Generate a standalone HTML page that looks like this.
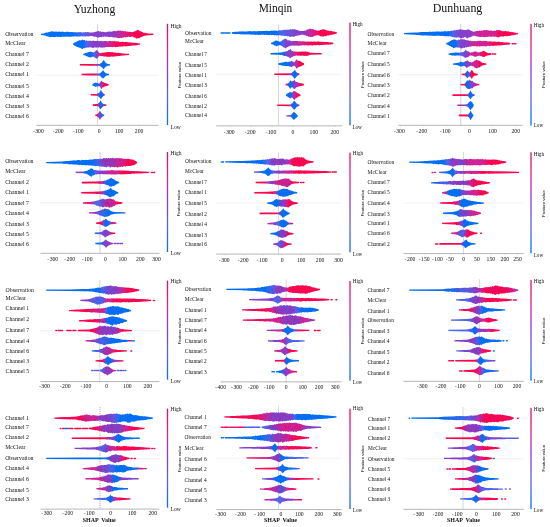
<!DOCTYPE html>
<html><head><meta charset="utf-8"><title>SHAP summary plots</title>
<style>
html,body{margin:0;padding:0;background:#fff;}
svg{display:block;font-family:"Liberation Serif","DejaVu Serif",serif;}
.sf{font-family:"Liberation Sans","DejaVu Sans",sans-serif;}
</style></head><body>
<svg width="550" height="527" viewBox="0 0 550 527">
<defs>
<linearGradient id="g1" gradientUnits="userSpaceOnUse" x1="40.96" x2="153.29" y1="0" y2="0"><stop offset="0" stop-color="#046ef2"/><stop offset="0.29" stop-color="#046ef2"/><stop offset="0.37" stop-color="#5064ec"/><stop offset="0.47" stop-color="#873ecd"/><stop offset="0.63" stop-color="#873ecd"/><stop offset="0.73" stop-color="#d02296"/><stop offset="0.82" stop-color="#fa0550"/><stop offset="1" stop-color="#fa0550"/></linearGradient>
<linearGradient id="g2" gradientUnits="userSpaceOnUse" x1="73.09" x2="140.09" y1="0" y2="0"><stop offset="0" stop-color="#046ef2"/><stop offset="0.15" stop-color="#046ef2"/><stop offset="0.2" stop-color="#5064ec"/><stop offset="0.29" stop-color="#873ecd"/><stop offset="0.42" stop-color="#873ecd"/><stop offset="0.53" stop-color="#d02296"/><stop offset="0.68" stop-color="#fa0550"/><stop offset="1" stop-color="#fa0550"/></linearGradient>
<linearGradient id="g3" gradientUnits="userSpaceOnUse" x1="83.3" x2="129.13" y1="0" y2="0"><stop offset="0" stop-color="#046ef2"/><stop offset="0.19" stop-color="#046ef2"/><stop offset="0.24" stop-color="#5064ec"/><stop offset="0.3" stop-color="#873ecd"/><stop offset="0.36" stop-color="#d02296"/><stop offset="0.43" stop-color="#fa0550"/><stop offset="1" stop-color="#fa0550"/></linearGradient>
<linearGradient id="g4" gradientUnits="userSpaceOnUse" x1="79.81" x2="109.95" y1="0" y2="0"><stop offset="0" stop-color="#fa0550"/><stop offset="0.41" stop-color="#fa0550"/><stop offset="0.62" stop-color="#873ecd"/><stop offset="0.73" stop-color="#046ef2"/><stop offset="1" stop-color="#046ef2"/></linearGradient>
<linearGradient id="g5" gradientUnits="userSpaceOnUse" x1="81.56" x2="108.95" y1="0" y2="0"><stop offset="0" stop-color="#fa0550"/><stop offset="0.39" stop-color="#fa0550"/><stop offset="0.61" stop-color="#873ecd"/><stop offset="0.72" stop-color="#046ef2"/><stop offset="1" stop-color="#046ef2"/></linearGradient>
<linearGradient id="g6" gradientUnits="userSpaceOnUse" x1="92.27" x2="108.7" y1="0" y2="0"><stop offset="0" stop-color="#046ef2"/><stop offset="0.36" stop-color="#046ef2"/><stop offset="0.48" stop-color="#873ecd"/><stop offset="0.61" stop-color="#d02296"/><stop offset="0.76" stop-color="#fa0550"/><stop offset="1" stop-color="#fa0550"/></linearGradient>
<linearGradient id="g7" gradientUnits="userSpaceOnUse" x1="90.77" x2="104.72" y1="0" y2="0"><stop offset="0" stop-color="#fa0550"/><stop offset="0.32" stop-color="#fa0550"/><stop offset="0.52" stop-color="#873ecd"/><stop offset="0.66" stop-color="#046ef2"/><stop offset="0.88" stop-color="#046ef2"/><stop offset="0.96" stop-color="#d02296"/><stop offset="1" stop-color="#fa0550"/></linearGradient>
<linearGradient id="g8" gradientUnits="userSpaceOnUse" x1="92.76" x2="106.46" y1="0" y2="0"><stop offset="0" stop-color="#fa0550"/><stop offset="0.33" stop-color="#fa0550"/><stop offset="0.45" stop-color="#873ecd"/><stop offset="0.55" stop-color="#046ef2"/><stop offset="0.67" stop-color="#046ef2"/><stop offset="0.78" stop-color="#873ecd"/><stop offset="1" stop-color="#d02296"/></linearGradient>
<linearGradient id="g9" gradientUnits="userSpaceOnUse" x1="95.26" x2="104.22" y1="0" y2="0"><stop offset="0" stop-color="#fa0550"/><stop offset="0.28" stop-color="#d02296"/><stop offset="0.5" stop-color="#873ecd"/><stop offset="0.67" stop-color="#046ef2"/><stop offset="0.83" stop-color="#5064ec"/><stop offset="1" stop-color="#873ecd"/></linearGradient>
<linearGradient id="g10" gradientUnits="userSpaceOnUse" x1="221.21" x2="337.02" y1="0" y2="0"><stop offset="0" stop-color="#046ef2"/><stop offset="0.47" stop-color="#046ef2"/><stop offset="0.53" stop-color="#5064ec"/><stop offset="0.65" stop-color="#873ecd"/><stop offset="0.71" stop-color="#873ecd"/><stop offset="0.78" stop-color="#d02296"/><stop offset="0.85" stop-color="#fa0550"/><stop offset="1" stop-color="#fa0550"/></linearGradient>
<linearGradient id="g11" gradientUnits="userSpaceOnUse" x1="271.02" x2="333.29" y1="0" y2="0"><stop offset="0" stop-color="#046ef2"/><stop offset="0.14" stop-color="#046ef2"/><stop offset="0.19" stop-color="#5064ec"/><stop offset="0.24" stop-color="#873ecd"/><stop offset="0.32" stop-color="#873ecd"/><stop offset="0.48" stop-color="#d02296"/><stop offset="0.68" stop-color="#fa0550"/><stop offset="1" stop-color="#fa0550"/></linearGradient>
<linearGradient id="g12" gradientUnits="userSpaceOnUse" x1="270.52" x2="321.58" y1="0" y2="0"><stop offset="0" stop-color="#046ef2"/><stop offset="0.26" stop-color="#046ef2"/><stop offset="0.32" stop-color="#873ecd"/><stop offset="0.4" stop-color="#873ecd"/><stop offset="0.47" stop-color="#d02296"/><stop offset="0.58" stop-color="#fa0550"/><stop offset="1" stop-color="#fa0550"/></linearGradient>
<linearGradient id="g13" gradientUnits="userSpaceOnUse" x1="278.49" x2="304.15" y1="0" y2="0"><stop offset="0" stop-color="#046ef2"/><stop offset="0.44" stop-color="#046ef2"/><stop offset="0.51" stop-color="#873ecd"/><stop offset="0.63" stop-color="#873ecd"/><stop offset="0.71" stop-color="#d02296"/><stop offset="0.81" stop-color="#fa0550"/><stop offset="1" stop-color="#fa0550"/></linearGradient>
<linearGradient id="g14" gradientUnits="userSpaceOnUse" x1="274.26" x2="299.41" y1="0" y2="0"><stop offset="0" stop-color="#fa0550"/><stop offset="0.51" stop-color="#fa0550"/><stop offset="0.67" stop-color="#873ecd"/><stop offset="0.76" stop-color="#046ef2"/><stop offset="0.87" stop-color="#046ef2"/><stop offset="0.94" stop-color="#873ecd"/><stop offset="1" stop-color="#873ecd"/></linearGradient>
<linearGradient id="g15" gradientUnits="userSpaceOnUse" x1="285.47" x2="303.9" y1="0" y2="0"><stop offset="0" stop-color="#d02296"/><stop offset="0.09" stop-color="#d02296"/><stop offset="0.18" stop-color="#046ef2"/><stop offset="0.34" stop-color="#046ef2"/><stop offset="0.43" stop-color="#873ecd"/><stop offset="0.57" stop-color="#873ecd"/><stop offset="0.68" stop-color="#d02296"/><stop offset="0.8" stop-color="#fa0550"/><stop offset="1" stop-color="#fa0550"/></linearGradient>
<linearGradient id="g16" gradientUnits="userSpaceOnUse" x1="285.97" x2="300.54" y1="0" y2="0"><stop offset="0" stop-color="#046ef2"/><stop offset="0.34" stop-color="#046ef2"/><stop offset="0.46" stop-color="#873ecd"/><stop offset="0.62" stop-color="#d02296"/><stop offset="0.84" stop-color="#fa0550"/><stop offset="1" stop-color="#fa0550"/></linearGradient>
<linearGradient id="g17" gradientUnits="userSpaceOnUse" x1="277.25" x2="299.41" y1="0" y2="0"><stop offset="0" stop-color="#fa0550"/><stop offset="0.45" stop-color="#fa0550"/><stop offset="0.63" stop-color="#873ecd"/><stop offset="0.71" stop-color="#046ef2"/><stop offset="0.84" stop-color="#046ef2"/><stop offset="0.91" stop-color="#873ecd"/><stop offset="1" stop-color="#873ecd"/></linearGradient>
<linearGradient id="g18" gradientUnits="userSpaceOnUse" x1="286.46" x2="297.67" y1="0" y2="0"><stop offset="0" stop-color="#873ecd"/><stop offset="0.24" stop-color="#873ecd"/><stop offset="0.4" stop-color="#5064ec"/><stop offset="0.53" stop-color="#046ef2"/><stop offset="1" stop-color="#046ef2"/></linearGradient>
<linearGradient id="g19" gradientUnits="userSpaceOnUse" x1="403.96" x2="518.03" y1="0" y2="0"><stop offset="0" stop-color="#046ef2"/><stop offset="0.39" stop-color="#046ef2"/><stop offset="0.43" stop-color="#5064ec"/><stop offset="0.49" stop-color="#873ecd"/><stop offset="0.57" stop-color="#873ecd"/><stop offset="0.66" stop-color="#d02296"/><stop offset="0.79" stop-color="#d02296"/><stop offset="0.84" stop-color="#fa0550"/><stop offset="1" stop-color="#fa0550"/></linearGradient>
<linearGradient id="g20" gradientUnits="userSpaceOnUse" x1="446.3" x2="510.31" y1="0" y2="0"><stop offset="0" stop-color="#046ef2"/><stop offset="0.14" stop-color="#046ef2"/><stop offset="0.18" stop-color="#5064ec"/><stop offset="0.23" stop-color="#873ecd"/><stop offset="0.33" stop-color="#873ecd"/><stop offset="0.42" stop-color="#d02296"/><stop offset="0.63" stop-color="#d02296"/><stop offset="0.74" stop-color="#fa0550"/><stop offset="1" stop-color="#fa0550"/></linearGradient>
<linearGradient id="g21" gradientUnits="userSpaceOnUse" x1="448.54" x2="491.38" y1="0" y2="0"><stop offset="0" stop-color="#046ef2"/><stop offset="0.23" stop-color="#046ef2"/><stop offset="0.3" stop-color="#5064ec"/><stop offset="0.4" stop-color="#873ecd"/><stop offset="0.45" stop-color="#873ecd"/><stop offset="0.52" stop-color="#d02296"/><stop offset="0.71" stop-color="#d02296"/><stop offset="0.81" stop-color="#fa0550"/><stop offset="1" stop-color="#fa0550"/></linearGradient>
<linearGradient id="g22" gradientUnits="userSpaceOnUse" x1="453.02" x2="486.4" y1="0" y2="0"><stop offset="0" stop-color="#046ef2"/><stop offset="0.31" stop-color="#046ef2"/><stop offset="0.4" stop-color="#873ecd"/><stop offset="0.48" stop-color="#873ecd"/><stop offset="0.57" stop-color="#d02296"/><stop offset="0.72" stop-color="#d02296"/><stop offset="0.8" stop-color="#fa0550"/><stop offset="1" stop-color="#fa0550"/></linearGradient>
<linearGradient id="g23" gradientUnits="userSpaceOnUse" x1="461.74" x2="477.68" y1="0" y2="0"><stop offset="0" stop-color="#fa0550"/><stop offset="0.2" stop-color="#fa0550"/><stop offset="0.28" stop-color="#046ef2"/><stop offset="0.42" stop-color="#046ef2"/><stop offset="0.5" stop-color="#873ecd"/><stop offset="0.59" stop-color="#fa0550"/><stop offset="1" stop-color="#fa0550"/></linearGradient>
<linearGradient id="g24" gradientUnits="userSpaceOnUse" x1="460.5" x2="479.18" y1="0" y2="0"><stop offset="0" stop-color="#fa0550"/><stop offset="0.23" stop-color="#fa0550"/><stop offset="0.29" stop-color="#046ef2"/><stop offset="0.43" stop-color="#046ef2"/><stop offset="0.53" stop-color="#873ecd"/><stop offset="0.71" stop-color="#873ecd"/><stop offset="0.8" stop-color="#d02296"/><stop offset="1" stop-color="#fa0550"/></linearGradient>
<linearGradient id="g25" gradientUnits="userSpaceOnUse" x1="452.53" x2="474.69" y1="0" y2="0"><stop offset="0" stop-color="#fa0550"/><stop offset="0.6" stop-color="#fa0550"/><stop offset="0.71" stop-color="#873ecd"/><stop offset="0.76" stop-color="#046ef2"/><stop offset="0.92" stop-color="#046ef2"/><stop offset="1" stop-color="#873ecd"/></linearGradient>
<linearGradient id="g26" gradientUnits="userSpaceOnUse" x1="457.26" x2="473.7" y1="0" y2="0"><stop offset="0" stop-color="#d02296"/><stop offset="0.45" stop-color="#873ecd"/><stop offset="0.61" stop-color="#5064ec"/><stop offset="0.71" stop-color="#046ef2"/><stop offset="1" stop-color="#046ef2"/></linearGradient>
<linearGradient id="g27" gradientUnits="userSpaceOnUse" x1="458.75" x2="473.45" y1="0" y2="0"><stop offset="0" stop-color="#fa0550"/><stop offset="0.53" stop-color="#fa0550"/><stop offset="0.66" stop-color="#873ecd"/><stop offset="0.75" stop-color="#046ef2"/><stop offset="1" stop-color="#046ef2"/></linearGradient>
<linearGradient id="g28" gradientUnits="userSpaceOnUse" x1="46.19" x2="137.1" y1="0" y2="0"><stop offset="0" stop-color="#046ef2"/><stop offset="0.51" stop-color="#046ef2"/><stop offset="0.58" stop-color="#5064ec"/><stop offset="0.64" stop-color="#873ecd"/><stop offset="0.72" stop-color="#873ecd"/><stop offset="0.78" stop-color="#d02296"/><stop offset="0.84" stop-color="#d02296"/><stop offset="0.9" stop-color="#fa0550"/><stop offset="1" stop-color="#fa0550"/></linearGradient>
<linearGradient id="g29" gradientUnits="userSpaceOnUse" x1="75.58" x2="149.05" y1="0" y2="0"><stop offset="0" stop-color="#873ecd"/><stop offset="0.09" stop-color="#873ecd"/><stop offset="0.13" stop-color="#046ef2"/><stop offset="0.24" stop-color="#046ef2"/><stop offset="0.27" stop-color="#5064ec"/><stop offset="0.31" stop-color="#873ecd"/><stop offset="0.39" stop-color="#873ecd"/><stop offset="0.45" stop-color="#d02296"/><stop offset="0.57" stop-color="#d02296"/><stop offset="0.63" stop-color="#fa0550"/><stop offset="1" stop-color="#fa0550"/></linearGradient>
<linearGradient id="g30" gradientUnits="userSpaceOnUse" x1="81.81" x2="119.17" y1="0" y2="0"><stop offset="0" stop-color="#fa0550"/><stop offset="0.4" stop-color="#fa0550"/><stop offset="0.51" stop-color="#d02296"/><stop offset="0.59" stop-color="#873ecd"/><stop offset="0.67" stop-color="#046ef2"/><stop offset="1" stop-color="#046ef2"/></linearGradient>
<linearGradient id="g31" gradientUnits="userSpaceOnUse" x1="81.31" x2="118.17" y1="0" y2="0"><stop offset="0" stop-color="#fa0550"/><stop offset="0.41" stop-color="#fa0550"/><stop offset="0.52" stop-color="#d02296"/><stop offset="0.6" stop-color="#873ecd"/><stop offset="0.68" stop-color="#046ef2"/><stop offset="1" stop-color="#046ef2"/></linearGradient>
<linearGradient id="g32" gradientUnits="userSpaceOnUse" x1="83.05" x2="122.4" y1="0" y2="0"><stop offset="0" stop-color="#fa0550"/><stop offset="0.23" stop-color="#d02296"/><stop offset="0.31" stop-color="#5064ec"/><stop offset="0.42" stop-color="#5064ec"/><stop offset="0.5" stop-color="#873ecd"/><stop offset="0.77" stop-color="#d02296"/><stop offset="0.85" stop-color="#fa0550"/><stop offset="1" stop-color="#fa0550"/></linearGradient>
<linearGradient id="g33" gradientUnits="userSpaceOnUse" x1="89.03" x2="125.39" y1="0" y2="0"><stop offset="0" stop-color="#d02296"/><stop offset="0.17" stop-color="#873ecd"/><stop offset="0.31" stop-color="#5064ec"/><stop offset="0.55" stop-color="#046ef2"/><stop offset="0.95" stop-color="#046ef2"/><stop offset="1" stop-color="#d02296"/></linearGradient>
<linearGradient id="g34" gradientUnits="userSpaceOnUse" x1="96" x2="116.43" y1="0" y2="0"><stop offset="0" stop-color="#fa0550"/><stop offset="0.24" stop-color="#fa0550"/><stop offset="0.35" stop-color="#873ecd"/><stop offset="0.46" stop-color="#046ef2"/><stop offset="0.6" stop-color="#046ef2"/><stop offset="0.72" stop-color="#873ecd"/><stop offset="0.85" stop-color="#d02296"/><stop offset="1" stop-color="#fa0550"/></linearGradient>
<linearGradient id="g35" gradientUnits="userSpaceOnUse" x1="94.76" x2="115.18" y1="0" y2="0"><stop offset="0" stop-color="#046ef2"/><stop offset="0.27" stop-color="#5064ec"/><stop offset="0.46" stop-color="#873ecd"/><stop offset="0.67" stop-color="#873ecd"/><stop offset="0.83" stop-color="#d02296"/><stop offset="0.95" stop-color="#fa0550"/><stop offset="1" stop-color="#fa0550"/></linearGradient>
<linearGradient id="g36" gradientUnits="userSpaceOnUse" x1="95.26" x2="112.94" y1="0" y2="0"><stop offset="0" stop-color="#046ef2"/><stop offset="0.37" stop-color="#046ef2"/><stop offset="0.54" stop-color="#873ecd"/><stop offset="0.82" stop-color="#873ecd"/><stop offset="1" stop-color="#d02296"/></linearGradient>
<linearGradient id="g37" gradientUnits="userSpaceOnUse" x1="221.46" x2="313.61" y1="0" y2="0"><stop offset="0" stop-color="#046ef2"/><stop offset="0.44" stop-color="#046ef2"/><stop offset="0.5" stop-color="#5064ec"/><stop offset="0.56" stop-color="#873ecd"/><stop offset="0.7" stop-color="#873ecd"/><stop offset="0.74" stop-color="#d02296"/><stop offset="0.78" stop-color="#fa0550"/><stop offset="1" stop-color="#fa0550"/></linearGradient>
<linearGradient id="g38" gradientUnits="userSpaceOnUse" x1="254.08" x2="331.05" y1="0" y2="0"><stop offset="0" stop-color="#873ecd"/><stop offset="0.08" stop-color="#5064ec"/><stop offset="0.11" stop-color="#046ef2"/><stop offset="0.21" stop-color="#046ef2"/><stop offset="0.24" stop-color="#5064ec"/><stop offset="0.28" stop-color="#873ecd"/><stop offset="0.36" stop-color="#873ecd"/><stop offset="0.41" stop-color="#d02296"/><stop offset="0.49" stop-color="#d02296"/><stop offset="0.53" stop-color="#fa0550"/><stop offset="1" stop-color="#fa0550"/></linearGradient>
<linearGradient id="g39" gradientUnits="userSpaceOnUse" x1="255.58" x2="299.17" y1="0" y2="0"><stop offset="0" stop-color="#fa0550"/><stop offset="0.21" stop-color="#fa0550"/><stop offset="0.27" stop-color="#873ecd"/><stop offset="0.38" stop-color="#873ecd"/><stop offset="0.49" stop-color="#d02296"/><stop offset="0.78" stop-color="#d02296"/><stop offset="0.84" stop-color="#fa0550"/><stop offset="1" stop-color="#fa0550"/></linearGradient>
<linearGradient id="g40" gradientUnits="userSpaceOnUse" x1="254.33" x2="297.17" y1="0" y2="0"><stop offset="0" stop-color="#fa0550"/><stop offset="0.41" stop-color="#fa0550"/><stop offset="0.47" stop-color="#d02296"/><stop offset="0.52" stop-color="#873ecd"/><stop offset="0.59" stop-color="#046ef2"/><stop offset="1" stop-color="#046ef2"/></linearGradient>
<linearGradient id="g41" gradientUnits="userSpaceOnUse" x1="267.29" x2="297.92" y1="0" y2="0"><stop offset="0" stop-color="#046ef2"/><stop offset="0.37" stop-color="#046ef2"/><stop offset="0.45" stop-color="#873ecd"/><stop offset="0.54" stop-color="#873ecd"/><stop offset="0.62" stop-color="#d02296"/><stop offset="0.72" stop-color="#fa0550"/><stop offset="1" stop-color="#fa0550"/></linearGradient>
<linearGradient id="g42" gradientUnits="userSpaceOnUse" x1="259.56" x2="289.7" y1="0" y2="0"><stop offset="0" stop-color="#fa0550"/><stop offset="0.57" stop-color="#fa0550"/><stop offset="0.65" stop-color="#873ecd"/><stop offset="0.72" stop-color="#046ef2"/><stop offset="1" stop-color="#046ef2"/></linearGradient>
<linearGradient id="g43" gradientUnits="userSpaceOnUse" x1="267.53" x2="293.09" y1="0" y2="0"><stop offset="0" stop-color="#d02296"/><stop offset="0.26" stop-color="#873ecd"/><stop offset="0.43" stop-color="#5064ec"/><stop offset="0.52" stop-color="#046ef2"/><stop offset="0.79" stop-color="#046ef2"/><stop offset="0.87" stop-color="#d02296"/><stop offset="1" stop-color="#fa0550"/></linearGradient>
<linearGradient id="g44" gradientUnits="userSpaceOnUse" x1="270.27" x2="293.44" y1="0" y2="0"><stop offset="0" stop-color="#046ef2"/><stop offset="0.28" stop-color="#046ef2"/><stop offset="0.45" stop-color="#873ecd"/><stop offset="0.65" stop-color="#873ecd"/><stop offset="0.75" stop-color="#fa0550"/><stop offset="1" stop-color="#fa0550"/></linearGradient>
<linearGradient id="g45" gradientUnits="userSpaceOnUse" x1="273.16" x2="291.69" y1="0" y2="0"><stop offset="0" stop-color="#d02296"/><stop offset="0.19" stop-color="#873ecd"/><stop offset="0.35" stop-color="#5064ec"/><stop offset="0.49" stop-color="#873ecd"/><stop offset="0.62" stop-color="#d02296"/><stop offset="0.73" stop-color="#fa0550"/><stop offset="1" stop-color="#fa0550"/></linearGradient>
<linearGradient id="g46" gradientUnits="userSpaceOnUse" x1="409.19" x2="506.2" y1="0" y2="0"><stop offset="0" stop-color="#046ef2"/><stop offset="0.35" stop-color="#046ef2"/><stop offset="0.4" stop-color="#5064ec"/><stop offset="0.45" stop-color="#873ecd"/><stop offset="0.56" stop-color="#873ecd"/><stop offset="0.62" stop-color="#d02296"/><stop offset="0.77" stop-color="#d02296"/><stop offset="0.82" stop-color="#fa0550"/><stop offset="1" stop-color="#fa0550"/></linearGradient>
<linearGradient id="g47" gradientUnits="userSpaceOnUse" x1="439.08" x2="519.03" y1="0" y2="0"><stop offset="0" stop-color="#5064ec"/><stop offset="0.11" stop-color="#046ef2"/><stop offset="0.17" stop-color="#046ef2"/><stop offset="0.2" stop-color="#5064ec"/><stop offset="0.23" stop-color="#873ecd"/><stop offset="0.3" stop-color="#873ecd"/><stop offset="0.35" stop-color="#d02296"/><stop offset="0.47" stop-color="#d02296"/><stop offset="0.53" stop-color="#fa0550"/><stop offset="1" stop-color="#fa0550"/></linearGradient>
<linearGradient id="g48" gradientUnits="userSpaceOnUse" x1="431.11" x2="489.89" y1="0" y2="0"><stop offset="0" stop-color="#046ef2"/><stop offset="0.2" stop-color="#5064ec"/><stop offset="0.41" stop-color="#873ecd"/><stop offset="0.59" stop-color="#873ecd"/><stop offset="0.66" stop-color="#d02296"/><stop offset="0.75" stop-color="#fa0550"/><stop offset="1" stop-color="#fa0550"/></linearGradient>
<linearGradient id="g49" gradientUnits="userSpaceOnUse" x1="442.07" x2="488.64" y1="0" y2="0"><stop offset="0" stop-color="#d02296"/><stop offset="0.08" stop-color="#d02296"/><stop offset="0.13" stop-color="#046ef2"/><stop offset="0.38" stop-color="#046ef2"/><stop offset="0.44" stop-color="#873ecd"/><stop offset="0.53" stop-color="#873ecd"/><stop offset="0.61" stop-color="#d02296"/><stop offset="0.74" stop-color="#d02296"/><stop offset="0.82" stop-color="#fa0550"/><stop offset="1" stop-color="#fa0550"/></linearGradient>
<linearGradient id="g50" gradientUnits="userSpaceOnUse" x1="440.32" x2="483.91" y1="0" y2="0"><stop offset="0" stop-color="#fa0550"/><stop offset="0.31" stop-color="#fa0550"/><stop offset="0.39" stop-color="#d02296"/><stop offset="0.43" stop-color="#873ecd"/><stop offset="0.48" stop-color="#046ef2"/><stop offset="1" stop-color="#046ef2"/></linearGradient>
<linearGradient id="g51" gradientUnits="userSpaceOnUse" x1="443.06" x2="480.92" y1="0" y2="0"><stop offset="0" stop-color="#046ef2"/><stop offset="0.4" stop-color="#046ef2"/><stop offset="0.49" stop-color="#873ecd"/><stop offset="0.65" stop-color="#873ecd"/><stop offset="0.75" stop-color="#d02296"/><stop offset="0.91" stop-color="#d02296"/><stop offset="1" stop-color="#fa0550"/></linearGradient>
<linearGradient id="g52" gradientUnits="userSpaceOnUse" x1="442.07" x2="478.43" y1="0" y2="0"><stop offset="0" stop-color="#fa0550"/><stop offset="0.41" stop-color="#fa0550"/><stop offset="0.49" stop-color="#873ecd"/><stop offset="0.55" stop-color="#873ecd"/><stop offset="0.6" stop-color="#046ef2"/><stop offset="1" stop-color="#046ef2"/></linearGradient>
<linearGradient id="g53" gradientUnits="userSpaceOnUse" x1="451.18" x2="477.43" y1="0" y2="0"><stop offset="0" stop-color="#d02296"/><stop offset="0.23" stop-color="#d02296"/><stop offset="0.33" stop-color="#5064ec"/><stop offset="0.46" stop-color="#5064ec"/><stop offset="0.54" stop-color="#873ecd"/><stop offset="0.61" stop-color="#fa0550"/><stop offset="1" stop-color="#fa0550"/></linearGradient>
<linearGradient id="g54" gradientUnits="userSpaceOnUse" x1="439.33" x2="475.62" y1="0" y2="0"><stop offset="0" stop-color="#fa0550"/><stop offset="0.54" stop-color="#fa0550"/><stop offset="0.62" stop-color="#873ecd"/><stop offset="0.69" stop-color="#046ef2"/><stop offset="1" stop-color="#046ef2"/></linearGradient>
<linearGradient id="g55" gradientUnits="userSpaceOnUse" x1="46.19" x2="139.09" y1="0" y2="0"><stop offset="0" stop-color="#046ef2"/><stop offset="0.55" stop-color="#046ef2"/><stop offset="0.62" stop-color="#5064ec"/><stop offset="0.7" stop-color="#873ecd"/><stop offset="0.76" stop-color="#873ecd"/><stop offset="0.82" stop-color="#d02296"/><stop offset="0.89" stop-color="#fa0550"/><stop offset="1" stop-color="#fa0550"/></linearGradient>
<linearGradient id="g56" gradientUnits="userSpaceOnUse" x1="80.31" x2="151.05" y1="0" y2="0"><stop offset="0" stop-color="#873ecd"/><stop offset="0.13" stop-color="#873ecd"/><stop offset="0.19" stop-color="#5064ec"/><stop offset="0.31" stop-color="#5064ec"/><stop offset="0.37" stop-color="#d02296"/><stop offset="0.43" stop-color="#d02296"/><stop offset="0.49" stop-color="#fa0550"/><stop offset="1" stop-color="#fa0550"/></linearGradient>
<linearGradient id="g57" gradientUnits="userSpaceOnUse" x1="69.1" x2="130.87" y1="0" y2="0"><stop offset="0" stop-color="#fa0550"/><stop offset="0.31" stop-color="#fa0550"/><stop offset="0.46" stop-color="#d02296"/><stop offset="0.56" stop-color="#d02296"/><stop offset="0.6" stop-color="#5064ec"/><stop offset="0.63" stop-color="#046ef2"/><stop offset="1" stop-color="#046ef2"/></linearGradient>
<linearGradient id="g58" gradientUnits="userSpaceOnUse" x1="79.07" x2="127.14" y1="0" y2="0"><stop offset="0" stop-color="#fa0550"/><stop offset="0.34" stop-color="#fa0550"/><stop offset="0.46" stop-color="#d02296"/><stop offset="0.53" stop-color="#873ecd"/><stop offset="0.59" stop-color="#046ef2"/><stop offset="1" stop-color="#046ef2"/></linearGradient>
<linearGradient id="g59" gradientUnits="userSpaceOnUse" x1="77.82" x2="131.87" y1="0" y2="0"><stop offset="0" stop-color="#fa0550"/><stop offset="0.27" stop-color="#fa0550"/><stop offset="0.36" stop-color="#d02296"/><stop offset="0.45" stop-color="#873ecd"/><stop offset="0.68" stop-color="#873ecd"/><stop offset="0.77" stop-color="#d02296"/><stop offset="0.83" stop-color="#fa0550"/><stop offset="1" stop-color="#fa0550"/></linearGradient>
<linearGradient id="g60" gradientUnits="userSpaceOnUse" x1="85.54" x2="135.11" y1="0" y2="0"><stop offset="0" stop-color="#d02296"/><stop offset="0.19" stop-color="#873ecd"/><stop offset="0.31" stop-color="#5064ec"/><stop offset="0.54" stop-color="#046ef2"/><stop offset="0.85" stop-color="#046ef2"/><stop offset="0.88" stop-color="#fa0550"/><stop offset="0.91" stop-color="#fa0550"/><stop offset="0.94" stop-color="#046ef2"/><stop offset="1" stop-color="#046ef2"/></linearGradient>
<linearGradient id="g61" gradientUnits="userSpaceOnUse" x1="91.77" x2="126.89" y1="0" y2="0"><stop offset="0" stop-color="#046ef2"/><stop offset="0.19" stop-color="#5064ec"/><stop offset="0.33" stop-color="#873ecd"/><stop offset="0.55" stop-color="#d02296"/><stop offset="0.69" stop-color="#fa0550"/><stop offset="1" stop-color="#fa0550"/></linearGradient>
<linearGradient id="g62" gradientUnits="userSpaceOnUse" x1="95.5" x2="123.4" y1="0" y2="0"><stop offset="0" stop-color="#fa0550"/><stop offset="0.26" stop-color="#fa0550"/><stop offset="0.33" stop-color="#873ecd"/><stop offset="0.4" stop-color="#046ef2"/><stop offset="0.55" stop-color="#046ef2"/><stop offset="0.67" stop-color="#873ecd"/><stop offset="0.79" stop-color="#d02296"/><stop offset="1" stop-color="#fa0550"/></linearGradient>
<linearGradient id="g63" gradientUnits="userSpaceOnUse" x1="99.74" x2="115.93" y1="0" y2="0"><stop offset="0" stop-color="#5064ec"/><stop offset="0.18" stop-color="#5064ec"/><stop offset="0.34" stop-color="#873ecd"/><stop offset="0.65" stop-color="#873ecd"/><stop offset="0.8" stop-color="#d02296"/><stop offset="1" stop-color="#d02296"/></linearGradient>
<linearGradient id="g64" gradientUnits="userSpaceOnUse" x1="226.44" x2="320.09" y1="0" y2="0"><stop offset="0" stop-color="#046ef2"/><stop offset="0.41" stop-color="#046ef2"/><stop offset="0.48" stop-color="#5064ec"/><stop offset="0.56" stop-color="#873ecd"/><stop offset="0.62" stop-color="#873ecd"/><stop offset="0.64" stop-color="#d02296"/><stop offset="0.67" stop-color="#fa0550"/><stop offset="1" stop-color="#fa0550"/></linearGradient>
<linearGradient id="g65" gradientUnits="userSpaceOnUse" x1="249.1" x2="329.05" y1="0" y2="0"><stop offset="0" stop-color="#873ecd"/><stop offset="0.29" stop-color="#873ecd"/><stop offset="0.32" stop-color="#5064ec"/><stop offset="0.38" stop-color="#5064ec"/><stop offset="0.42" stop-color="#d02296"/><stop offset="0.57" stop-color="#d02296"/><stop offset="0.62" stop-color="#fa0550"/><stop offset="1" stop-color="#fa0550"/></linearGradient>
<linearGradient id="g66" gradientUnits="userSpaceOnUse" x1="242.13" x2="318.84" y1="0" y2="0"><stop offset="0" stop-color="#fa0550"/><stop offset="0.32" stop-color="#fa0550"/><stop offset="0.39" stop-color="#d02296"/><stop offset="0.46" stop-color="#873ecd"/><stop offset="0.65" stop-color="#873ecd"/><stop offset="0.71" stop-color="#5064ec"/><stop offset="0.78" stop-color="#046ef2"/><stop offset="1" stop-color="#046ef2"/></linearGradient>
<linearGradient id="g67" gradientUnits="userSpaceOnUse" x1="242.88" x2="315.11" y1="0" y2="0"><stop offset="0" stop-color="#fa0550"/><stop offset="0.23" stop-color="#fa0550"/><stop offset="0.41" stop-color="#d02296"/><stop offset="0.51" stop-color="#d02296"/><stop offset="0.58" stop-color="#873ecd"/><stop offset="0.75" stop-color="#873ecd"/><stop offset="0.84" stop-color="#d02296"/><stop offset="1" stop-color="#873ecd"/></linearGradient>
<linearGradient id="g68" gradientUnits="userSpaceOnUse" x1="266.79" x2="309.38" y1="0" y2="0"><stop offset="0" stop-color="#873ecd"/><stop offset="0.36" stop-color="#d02296"/><stop offset="0.42" stop-color="#046ef2"/><stop offset="0.58" stop-color="#046ef2"/><stop offset="0.68" stop-color="#873ecd"/><stop offset="0.8" stop-color="#fa0550"/><stop offset="1" stop-color="#fa0550"/></linearGradient>
<linearGradient id="g69" gradientUnits="userSpaceOnUse" x1="267.91" x2="304.65" y1="0" y2="0"><stop offset="0" stop-color="#873ecd"/><stop offset="0.29" stop-color="#873ecd"/><stop offset="0.42" stop-color="#d02296"/><stop offset="0.48" stop-color="#873ecd"/><stop offset="0.54" stop-color="#5064ec"/><stop offset="1" stop-color="#5064ec"/></linearGradient>
<linearGradient id="g70" gradientUnits="userSpaceOnUse" x1="274.13" x2="297.67" y1="0" y2="0"><stop offset="0" stop-color="#d02296"/><stop offset="0.24" stop-color="#d02296"/><stop offset="0.37" stop-color="#873ecd"/><stop offset="0.53" stop-color="#873ecd"/><stop offset="0.64" stop-color="#fa0550"/><stop offset="1" stop-color="#fa0550"/></linearGradient>
<linearGradient id="g71" gradientUnits="userSpaceOnUse" x1="274.93" x2="298.92" y1="0" y2="0"><stop offset="0" stop-color="#fa0550"/><stop offset="0.34" stop-color="#fa0550"/><stop offset="0.42" stop-color="#873ecd"/><stop offset="0.47" stop-color="#046ef2"/><stop offset="1" stop-color="#046ef2"/></linearGradient>
<linearGradient id="g72" gradientUnits="userSpaceOnUse" x1="276.1" x2="296.92" y1="0" y2="0"><stop offset="0" stop-color="#046ef2"/><stop offset="0.27" stop-color="#046ef2"/><stop offset="0.39" stop-color="#873ecd"/><stop offset="0.56" stop-color="#873ecd"/><stop offset="0.68" stop-color="#d02296"/><stop offset="1" stop-color="#fa0550"/></linearGradient>
<linearGradient id="g73" gradientUnits="userSpaceOnUse" x1="409.19" x2="518.28" y1="0" y2="0"><stop offset="0" stop-color="#046ef2"/><stop offset="0.33" stop-color="#046ef2"/><stop offset="0.51" stop-color="#5064ec"/><stop offset="0.62" stop-color="#873ecd"/><stop offset="0.66" stop-color="#d02296"/><stop offset="0.7" stop-color="#fa0550"/><stop offset="0.9" stop-color="#fa0550"/><stop offset="0.96" stop-color="#d02296"/><stop offset="1" stop-color="#873ecd"/></linearGradient>
<linearGradient id="g74" gradientUnits="userSpaceOnUse" x1="456.01" x2="512.05" y1="0" y2="0"><stop offset="0" stop-color="#5064ec"/><stop offset="0.21" stop-color="#5064ec"/><stop offset="0.32" stop-color="#873ecd"/><stop offset="0.41" stop-color="#873ecd"/><stop offset="0.47" stop-color="#d02296"/><stop offset="0.56" stop-color="#fa0550"/><stop offset="1" stop-color="#fa0550"/></linearGradient>
<linearGradient id="g75" gradientUnits="userSpaceOnUse" x1="459" x2="505.08" y1="0" y2="0"><stop offset="0" stop-color="#fa0550"/><stop offset="0.22" stop-color="#fa0550"/><stop offset="0.3" stop-color="#d02296"/><stop offset="0.41" stop-color="#873ecd"/><stop offset="0.47" stop-color="#5064ec"/><stop offset="0.52" stop-color="#046ef2"/><stop offset="1" stop-color="#046ef2"/></linearGradient>
<linearGradient id="g76" gradientUnits="userSpaceOnUse" x1="451.03" x2="497.61" y1="0" y2="0"><stop offset="0" stop-color="#5064ec"/><stop offset="0.39" stop-color="#5064ec"/><stop offset="0.49" stop-color="#873ecd"/><stop offset="0.58" stop-color="#873ecd"/><stop offset="0.65" stop-color="#d02296"/><stop offset="0.74" stop-color="#d02296"/><stop offset="0.8" stop-color="#fa0550"/><stop offset="1" stop-color="#fa0550"/></linearGradient>
<linearGradient id="g77" gradientUnits="userSpaceOnUse" x1="448.29" x2="499.85" y1="0" y2="0"><stop offset="0" stop-color="#5064ec"/><stop offset="0.43" stop-color="#5064ec"/><stop offset="0.48" stop-color="#046ef2"/><stop offset="0.54" stop-color="#046ef2"/><stop offset="0.58" stop-color="#873ecd"/><stop offset="0.67" stop-color="#873ecd"/><stop offset="0.76" stop-color="#d02296"/><stop offset="0.88" stop-color="#fa0550"/><stop offset="1" stop-color="#fa0550"/></linearGradient>
<linearGradient id="g78" gradientUnits="userSpaceOnUse" x1="454.27" x2="501.84" y1="0" y2="0"><stop offset="0" stop-color="#873ecd"/><stop offset="0.28" stop-color="#873ecd"/><stop offset="0.39" stop-color="#873ecd"/><stop offset="0.49" stop-color="#5064ec"/><stop offset="0.54" stop-color="#046ef2"/><stop offset="1" stop-color="#046ef2"/></linearGradient>
<linearGradient id="g79" gradientUnits="userSpaceOnUse" x1="456.26" x2="491.38" y1="0" y2="0"><stop offset="0" stop-color="#5064ec"/><stop offset="0.33" stop-color="#873ecd"/><stop offset="0.65" stop-color="#873ecd"/><stop offset="0.72" stop-color="#d02296"/><stop offset="0.79" stop-color="#fa0550"/><stop offset="1" stop-color="#fa0550"/></linearGradient>
<linearGradient id="g80" gradientUnits="userSpaceOnUse" x1="448.79" x2="495.37" y1="0" y2="0"><stop offset="0" stop-color="#fa0550"/><stop offset="0.56" stop-color="#fa0550"/><stop offset="0.62" stop-color="#873ecd"/><stop offset="0.66" stop-color="#046ef2"/><stop offset="0.74" stop-color="#046ef2"/><stop offset="0.82" stop-color="#5064ec"/><stop offset="1" stop-color="#873ecd"/></linearGradient>
<linearGradient id="g81" gradientUnits="userSpaceOnUse" x1="459.75" x2="498.73" y1="0" y2="0"><stop offset="0" stop-color="#fa0550"/><stop offset="0.43" stop-color="#fa0550"/><stop offset="0.5" stop-color="#d02296"/><stop offset="0.55" stop-color="#873ecd"/><stop offset="0.6" stop-color="#5064ec"/><stop offset="0.66" stop-color="#046ef2"/><stop offset="1" stop-color="#5064ec"/></linearGradient>
<linearGradient id="g82" gradientUnits="userSpaceOnUse" x1="54.41" x2="152.91" y1="0" y2="0"><stop offset="0" stop-color="#fa0550"/><stop offset="0.25" stop-color="#fa0550"/><stop offset="0.32" stop-color="#d02296"/><stop offset="0.41" stop-color="#d02296"/><stop offset="0.47" stop-color="#873ecd"/><stop offset="0.56" stop-color="#873ecd"/><stop offset="0.62" stop-color="#5064ec"/><stop offset="0.67" stop-color="#046ef2"/><stop offset="1" stop-color="#046ef2"/></linearGradient>
<linearGradient id="g83" gradientUnits="userSpaceOnUse" x1="60.39" x2="144.57" y1="0" y2="0"><stop offset="0" stop-color="#fa0550"/><stop offset="0.41" stop-color="#fa0550"/><stop offset="0.48" stop-color="#d02296"/><stop offset="0.53" stop-color="#873ecd"/><stop offset="0.7" stop-color="#873ecd"/><stop offset="0.78" stop-color="#d02296"/><stop offset="0.85" stop-color="#fa0550"/><stop offset="1" stop-color="#fa0550"/></linearGradient>
<linearGradient id="g84" gradientUnits="userSpaceOnUse" x1="71.84" x2="139.84" y1="0" y2="0"><stop offset="0" stop-color="#fa0550"/><stop offset="0.48" stop-color="#fa0550"/><stop offset="0.56" stop-color="#873ecd"/><stop offset="0.62" stop-color="#873ecd"/><stop offset="0.65" stop-color="#046ef2"/><stop offset="1" stop-color="#046ef2"/></linearGradient>
<linearGradient id="g85" gradientUnits="userSpaceOnUse" x1="74.58" x2="150.55" y1="0" y2="0"><stop offset="0" stop-color="#873ecd"/><stop offset="0.3" stop-color="#873ecd"/><stop offset="0.36" stop-color="#5064ec"/><stop offset="0.44" stop-color="#873ecd"/><stop offset="0.48" stop-color="#d02296"/><stop offset="0.53" stop-color="#d02296"/><stop offset="0.58" stop-color="#fa0550"/><stop offset="1" stop-color="#fa0550"/></linearGradient>
<linearGradient id="g86" gradientUnits="userSpaceOnUse" x1="46.19" x2="129.63" y1="0" y2="0"><stop offset="0" stop-color="#046ef2"/><stop offset="0.74" stop-color="#046ef2"/><stop offset="0.78" stop-color="#873ecd"/><stop offset="0.87" stop-color="#873ecd"/><stop offset="0.9" stop-color="#d02296"/><stop offset="0.94" stop-color="#fa0550"/><stop offset="1" stop-color="#fa0550"/></linearGradient>
<linearGradient id="g87" gradientUnits="userSpaceOnUse" x1="82.68" x2="146.81" y1="0" y2="0"><stop offset="0" stop-color="#d02296"/><stop offset="0.18" stop-color="#d02296"/><stop offset="0.27" stop-color="#873ecd"/><stop offset="0.46" stop-color="#5064ec"/><stop offset="0.52" stop-color="#046ef2"/><stop offset="0.83" stop-color="#046ef2"/><stop offset="0.89" stop-color="#d02296"/><stop offset="0.97" stop-color="#d02296"/><stop offset="1" stop-color="#046ef2"/></linearGradient>
<linearGradient id="g88" gradientUnits="userSpaceOnUse" x1="85.47" x2="138.59" y1="0" y2="0"><stop offset="0" stop-color="#d02296"/><stop offset="0.29" stop-color="#d02296"/><stop offset="0.39" stop-color="#873ecd"/><stop offset="0.48" stop-color="#873ecd"/><stop offset="0.53" stop-color="#046ef2"/><stop offset="0.61" stop-color="#046ef2"/><stop offset="0.69" stop-color="#873ecd"/><stop offset="1" stop-color="#873ecd"/></linearGradient>
<linearGradient id="g89" gradientUnits="userSpaceOnUse" x1="96.43" x2="128.01" y1="0" y2="0"><stop offset="0" stop-color="#d02296"/><stop offset="0.22" stop-color="#d02296"/><stop offset="0.34" stop-color="#873ecd"/><stop offset="0.44" stop-color="#873ecd"/><stop offset="0.51" stop-color="#046ef2"/><stop offset="1" stop-color="#046ef2"/></linearGradient>
<linearGradient id="g90" gradientUnits="userSpaceOnUse" x1="93.64" x2="130.37" y1="0" y2="0"><stop offset="0" stop-color="#5064ec"/><stop offset="0.34" stop-color="#5064ec"/><stop offset="0.41" stop-color="#046ef2"/><stop offset="0.48" stop-color="#046ef2"/><stop offset="0.54" stop-color="#873ecd"/><stop offset="0.61" stop-color="#d02296"/><stop offset="0.71" stop-color="#fa0550"/><stop offset="1" stop-color="#fa0550"/></linearGradient>
<linearGradient id="g91" gradientUnits="userSpaceOnUse" x1="224.45" x2="336.53" y1="0" y2="0"><stop offset="0" stop-color="#fa0550"/><stop offset="0.27" stop-color="#fa0550"/><stop offset="0.35" stop-color="#d02296"/><stop offset="0.43" stop-color="#873ecd"/><stop offset="0.58" stop-color="#873ecd"/><stop offset="0.62" stop-color="#5064ec"/><stop offset="0.65" stop-color="#046ef2"/><stop offset="1" stop-color="#046ef2"/></linearGradient>
<linearGradient id="g92" gradientUnits="userSpaceOnUse" x1="221.46" x2="321.23" y1="0" y2="0"><stop offset="0" stop-color="#fa0550"/><stop offset="0.21" stop-color="#fa0550"/><stop offset="0.26" stop-color="#5064ec"/><stop offset="0.45" stop-color="#5064ec"/><stop offset="0.51" stop-color="#873ecd"/><stop offset="0.61" stop-color="#d02296"/><stop offset="0.8" stop-color="#d02296"/><stop offset="0.86" stop-color="#873ecd"/><stop offset="1" stop-color="#873ecd"/></linearGradient>
<linearGradient id="g93" gradientUnits="userSpaceOnUse" x1="221.46" x2="309.13" y1="0" y2="0"><stop offset="0" stop-color="#046ef2"/><stop offset="0.45" stop-color="#046ef2"/><stop offset="0.54" stop-color="#5064ec"/><stop offset="0.62" stop-color="#873ecd"/><stop offset="0.75" stop-color="#d02296"/><stop offset="0.85" stop-color="#fa0550"/><stop offset="1" stop-color="#fa0550"/></linearGradient>
<linearGradient id="g94" gradientUnits="userSpaceOnUse" x1="239.27" x2="311.87" y1="0" y2="0"><stop offset="0" stop-color="#873ecd"/><stop offset="0.42" stop-color="#873ecd"/><stop offset="0.46" stop-color="#046ef2"/><stop offset="0.51" stop-color="#046ef2"/><stop offset="0.54" stop-color="#d02296"/><stop offset="0.63" stop-color="#d02296"/><stop offset="0.69" stop-color="#fa0550"/><stop offset="1" stop-color="#fa0550"/></linearGradient>
<linearGradient id="g95" gradientUnits="userSpaceOnUse" x1="246.61" x2="308.63" y1="0" y2="0"><stop offset="0" stop-color="#fa0550"/><stop offset="0.35" stop-color="#d02296"/><stop offset="0.46" stop-color="#873ecd"/><stop offset="0.53" stop-color="#873ecd"/><stop offset="0.56" stop-color="#046ef2"/><stop offset="0.63" stop-color="#046ef2"/><stop offset="0.71" stop-color="#5064ec"/><stop offset="1" stop-color="#5064ec"/></linearGradient>
<linearGradient id="g96" gradientUnits="userSpaceOnUse" x1="254.96" x2="299.66" y1="0" y2="0"><stop offset="0" stop-color="#fa0550"/><stop offset="0.43" stop-color="#fa0550"/><stop offset="0.51" stop-color="#873ecd"/><stop offset="0.57" stop-color="#046ef2"/><stop offset="0.89" stop-color="#046ef2"/><stop offset="1" stop-color="#873ecd"/></linearGradient>
<linearGradient id="g97" gradientUnits="userSpaceOnUse" x1="262.05" x2="313.54" y1="0" y2="0"><stop offset="0" stop-color="#5064ec"/><stop offset="0.17" stop-color="#873ecd"/><stop offset="0.26" stop-color="#046ef2"/><stop offset="0.46" stop-color="#046ef2"/><stop offset="0.53" stop-color="#873ecd"/><stop offset="0.61" stop-color="#d02296"/><stop offset="0.68" stop-color="#fa0550"/><stop offset="1" stop-color="#fa0550"/></linearGradient>
<linearGradient id="g98" gradientUnits="userSpaceOnUse" x1="262.05" x2="296.38" y1="0" y2="0"><stop offset="0" stop-color="#d02296"/><stop offset="0.3" stop-color="#d02296"/><stop offset="0.44" stop-color="#873ecd"/><stop offset="0.53" stop-color="#873ecd"/><stop offset="0.59" stop-color="#046ef2"/><stop offset="0.63" stop-color="#873ecd"/><stop offset="0.77" stop-color="#d02296"/><stop offset="0.91" stop-color="#fa0550"/><stop offset="1" stop-color="#fa0550"/></linearGradient>
<linearGradient id="g99" gradientUnits="userSpaceOnUse" x1="264.47" x2="302.1" y1="0" y2="0"><stop offset="0" stop-color="#d02296"/><stop offset="0.26" stop-color="#873ecd"/><stop offset="0.34" stop-color="#5064ec"/><stop offset="0.46" stop-color="#5064ec"/><stop offset="0.54" stop-color="#873ecd"/><stop offset="0.7" stop-color="#873ecd"/><stop offset="0.84" stop-color="#d02296"/><stop offset="1" stop-color="#fa0550"/></linearGradient>
<linearGradient id="g100" gradientUnits="userSpaceOnUse" x1="409.44" x2="513.72" y1="0" y2="0"><stop offset="0" stop-color="#046ef2"/><stop offset="0.34" stop-color="#046ef2"/><stop offset="0.56" stop-color="#5064ec"/><stop offset="0.64" stop-color="#873ecd"/><stop offset="0.68" stop-color="#d02296"/><stop offset="0.73" stop-color="#fa0550"/><stop offset="1" stop-color="#fa0550"/></linearGradient>
<linearGradient id="g101" gradientUnits="userSpaceOnUse" x1="454.92" x2="510.06" y1="0" y2="0"><stop offset="0" stop-color="#fa0550"/><stop offset="0.13" stop-color="#fa0550"/><stop offset="0.21" stop-color="#873ecd"/><stop offset="0.44" stop-color="#873ecd"/><stop offset="0.5" stop-color="#5064ec"/><stop offset="0.56" stop-color="#046ef2"/><stop offset="1" stop-color="#046ef2"/></linearGradient>
<linearGradient id="g102" gradientUnits="userSpaceOnUse" x1="445.8" x2="518.65" y1="0" y2="0"><stop offset="0" stop-color="#fa0550"/><stop offset="0.36" stop-color="#fa0550"/><stop offset="0.42" stop-color="#d02296"/><stop offset="0.47" stop-color="#873ecd"/><stop offset="0.49" stop-color="#046ef2"/><stop offset="0.53" stop-color="#046ef2"/><stop offset="0.57" stop-color="#873ecd"/><stop offset="1" stop-color="#5064ec"/></linearGradient>
<linearGradient id="g103" gradientUnits="userSpaceOnUse" x1="447.79" x2="499.85" y1="0" y2="0"><stop offset="0" stop-color="#873ecd"/><stop offset="0.36" stop-color="#873ecd"/><stop offset="0.42" stop-color="#5064ec"/><stop offset="0.5" stop-color="#5064ec"/><stop offset="0.55" stop-color="#d02296"/><stop offset="0.63" stop-color="#d02296"/><stop offset="0.69" stop-color="#fa0550"/><stop offset="1" stop-color="#fa0550"/></linearGradient>
<linearGradient id="g104" gradientUnits="userSpaceOnUse" x1="443.96" x2="492.38" y1="0" y2="0"><stop offset="0" stop-color="#873ecd"/><stop offset="0.49" stop-color="#873ecd"/><stop offset="0.55" stop-color="#5064ec"/><stop offset="0.63" stop-color="#5064ec"/><stop offset="0.69" stop-color="#d02296"/><stop offset="0.77" stop-color="#d02296"/><stop offset="0.84" stop-color="#fa0550"/><stop offset="1" stop-color="#fa0550"/></linearGradient>
<linearGradient id="g105" gradientUnits="userSpaceOnUse" x1="447.05" x2="488.59" y1="0" y2="0"><stop offset="0" stop-color="#fa0550"/><stop offset="0.47" stop-color="#fa0550"/><stop offset="0.56" stop-color="#d02296"/><stop offset="0.71" stop-color="#873ecd"/><stop offset="0.77" stop-color="#046ef2"/><stop offset="1" stop-color="#046ef2"/></linearGradient>
<linearGradient id="g106" gradientUnits="userSpaceOnUse" x1="454.87" x2="498.73" y1="0" y2="0"><stop offset="0" stop-color="#fa0550"/><stop offset="0.26" stop-color="#d02296"/><stop offset="0.38" stop-color="#873ecd"/><stop offset="0.45" stop-color="#873ecd"/><stop offset="0.51" stop-color="#046ef2"/><stop offset="1" stop-color="#046ef2"/></linearGradient>
<linearGradient id="g107" gradientUnits="userSpaceOnUse" x1="449.96" x2="502.84" y1="0" y2="0"><stop offset="0" stop-color="#fa0550"/><stop offset="0.41" stop-color="#fa0550"/><stop offset="0.5" stop-color="#d02296"/><stop offset="0.56" stop-color="#873ecd"/><stop offset="0.61" stop-color="#5064ec"/><stop offset="1" stop-color="#5064ec"/></linearGradient>
<linearGradient id="g108" gradientUnits="userSpaceOnUse" x1="460.25" x2="497.86" y1="0" y2="0"><stop offset="0" stop-color="#5064ec"/><stop offset="0.3" stop-color="#5064ec"/><stop offset="0.36" stop-color="#046ef2"/><stop offset="0.45" stop-color="#046ef2"/><stop offset="0.5" stop-color="#873ecd"/><stop offset="0.6" stop-color="#d02296"/><stop offset="0.7" stop-color="#fa0550"/><stop offset="1" stop-color="#fa0550"/></linearGradient>
<linearGradient id="cb" x1="0" x2="0" y1="0" y2="1"><stop offset="0" stop-color="#fa0550"/><stop offset="0.25" stop-color="#d02296"/><stop offset="0.5" stop-color="#873ecd"/><stop offset="0.75" stop-color="#5064ec"/><stop offset="1" stop-color="#046ef2"/></linearGradient>
</defs>
<rect width="550" height="527" fill="#fff"/>
<line x1="36.23" x2="158.77" y1="75.27" y2="75.27" stroke="#e2e2e2" stroke-width="0.5"/>
<line x1="97.5" x2="97.5" y1="24.46" y2="125.34" stroke="#c0c0c0" stroke-width="0.6"/>
<line x1="36.23" x2="158.77" y1="125.34" y2="125.34" stroke="#888" stroke-width="0.6"/>
<line x1="39.46" x2="39.46" y1="125.34" y2="126.44" stroke="#aaa" stroke-width="0.5"/>
<text x="39.46" y="132.83" font-size="5.7" text-anchor="middle" fill="#111">300</text>
<text x="34.79" y="132.83" font-size="5.7" text-anchor="end" fill="#555">-</text>
<line x1="59.39" x2="59.39" y1="125.34" y2="126.44" stroke="#aaa" stroke-width="0.5"/>
<text x="59.39" y="132.83" font-size="5.7" text-anchor="middle" fill="#111">200</text>
<text x="54.71" y="132.83" font-size="5.7" text-anchor="end" fill="#555">-</text>
<line x1="79.32" x2="79.32" y1="125.34" y2="126.44" stroke="#aaa" stroke-width="0.5"/>
<text x="79.32" y="132.83" font-size="5.7" text-anchor="middle" fill="#111">100</text>
<text x="74.64" y="132.83" font-size="5.7" text-anchor="end" fill="#555">-</text>
<line x1="99.24" x2="99.24" y1="125.34" y2="126.44" stroke="#aaa" stroke-width="0.5"/>
<text x="99.24" y="132.83" font-size="5.7" text-anchor="middle" fill="#111">0</text>
<line x1="119.17" x2="119.17" y1="125.34" y2="126.44" stroke="#aaa" stroke-width="0.5"/>
<text x="119.17" y="132.83" font-size="5.7" text-anchor="middle" fill="#111">100</text>
<line x1="139.09" x2="139.09" y1="125.34" y2="126.44" stroke="#aaa" stroke-width="0.5"/>
<text x="139.09" y="132.83" font-size="5.7" text-anchor="middle" fill="#111">200</text>
<text x="5.2" y="36.2" font-size="5.8" fill="#111">Observation</text>
<path d="M41,33.7 43.7,33.4 44.5,33.2 45.4,32.8 46.2,32.6 46.9,32.6 47.7,32.4 48.4,32.2 49.2,31.8 49.9,32 50.6,31.6 51.3,31.6 52,31.3 52.7,31.3 53.4,31.7 54.1,31.6 54.9,31.8 55.6,31.5 56.3,31.6 57.1,31.9 57.8,31.5 58.5,31.8 59.3,31.7 60,31.5 60.7,31.9 61.5,31.8 62.2,31.7 62.9,31.5 63.7,31.9 64.4,32.1 65.1,32.2 65.9,31.8 66.6,31.7 67.4,31.8 68.2,31.9 68.9,31.8 69.7,32 70.4,32.3 71.2,32 72,31.9 72.7,32.1 73.5,32.3 74.2,32.3 75,32.3 75.8,32.3 76.5,32.2 77.3,32.4 78,32.2 78.8,32 79.6,32.3 80.3,32.3 81,32 81.8,32.4 82.5,32.4 83.2,32.2 84,32.5 84.7,32.3 85.4,32.1 86.1,32.3 86.9,32.2 87.6,32.1 88.3,32.1 89.1,32.4 89.8,32.5 90.5,32.5 91.3,32.5 92.1,32.3 92.9,32.4 93.7,32.3 94.5,32.2 95.3,31.8 96.1,31.8 96.9,31.5 97.7,30.9 98.5,31 99.2,31.5 100,31.4 100.7,31.2 101.5,31.9 102.2,31.7 103,31.8 103.7,32 104.5,31.9 105.2,32.2 105.9,32.2 106.6,31.9 107.4,32 108.1,31.6 108.8,31.5 109.5,31.5 110.2,31.8 111,31.6 111.7,31.8 112.4,31.6 113.2,31 113.9,30.9 114.7,30.8 115.4,31.3 116.2,31.2 116.9,30.8 117.7,30.5 118.4,30.6 119.2,31 119.9,30.3 120.6,30.6 121.3,31.1 122.1,31.1 122.8,30.7 123.5,31.2 124.2,31.1 124.9,31.6 125.7,31.1 126.4,31.7 127.1,31.2 127.8,31.7 128.5,31.9 129.3,31.5 130,31.9 130.7,32 131.4,31.9 132.1,32.2 132.9,32 133.6,31.8 134.4,31.6 135.1,31.2 135.8,30.7 136.6,30.5 137.3,30.1 138,29.7 138.7,30.2 139.4,31 140.1,31.2 140.8,31.2 141.6,31.8 142.3,32 143.1,32.5 143.8,32.7 144.6,32.8 145.3,33 146.1,33 146.8,33.2 147.6,33.3 148.3,33.4 153.3,33.6 153.3,35 148.3,35.2 147.6,35.3 146.8,35.4 146.1,35.5 145.3,35.7 144.6,35.7 143.8,35.9 143.1,36.3 142.3,36.8 141.6,36.9 140.8,37.3 140.1,37.6 139.4,38.3 138.7,38.1 138,38.3 137.3,38.6 136.6,38.6 135.8,38.2 135.1,37.5 134.4,37.5 133.6,36.9 132.9,36.8 132.1,36.4 131.4,36.4 130.7,36.9 130,37 129.3,36.9 128.5,36.6 127.8,37 127.1,37.1 126.4,37.3 125.7,37.4 124.9,37 124.2,37.1 123.5,37.8 122.8,37.5 122.1,37.9 121.3,38 120.6,37.8 119.9,38.2 119.2,38.1 118.4,38.2 117.7,37.8 116.9,38.1 116.2,37.4 115.4,37.3 114.7,37.4 113.9,37.7 113.2,37.3 112.4,37.3 111.7,37 111,36.7 110.2,37 109.5,37.1 108.8,37.1 108.1,37.1 107.4,36.6 106.6,36.8 105.9,36.8 105.2,36.5 104.5,36.6 103.7,36.9 103,36.5 102.2,36.7 101.5,37.3 100.7,36.9 100,37.1 99.2,37.2 98.5,37.6 97.7,37.8 96.9,36.9 96.1,36.9 95.3,36.5 94.5,36.9 93.7,36.5 92.9,36.3 92.1,36.1 91.3,36.1 90.5,36.1 89.8,36.3 89.1,36.2 88.3,36.4 87.6,36.4 86.9,36.1 86.1,36.4 85.4,36.4 84.7,36.4 84,36.3 83.2,36.2 82.5,36.4 81.8,36.2 81,36.2 80.3,36.6 79.6,36.4 78.8,36.6 78,36.6 77.3,36.4 76.5,36.6 75.8,36.3 75,36.6 74.2,36.3 73.5,36.5 72.7,36.6 72,36.4 71.2,36.8 70.4,36.7 69.7,36.7 68.9,36.9 68.2,36.6 67.4,36.7 66.6,36.6 65.9,36.7 65.1,36.8 64.4,36.7 63.7,36.9 62.9,36.5 62.2,36.7 61.5,37.1 60.7,36.9 60,37 59.3,36.8 58.5,37 57.8,36.9 57.1,36.8 56.3,36.7 55.6,37 54.9,37.1 54.1,37.3 53.4,36.9 52.7,36.9 52,36.7 51.3,36.9 50.6,37.2 49.9,36.7 49.2,37 48.4,36.4 47.7,36.4 46.9,36.2 46.2,35.9 45.4,35.6 44.5,35.4 43.7,35.2 41,35Z" fill="url(#g1)"/>
<text x="5.2" y="45.4" font-size="5.8" fill="#111">McClear</text>
<path d="M73.1,43.5 73.9,43.1 74.7,42.6 75.6,42.2 76.5,41.8 77.3,41.3 78.2,40.7 78.9,40.7 79.6,40.1 80.4,40.5 81.1,40.3 81.8,40.1 82.5,39.5 83.2,40.3 83.9,40 84.6,40 85.3,40.8 86,40.8 86.8,40.3 87.5,41 88.3,40.7 89,41 89.8,40.6 90.5,40.7 91.3,41.2 92,40.6 92.8,41.1 93.5,40.5 94.3,41.1 95,41.1 95.8,41 96.5,40.9 97.3,40.6 98.1,41.1 98.8,40.8 99.6,41.2 100.3,40.7 101.1,41.2 101.9,40.8 102.6,41.2 103.4,41.3 104.1,41 104.9,40.9 105.7,41.1 106.4,41 107.2,41.3 107.9,41.4 108.7,41.2 109.5,40.8 110.2,41 110.9,41.1 111.7,41.2 112.4,40.9 113.2,41.4 113.9,40.9 114.7,41 115.4,41.3 116.2,41.5 116.9,41.3 117.7,41.6 118.4,41.4 119.2,41.7 119.9,41.9 120.6,42 121.3,41.9 122.1,42 122.8,41.6 123.5,42 124.2,42 124.9,42.1 125.7,42.1 126.4,41.8 127.1,42.2 127.8,42.3 128.6,42.4 129.3,42.3 130,42.5 130.7,42.6 131.4,42.6 132.2,42.7 132.9,42.7 133.6,42.6 134.4,42.7 135.2,42.8 136,43 136.8,43.1 137.6,43.2 140.1,43.5 140.1,44.8 137.6,45.1 136.8,45.2 136,45.3 135.2,45.5 134.4,45.6 133.6,45.6 132.9,45.6 132.2,45.6 131.4,45.8 130.7,45.8 130,45.9 129.3,46 128.6,46 127.8,46 127.1,46.4 126.4,46.3 125.7,46.5 124.9,46.3 124.2,46.3 123.5,46.3 122.8,46.5 122.1,46.7 121.3,46.3 120.6,46.7 119.9,46.4 119.2,46.6 118.4,46.8 117.7,47 116.9,47.1 116.2,46.9 115.4,47.2 114.7,47 113.9,46.8 113.2,47.1 112.4,47.2 111.7,46.9 110.9,46.9 110.2,47 109.5,47.1 108.7,47.1 107.9,47 107.2,47 106.4,47.1 105.7,47 104.9,47.7 104.1,47.2 103.4,47.6 102.6,47.7 101.9,47.6 101.1,47.7 100.3,47.4 99.6,47.1 98.8,47.6 98.1,47.8 97.3,47.3 96.5,47.8 95.8,47.2 95,47.7 94.3,47.3 93.5,47.9 92.8,47.9 92,47.5 91.3,47.4 90.5,47.5 89.8,47.1 89,47.4 88.3,47.4 87.5,47.5 86.8,47.8 86,47.5 85.3,48.1 84.6,48.4 83.9,47.8 83.2,48.5 82.5,48.9 81.8,48.9 81.1,48.1 80.4,48.1 79.6,47.5 78.9,47.9 78.2,47.1 77.3,47.1 76.5,46.7 75.6,46.1 74.7,45.7 73.9,45.2 73.1,44.8Z" fill="url(#g2)"/>
<text x="5.2" y="56.2" font-size="5.8" fill="#111">Channel 7</text>
<path d="M83.3,53.8 84,53.7 84.7,53.5 85.4,53.1 86,53 86.8,52.9 87.5,52.3 88.3,52.1 89,52.2 89.8,51.7 90.5,51.6 91.3,51.9 92,51.9 92.8,52.3 93.5,52.5 94.4,52 95.3,51.2 96,50.5 96.7,49.9 97.5,50.6 98.2,51.8 98.9,52.4 99.5,53 100.3,53.2 101.1,52.9 101.9,52.8 102.7,52.8 103.5,52.7 104.3,52.4 105.1,52.3 105.9,52.4 106.7,52 107.5,51.9 108.2,52.3 108.9,52 109.6,52 110.3,52.2 111.1,52.3 111.8,52.1 112.5,52.1 113.2,52.7 114,52.3 114.7,52.6 115.4,52.7 116.1,52.8 116.8,52.9 117.6,52.7 118.3,52.8 119,52.9 119.7,53.1 120.5,53.1 121.2,53.3 121.9,53.3 122.7,53.4 123.5,53.5 124.3,53.6 125.1,53.7 125.9,53.8 129.1,53.8 129.1,55.1 125.9,55.2 125.1,55.3 124.3,55.4 123.5,55.5 122.7,55.6 121.9,55.6 121.2,55.7 120.5,55.7 119.7,56 119,56 118.3,56 117.6,56 116.8,56.2 116.1,56.3 115.4,56.5 114.7,56.3 114,56.7 113.2,56.5 112.5,56.8 111.8,56.5 111.1,56.5 110.3,56.7 109.6,56.7 108.9,57 108.2,56.8 107.5,56.7 106.7,56.7 105.9,56.6 105.1,56.4 104.3,56.5 103.5,56.4 102.7,56.1 101.9,56.3 101.1,55.9 100.3,55.9 99.5,55.8 98.9,56.3 98.2,57.2 97.5,58.3 96.7,58.5 96,58.5 95.3,57.8 94.4,57.4 93.5,56.6 92.8,56.5 92,57 91.3,57.3 90.5,57.4 89.8,57.5 89,57 88.3,56.9 87.5,56.5 86.8,56.3 86,56 85.4,55.6 84.7,55.5 84,55.3 83.3,55.1Z" fill="url(#g3)"/>
<text x="5.2" y="66.2" font-size="5.8" fill="#111">Channel 2</text>
<path d="M79.8,64 89.8,63.9 99.5,63.9 100.4,63.5 101.2,63 101.9,62.6 102.5,61.4 103.6,59.9 104.7,61.3 105.7,62.9 106.3,63.1 107,63.7 107.7,63.8 108.5,63.9 109.2,64.1 110,64.2 110,65.5 109.2,65.5 108.5,65.7 107.7,65.8 107,66 106.3,66.4 105.7,66.7 104.7,67.8 103.6,69.5 102.5,67.7 101.9,67.5 101.2,66.9 100.4,66.2 99.5,65.8 89.8,65.8 79.8,65.6Z" fill="url(#g4)"/>
<text x="5.2" y="76.2" font-size="5.8" fill="#111">Channel 1</text>
<path d="M81.6,73.7 89.8,73.6 99,73.6 99.9,73.2 100.7,72.8 101.4,72.1 102,71.5 103,70.1 104,71.4 105,72.4 105.6,72.9 106.2,73.2 106.9,73.5 107.5,73.7 108.2,73.8 109,73.9 109,75.2 108.2,75.2 107.5,75.4 106.9,75.6 106.2,75.7 105.6,76.2 105,76.6 104,78.1 103,78.6 102,77.5 101.4,77.4 100.7,76.6 99.9,75.8 99,75.5 89.8,75.5 81.6,75.3Z" fill="url(#g5)"/>
<text x="5.2" y="87.8" font-size="5.8" fill="#111">Channel 5</text>
<path d="M92.3,84.1 93.1,83.7 94,83.2 94.9,82.9 95.8,82.5 96.4,82.9 97.1,82.7 97.7,83.1 98.5,83.4 99.2,83.4 100.2,82.2 100.9,81.2 101.5,80.6 102.1,81.4 102.7,82 103.7,82.3 104.3,82.7 105,82.9 105.8,83.2 106.7,83.6 107.4,83.7 108,84 108.7,84.1 108.7,85.4 108,85.5 107.4,85.7 106.7,85.9 105.8,86.2 105,86.5 104.3,86.6 103.7,87.2 102.7,87.2 102.1,88.7 101.5,88.9 100.9,88.1 100.2,87.1 99.2,85.9 98.5,86.3 97.7,86.4 97.1,86.4 96.4,86.5 95.8,86.9 94.9,86.5 94,86 93.1,85.7 92.3,85.4Z" fill="url(#g6)"/>
<text x="5.2" y="97.8" font-size="5.8" fill="#111">Channel 4</text>
<path d="M90.8,94 96.7,93.9 97.5,93.6 98.2,93.3 98.9,92.8 99.5,92.2 100.2,91.5 100.9,89.6 101.5,91.1 102.2,91.9 102.9,93 103.5,93.6 104.1,93.9 104.7,94.1 104.7,95.5 104.1,95.7 103.5,96 102.9,96.6 102.2,97.3 101.5,98.6 100.9,99 100.2,98.3 99.5,97.4 98.9,96.9 98.2,96.2 97.5,96.1 96.7,95.7 90.8,95.6Z" fill="url(#g7)"/>
<text x="5.2" y="107.8" font-size="5.8" fill="#111">Channel 3</text>
<path d="M92.8,104.3 97.5,104.1 98.2,103.5 99.1,102.4 99.8,102 100.5,100.1 101.2,101.5 101.9,102.7 103,103.8 103.7,104 104.4,104.1 105.1,104.2 105.8,104.3 106.5,104.4 106.5,105.8 105.8,105.9 105.1,106 104.4,106.1 103.7,106.2 103,106.4 101.9,107.8 101.2,108.2 100.5,109.6 99.8,108.8 99.1,107.3 98.2,106.6 97.5,106 92.8,105.9Z" fill="url(#g8)"/>
<text x="5.2" y="117.8" font-size="5.8" fill="#111">Channel 6</text>
<path d="M95.3,114.6 95.9,114.4 96.6,114.3 97.2,114 97.9,113.8 98.5,113.1 99.2,111.7 100,110.8 100.7,112.1 101.5,113.3 102.1,113.7 102.7,114.1 103.5,114.4 104.2,114.6 104.2,115.9 103.5,116.2 102.7,116.4 102.1,117.2 101.5,117.6 100.7,118.6 100,119.9 99.2,118.7 98.5,117.6 97.9,116.9 97.2,116.4 96.6,116.3 95.9,116.2 95.3,116Z" fill="url(#g9)"/>
<rect x="166.85" y="23.8" width="1.3" height="101.2" fill="url(#cb)"/>
<text x="170.6" y="27.91" font-size="5.5" fill="#111">High</text>
<text x="170.6" y="128.51" font-size="5.5" fill="#111">Low</text>
<text transform="translate(180.55,75) rotate(-90)" font-size="4.35" text-anchor="middle" class="sf" fill="#000">Feature value</text>
<line x1="216.23" x2="342" y1="74.28" y2="74.28" stroke="#e2e2e2" stroke-width="0.5"/>
<line x1="278.49" x2="278.49" y1="24.46" y2="125.83" stroke="#c0c0c0" stroke-width="0.6"/>
<line x1="216.23" x2="342" y1="125.83" y2="125.83" stroke="#888" stroke-width="0.6"/>
<line x1="230.42" x2="230.42" y1="125.83" y2="126.93" stroke="#aaa" stroke-width="0.5"/>
<text x="230.42" y="133.57" font-size="5.7" text-anchor="middle" fill="#111">300</text>
<text x="225.75" y="133.57" font-size="5.7" text-anchor="end" fill="#555">-</text>
<line x1="251.34" x2="251.34" y1="125.83" y2="126.93" stroke="#aaa" stroke-width="0.5"/>
<text x="251.34" y="133.57" font-size="5.7" text-anchor="middle" fill="#111">200</text>
<text x="246.67" y="133.57" font-size="5.7" text-anchor="end" fill="#555">-</text>
<line x1="272.02" x2="272.02" y1="125.83" y2="126.93" stroke="#aaa" stroke-width="0.5"/>
<text x="272.02" y="133.57" font-size="5.7" text-anchor="middle" fill="#111">100</text>
<text x="267.34" y="133.57" font-size="5.7" text-anchor="end" fill="#555">-</text>
<line x1="292.94" x2="292.94" y1="125.83" y2="126.93" stroke="#aaa" stroke-width="0.5"/>
<text x="292.94" y="133.57" font-size="5.7" text-anchor="middle" fill="#111">0</text>
<line x1="313.86" x2="313.86" y1="125.83" y2="126.93" stroke="#aaa" stroke-width="0.5"/>
<text x="313.86" y="133.57" font-size="5.7" text-anchor="middle" fill="#111">100</text>
<line x1="334.78" x2="334.78" y1="125.83" y2="126.93" stroke="#aaa" stroke-width="0.5"/>
<text x="334.78" y="133.57" font-size="5.7" text-anchor="middle" fill="#111">200</text>
<text x="185" y="34.92" font-size="5.4" fill="#111">Observation</text>
<path d="M231.9,32.2 232.7,32.1 233.4,32 234.2,31.9 234.9,31.8 235.7,31.7 236.4,31.8 237.1,31.7 237.9,31.7 238.6,31.6 239.4,31.6 240.1,31.4 240.9,31.4 241.6,31.6 242.4,31.3 243.1,31.5 243.9,31.4 244.7,31.5 245.4,31.4 246.2,31.5 247,31.4 247.7,31.3 248.5,31.2 249.3,31.3 250,31.1 250.8,31.2 251.6,31.4 252.3,31.3 253.1,31.2 253.9,31.3 254.6,31.1 255.4,31.3 256.2,31.3 256.9,31.3 257.7,31.3 258.5,30.9 259.2,31 260,30.9 260.8,31.2 261.5,30.9 262.3,30.9 263.1,31 263.8,31.1 264.6,31 265.4,30.7 266.1,30.7 266.9,30.9 267.7,30.7 268.4,31.1 269.2,30.9 270,31 270.7,30.6 271.5,30.8 272.3,30.6 273,31 273.8,30.5 274.5,30.5 275.3,30.7 276,30.4 276.7,30.7 277.5,30.7 278.2,30.8 279,30.3 279.7,30.2 280.5,30.6 281.2,30.1 281.9,30.4 282.6,30.3 283.3,29.8 284,29.9 284.7,29.8 285.4,29.8 286.1,29.9 286.9,29.4 287.6,29.8 288.3,29.7 289,29.8 289.7,29.4 290.4,28.9 291.1,29.4 291.8,29.5 292.4,28.9 293.1,29.5 293.8,29.2 294.5,29.3 295.2,29.5 295.9,29.5 296.7,29.9 297.4,30 298.2,30.5 298.9,30.7 299.7,30.7 300.4,30.9 301.2,31 301.9,31 302.7,31.1 303.5,31 304.3,30.6 305.1,30.8 305.9,30.5 306.6,29.7 307.4,29.4 308.1,29.2 308.9,29.5 309.6,28.6 310.5,28.7 311.4,28.9 312,29.2 312.7,29.3 313.4,29.1 314.2,30 315,29.8 315.9,30.4 316.5,30.2 317.2,30.8 317.8,30.7 318.6,30.4 319.3,30.4 320.1,30 320.8,29.9 321.6,29.8 322.3,29.6 323.1,29.1 323.8,29.4 324.5,29.3 325.2,30.1 325.9,30 326.6,30.3 327.3,30.4 328,30.8 328.7,30.5 329.4,31 330.1,30.9 330.8,31.1 331.5,31.1 332.3,31.4 333,31.3 333.8,31.7 334.5,31.6 335.4,32 336.2,32.2 337,32.3 337,33.6 336.2,33.6 335.4,33.9 334.5,34.3 333.8,34.2 333,34.6 332.3,34.6 331.5,34.9 330.8,34.8 330.1,35 329.4,35.2 328.7,35.5 328,35.4 327.3,35.3 326.6,35.9 325.9,36.1 325.2,36.4 324.5,36.1 323.8,36.3 323.1,36.9 322.3,36.3 321.6,36.3 320.8,36.5 320.1,35.7 319.3,35.8 318.6,35.2 317.8,35.2 317.2,35.1 316.5,35.5 315.9,35.4 315,35.7 314.2,36.1 313.4,36.4 312.7,36.9 312,36.7 311.4,37.1 310.5,37.2 309.6,36.5 308.9,36.9 308.1,36.3 307.4,36 306.6,35.9 305.9,35.4 305.1,35.2 304.3,35.3 303.5,35 302.7,34.4 301.9,34.8 301.2,34.7 300.4,35.2 299.7,35 298.9,35.5 298.2,35.4 297.4,35.5 296.7,35.8 295.9,36 295.2,35.9 294.5,36.7 293.8,36.7 293.1,36.6 292.4,36.7 291.8,36.7 291.1,36.3 290.4,37.1 289.7,37.1 289,36.6 288.3,36 287.6,36.5 286.9,35.9 286.1,36 285.4,35.9 284.7,36.1 284,36 283.3,35.5 282.6,35.7 281.9,35.4 281.2,35.8 280.5,35.4 279.7,35.1 279,35.4 278.2,35.5 277.5,35.2 276.7,35.4 276,35.3 275.3,35.1 274.5,35.4 273.8,35 273,34.9 272.3,34.9 271.5,35.3 270.7,34.8 270,35 269.2,35.3 268.4,35 267.7,35 266.9,35.1 266.1,34.8 265.4,34.8 264.6,34.9 263.8,34.7 263.1,34.8 262.3,34.8 261.5,34.6 260.8,35 260,34.7 259.2,35 258.5,34.9 257.7,34.7 256.9,34.6 256.2,34.9 255.4,34.7 254.6,34.9 253.9,34.6 253.1,34.5 252.3,34.8 251.6,34.7 250.8,34.5 250,34.5 249.3,34.4 248.5,34.6 247.7,34.4 247,34.5 246.2,34.3 245.4,34.6 244.7,34.4 243.9,34.5 243.1,34.2 242.4,34.4 241.6,34.3 240.9,34.3 240.1,34.3 239.4,34.3 238.6,34.1 237.9,34.1 237.1,34.2 236.4,34.1 235.7,34.2 234.9,34.1 234.2,34 233.4,33.9 232.7,33.8 231.9,33.6Z" fill="url(#g10)"/>
<line x1="221.21" x2="224.45" y1="32.93" y2="32.93" stroke="#046ef2" stroke-width="1.5" stroke-linecap="round"/>
<line x1="225.44" x2="229.93" y1="32.93" y2="32.93" stroke="#046ef2" stroke-width="1.5" stroke-linecap="round"/>
<text x="185" y="43.32" font-size="5.4" fill="#111">McClear</text>
<path d="M271,42.7 271.9,42.5 272.7,42.2 273.5,41.8 274.4,41.3 275.3,40.8 275.9,40.6 276.5,40.6 277.4,40.7 278.2,41.3 279,41.4 279.7,41.7 280.5,41.6 281.2,41.4 282,40.4 282.7,39.7 283.6,39.4 284.4,38.9 285.2,38.6 286,39.1 286.9,39.5 287.7,40.4 288.4,40.2 289.1,40.2 289.8,40.6 290.5,40.8 291.2,41.2 291.9,41.2 292.7,41 293.4,41 294.2,40.9 294.9,41.1 295.7,41.1 296.4,40.9 297.2,41 297.9,41.1 298.6,41.4 299.4,41.3 300.1,41.1 300.8,41.2 301.5,41.5 302.3,41.2 303,41.2 303.7,41.2 304.4,41.4 305.2,41.6 305.9,41.4 306.7,41.7 307.4,41.6 308.2,41.4 308.9,41.6 309.7,41.7 310.5,41.5 311.2,41.4 312,41.5 312.7,41.7 313.5,41.5 314.3,41.5 315,41.4 315.8,41.7 316.5,41.7 317.3,41.5 318.1,41.5 318.8,41.6 319.6,41.7 320.3,41.8 321.1,41.9 321.8,41.7 322.6,41.8 323.3,42 324.1,41.9 324.8,42.1 325.6,42.1 326.3,42.1 327.1,42 327.8,42.1 328.5,42.3 329.2,42.3 329.9,42.4 330.5,42.3 333.3,42.7 333.3,44 330.5,44.5 329.9,44.5 329.2,44.5 328.5,44.7 327.8,44.7 327.1,44.6 326.3,44.8 325.6,44.8 324.8,44.8 324.1,44.7 323.3,44.8 322.6,45.1 321.8,45 321.1,44.9 320.3,44.9 319.6,45.2 318.8,45.3 318.1,45 317.3,45 316.5,45 315.8,45.3 315,45.2 314.3,45.1 313.5,45.2 312.7,45.4 312,45.4 311.2,45.3 310.5,45.2 309.7,45.3 308.9,45.4 308.2,45.5 307.4,45.5 306.7,45.2 305.9,45.3 305.2,45.2 304.4,45.6 303.7,45.2 303,45.3 302.3,45.3 301.5,45.4 300.8,45.7 300.1,45.3 299.4,45.8 298.6,45.8 297.9,45.7 297.2,45.8 296.4,45.4 295.7,45.6 294.9,45.4 294.2,45.9 293.4,45.5 292.7,45.5 291.9,45.8 291.2,45.8 290.5,45.8 289.8,46 289.1,46.6 288.4,46.4 287.7,46.9 286.9,47.2 286,48 285.2,48.4 284.4,47.6 283.6,47.4 282.7,46.5 282,45.9 281.2,45.7 280.5,45.2 279.7,45.1 279,45.4 278.2,45.5 277.4,45.7 276.5,46.4 275.9,45.8 275.3,45.6 274.4,45.4 273.5,44.8 272.7,44.4 271.9,44.3 271,44Z" fill="url(#g11)"/>
<text x="185" y="55.52" font-size="5.4" fill="#111">Channel 7</text>
<path d="M270.5,53 277.2,52.8 278,52.7 278.7,52.7 279.5,52.6 280.2,52.5 281,52.6 281.7,52.5 282.4,52.2 283.1,52 283.8,51.7 284.5,51.8 285.2,51.8 286,51.3 286.9,51.3 287.7,51.1 288.4,50 289.1,50.3 289.8,49.6 290.4,48.8 291.3,50.2 292.2,51.1 292.9,51 293.7,51.8 294.5,51.5 295.3,51.5 296.1,51.8 296.8,51.8 297.6,51.8 298.4,51.7 299.1,51.7 299.9,51.7 300.6,51.6 301.3,51.8 302,51.4 302.8,51.4 303.5,51.7 304.2,51.5 304.9,51.4 305.6,51.3 306.3,51.8 307,51.7 307.7,51.8 308.4,52 309,52.2 309.7,52.5 310.4,52.7 317.1,52.9 321.6,53 321.6,54.4 317.1,54.6 310.4,54.8 309.7,55.1 309,55.3 308.4,55.6 307.7,55.8 307,55.8 306.3,56 305.6,55.8 304.9,55.8 304.2,56.1 303.5,55.7 302.8,55.6 302,55.7 301.3,55.8 300.6,55.8 299.9,55.7 299.1,55.6 298.4,55.8 297.6,55.8 296.8,55.5 296.1,55.6 295.3,55.8 294.5,55.9 293.7,56.1 292.9,56.4 292.2,56.9 291.3,57.3 290.4,57.9 289.8,58 289.1,57.6 288.4,56.8 287.7,56.7 286.9,56.6 286,56 285.2,55.9 284.5,55.9 283.8,55.7 283.1,55.4 282.4,55.2 281.7,55.1 281,54.9 280.2,54.9 279.5,54.8 278.7,54.8 278,54.7 277.2,54.7 270.5,54.4Z" fill="url(#g12)"/>
<text x="185" y="66.92" font-size="5.4" fill="#111">Channel 5</text>
<path d="M278.5,63.3 279.3,63.1 280.1,62.9 280.9,62.7 281.7,62.6 282.4,62.5 283.1,62.4 283.8,62.2 284.5,62 285.2,62 286,61.7 286.8,61.8 287.6,62.2 288.5,62.1 289.3,61.6 290.2,61.8 291,60.9 291.8,61.1 292.5,61.6 293.2,61.6 294.2,62.5 294.8,61.6 295.4,61.1 296,59.7 296.6,59.3 297.3,60.3 297.9,60.7 298.8,60.9 299.7,60.8 300.5,61.3 301.3,62.1 302.2,62.3 302.8,62.7 303.5,62.9 304.1,63.3 304.1,64.7 303.5,65 302.8,65.4 302.2,65.8 301.3,66 300.5,66.5 299.7,66.8 298.8,67 297.9,67.6 297.3,67.9 296.6,68.7 296,67.7 295.4,66.8 294.8,66.2 294.2,65.5 293.2,66.3 292.5,66.3 291.8,66.9 291,67 290.2,66.6 289.3,66.4 288.5,66.1 287.6,66 286.8,66.1 286,66.2 285.2,65.9 284.5,65.8 283.8,66 283.1,65.5 282.4,65.7 281.7,65.5 280.9,65.2 280.1,65 279.3,64.9 278.5,64.7Z" fill="url(#g13)"/>
<text x="185" y="76.52" font-size="5.4" fill="#111">Channel 1</text>
<path d="M274.3,73.5 290.9,73.3 291.6,72.9 292.2,72.4 292.8,71.8 293.4,71.7 294.1,70.3 294.7,70.3 295.3,70.5 295.9,71.6 296.6,72.2 297.2,72.9 297.9,73.1 298.7,73.3 299.4,73.6 299.4,75 298.7,75.2 297.9,75.4 297.2,75.9 296.6,76.6 295.9,77.2 295.3,78.3 294.7,78.8 294.1,78.5 293.4,77 292.8,76.4 292.2,75.8 291.6,75.5 290.9,75.2 274.3,75.1Z" fill="url(#g14)"/>
<text x="185" y="87.32" font-size="5.4" fill="#111">Channel 3</text>
<path d="M285.5,83.9 286.2,83.7 287,83.6 287.7,83.4 288.5,83 289.2,82.4 289.8,81.1 290.4,80.2 291.1,81.2 291.8,81.5 292.9,80.8 293.6,80.9 294.3,79.6 295.1,81 295.9,81.9 296.8,82 297.7,82.3 298.5,82.7 299.3,83.1 300.2,83.1 300.9,83.4 301.7,83.3 302.4,83.5 303.2,83.7 303.9,83.8 303.9,85.4 303.2,85.6 302.4,85.7 301.7,85.8 300.9,85.9 300.2,86.1 299.3,86.4 298.5,86.5 297.7,86.9 296.8,87.3 295.9,87.5 295.1,88.7 294.3,89.2 293.6,88.4 292.9,87.7 291.8,87.1 291.1,88.1 290.4,88.7 289.8,88.2 289.2,87.2 288.5,86.5 287.7,85.8 287,85.6 286.2,85.5 285.5,85.3Z" fill="url(#g15)"/>
<text x="185" y="97.92" font-size="5.4" fill="#111">Channel 6</text>
<path d="M286,94.4 286.8,94 287.7,93.3 288.5,93.1 289.2,92.3 289.8,92.3 290.4,91.9 291.2,92.2 292.1,92.7 293.2,91.3 294.3,91 295,91.6 295.7,91.6 296.3,92.1 297,92.8 297.7,93.1 298.4,93.5 299.2,94 299.9,94.2 300.5,94.5 300.5,95.8 299.9,96 299.2,96.4 298.4,96.6 297.7,97.2 297,97.7 296.3,97.9 295.7,98.5 295,98.9 294.3,100.2 293.2,98.8 292.1,97.5 291.2,97.8 290.4,98.4 289.8,97.9 289.2,98 288.5,97.2 287.7,96.7 286.8,96.3 286,95.8Z" fill="url(#g16)"/>
<text x="185" y="107.52" font-size="5.4" fill="#111">Channel 2</text>
<path d="M277.2,104.5 290.4,104.4 291.1,103.9 291.7,103.6 292.3,103.2 292.9,102.4 293.6,101.2 294.3,100.7 295,101.6 295.7,102.2 296.3,103 296.9,103.8 297.8,104.1 298.6,104.4 299.4,104.6 299.4,106 298.6,106.3 297.8,106.5 296.9,106.8 296.3,107.6 295.7,108.5 295,108.8 294.3,110.2 293.6,109 292.9,108.4 292.3,107.7 291.7,107 291.1,106.6 290.4,106.3 277.2,106.1Z" fill="url(#g17)"/>
<text x="185" y="116.92" font-size="5.4" fill="#111">Channel 4</text>
<path d="M286.5,115.2 290.7,114.9 291.3,114.5 291.9,114.1 292.9,112.7 294,111.5 294.6,112.5 295.2,113.1 296.2,113.8 296.9,114.6 297.7,115.2 297.7,116.6 296.9,117.2 296.2,118 295.2,118.5 294.6,119.3 294,119.9 292.9,119 291.9,117.8 291.3,117.4 290.7,116.8 286.5,116.6Z" fill="url(#g18)"/>
<rect x="349.35" y="22.6" width="1.3" height="102.7" fill="url(#cb)"/>
<text x="352.4" y="26.11" font-size="5.15" fill="#111">High</text>
<text x="352.4" y="128.51" font-size="5.15" fill="#111">Low</text>
<text transform="translate(363.85,74.6) rotate(-90)" font-size="4.35" text-anchor="middle" class="sf" fill="#000">Feature value</text>
<line x1="398.48" x2="522.51" y1="74.78" y2="74.78" stroke="#e2e2e2" stroke-width="0.5"/>
<line x1="460.75" x2="460.75" y1="24.46" y2="125.34" stroke="#808080" stroke-width="0.6" stroke-dasharray="1.2 0.8"/>
<line x1="398.48" x2="522.51" y1="125.34" y2="125.34" stroke="#888" stroke-width="0.6"/>
<line x1="400.47" x2="400.47" y1="125.34" y2="126.44" stroke="#aaa" stroke-width="0.5"/>
<text x="400.47" y="133.07" font-size="5.7" text-anchor="middle" fill="#111">300</text>
<text x="395.8" y="133.07" font-size="5.7" text-anchor="end" fill="#555">-</text>
<line x1="422.89" x2="422.89" y1="125.34" y2="126.44" stroke="#aaa" stroke-width="0.5"/>
<text x="422.89" y="133.07" font-size="5.7" text-anchor="middle" fill="#111">200</text>
<text x="418.21" y="133.07" font-size="5.7" text-anchor="end" fill="#555">-</text>
<line x1="446.3" x2="446.3" y1="125.34" y2="126.44" stroke="#aaa" stroke-width="0.5"/>
<text x="446.3" y="133.07" font-size="5.7" text-anchor="middle" fill="#111">100</text>
<text x="441.63" y="133.07" font-size="5.7" text-anchor="end" fill="#555">-</text>
<line x1="469.46" x2="469.46" y1="125.34" y2="126.44" stroke="#aaa" stroke-width="0.5"/>
<text x="469.46" y="133.07" font-size="5.7" text-anchor="middle" fill="#111">0</text>
<line x1="492.63" x2="492.63" y1="125.34" y2="126.44" stroke="#aaa" stroke-width="0.5"/>
<text x="492.63" y="133.07" font-size="5.7" text-anchor="middle" fill="#111">100</text>
<line x1="515.79" x2="515.79" y1="125.34" y2="126.44" stroke="#aaa" stroke-width="0.5"/>
<text x="515.79" y="133.07" font-size="5.7" text-anchor="middle" fill="#111">200</text>
<text x="367.6" y="35.54" font-size="5.45" fill="#111">Observation</text>
<path d="M404,33 414.4,32.6 415.2,32.5 415.9,32.5 416.7,32.6 417.4,32.5 418.2,32.2 418.9,32.4 419.7,32.2 420.4,32.1 421.1,32 421.9,32.1 422.6,32.1 423.3,32 424.1,32.1 424.8,32 425.5,32 426.2,32.1 426.9,31.9 427.7,31.9 428.4,31.9 429.1,31.5 429.9,31.8 430.6,31.8 431.4,31.9 432.2,31.5 432.9,31.7 433.7,31.8 434.4,31.7 435.2,31.5 436,31.6 436.7,31.6 437.5,31.4 438.2,31.4 439,31.6 439.8,31.6 440.5,31.8 441.3,31.6 442,31.6 442.8,31.5 443.6,31.4 444.3,31.1 445,31.6 445.7,31 446.4,31.4 447.2,31.1 447.9,31.4 448.6,30.9 449.3,31.2 450.1,31.1 450.8,31 451.5,30.5 452.3,30.9 453,30.4 453.8,30.3 454.5,30 455.3,30.4 456,30 456.8,30 457.5,29.8 458.3,30 458.9,29.6 459.6,29.4 460.3,29.3 461,29.1 461.7,29.9 462.5,29.6 463.2,29.7 464,30.2 464.7,29.9 465.5,29.9 466.2,30.3 467,29.4 467.7,29.6 468.4,29.6 469.1,29.5 469.8,29.9 470.5,30.5 471.2,30.7 472,30.9 472.9,31.5 473.7,31.8 474.4,31.4 475.2,31.2 475.9,31.2 476.7,31.1 477.4,30.8 478.2,30.9 478.9,30.7 479.7,30.4 480.4,30.9 481.2,30.2 481.9,30.8 482.7,30.8 483.4,30.1 484.2,30.2 484.9,30 485.7,30.2 486.4,30.1 487.1,30.2 487.8,30.3 488.6,30.3 489.3,30.8 490,30.4 490.7,30.5 491.5,30.5 492.2,30.7 492.9,30.9 493.6,31 494.4,30.6 495.1,30.9 495.8,30.8 496.5,30 497.3,29.8 498,30.4 498.7,30.1 499.5,29.9 500.2,30.5 500.9,30.5 501.6,31 502.3,31.2 503.1,31.2 503.8,31.3 504.5,31.3 505.2,31 505.9,31.1 506.6,31.6 507.4,31.2 508.1,31.3 508.8,31.5 509.6,31.7 510.3,31.9 511.1,31.8 511.8,32.2 512.6,32 513.3,32.3 514,32.4 514.8,32.5 515.6,32.7 516.4,32.9 517.2,33 518,33 518,34.3 517.2,34.3 516.4,34.5 515.6,34.7 514.8,34.8 514,35.2 513.3,35.2 512.6,35.1 511.8,35.4 511.1,35.3 510.3,35.8 509.6,35.9 508.8,35.9 508.1,35.7 507.4,36.2 506.6,36.2 505.9,36 505.2,36.1 504.5,36 503.8,36.6 503.1,36.7 502.3,36.6 501.6,36.3 500.9,36.6 500.2,36.6 499.5,37.1 498.7,37.6 498,37.3 497.3,37.2 496.5,37.1 495.8,36.6 495.1,36.8 494.4,37 493.6,36.4 492.9,36.5 492.2,36.4 491.5,36.9 490.7,36.6 490,37.1 489.3,36.5 488.6,36.6 487.8,36.9 487.1,36.8 486.4,37.1 485.7,37.1 484.9,37.1 484.2,37.2 483.4,37 482.7,36.7 481.9,36.7 481.2,36.9 480.4,37 479.7,37 478.9,36.9 478.2,36.5 477.4,36.7 476.7,36.6 475.9,36 475.2,35.9 474.4,35.7 473.7,35.6 472.9,36 472,36.6 471.2,36.8 470.5,37.3 469.8,37.4 469.1,37.1 468.4,37.7 467.7,38.5 467,38.2 466.2,37.6 465.5,37.4 464.7,36.7 464,37.2 463.2,37.9 462.5,37.8 461.7,38.4 461,38.6 460.3,38.1 459.6,37.6 458.9,37.4 458.3,37.3 457.5,37.3 456.8,37.8 456,37.5 455.3,37.4 454.5,37.4 453.8,37.3 453,37.1 452.3,37 451.5,36.8 450.8,36.3 450.1,36.6 449.3,36.1 448.6,36.2 447.9,36.5 447.2,35.9 446.4,36.3 445.7,36.3 445,36.2 444.3,36.2 443.6,35.8 442.8,36 442,35.9 441.3,35.7 440.5,36 439.8,35.7 439,35.7 438.2,35.7 437.5,35.7 436.7,35.6 436,35.7 435.2,35.9 434.4,35.8 433.7,35.9 432.9,35.7 432.2,35.7 431.4,35.8 430.6,35.5 429.9,35.8 429.1,35.6 428.4,35.7 427.7,35.5 426.9,35.6 426.2,35.5 425.5,35.4 424.8,35.3 424.1,35.6 423.3,35.5 422.6,35.4 421.9,35.5 421.1,35.3 420.4,35.3 419.7,35.2 418.9,35.1 418.2,35 417.4,35.1 416.7,34.9 415.9,35 415.2,34.8 414.4,34.8 404,34.3Z" fill="url(#g19)"/>
<text x="367.6" y="45.14" font-size="5.45" fill="#111">McClear</text>
<path d="M446.3,43 447,42.8 447.6,42.5 448.3,42.2 449,42 449.6,41.6 450.3,41 451,40.9 451.7,40.1 452.4,40 453.1,40.1 453.8,39.1 454.5,39.8 455.3,39.4 456,39.9 456.8,40.3 457.5,40.2 458.2,39.8 458.9,39.4 459.6,40 460.3,39.4 461,38.7 461.7,39.7 462.5,39 463.2,39.4 464,39.3 464.7,39.6 465.5,40.1 466.2,40 467,40.5 467.8,40 468.5,40.4 469.3,40.6 470.1,40.9 470.9,40.6 471.6,41.2 472.4,40.9 473.2,41.2 473.9,40.9 474.7,41.1 475.4,41.3 476.1,41.2 476.9,41.1 477.6,41 478.3,41.1 479.1,40.5 479.8,41.1 480.5,40.7 481.3,40.9 482,40.9 482.7,41.3 483.5,40.8 484.2,41 484.9,40.9 485.7,40.8 486.4,40.9 487.1,41.3 487.8,41.4 488.6,41.5 489.3,41.3 490,41.4 490.7,41.2 491.5,41.4 492.2,41.7 492.9,41.6 493.6,41.5 494.3,41.5 495.1,41.7 495.8,41.5 496.5,41.9 497.2,41.9 498,41.6 498.7,41.7 499.4,41.8 500.1,41.9 500.8,42.2 501.6,42 502.3,42.1 503,42.1 503.7,42.4 504.5,42.4 505.2,42.3 505.9,42.5 506.6,42.4 507.3,42.5 508.1,42.6 510.3,42.9 510.3,44.3 508.1,44.7 507.3,44.7 506.6,44.7 505.9,44.8 505.2,44.8 504.5,44.9 503.7,45 503,45.2 502.3,45.1 501.6,45.4 500.8,45.2 500.1,45.5 499.4,45.5 498.7,45.2 498,45.6 497.2,45.4 496.5,45.4 495.8,45.8 495.1,45.5 494.3,45.6 493.6,46 492.9,45.8 492.2,46.1 491.5,45.8 490.7,45.7 490,46.2 489.3,46.2 488.6,45.8 487.8,45.9 487.1,45.8 486.4,46.4 485.7,46.4 484.9,46.2 484.2,46.1 483.5,46.3 482.7,46.6 482,46 481.3,46.3 480.5,46.2 479.8,46.5 479.1,46.4 478.3,46.1 477.6,46.4 476.9,46.4 476.1,46.4 475.4,46 474.7,46.2 473.9,46.1 473.2,46.3 472.4,46 471.6,46.5 470.9,46.4 470.1,46.8 469.3,46.5 468.5,47 467.8,46.7 467,47.3 466.2,47.5 465.5,47 464.7,47.9 464,47.9 463.2,47.5 462.5,48.3 461.7,48.4 461,48.6 460.3,48.1 459.6,47.6 458.9,47.4 458.2,47.8 457.5,47.4 456.8,47.4 456,47.1 455.3,47.8 454.5,47.8 453.8,48.3 453.1,48 452.4,47 451.7,47.1 451,46.7 450.3,46.1 449.6,45.9 449,45.6 448.3,45.1 447.6,44.8 447,44.5 446.3,44.3Z" fill="url(#g20)"/>
<line x1="512.3" x2="513.3" y1="43.64" y2="43.64" stroke="#fa0550" stroke-width="1.5" stroke-linecap="round"/>
<line x1="514.54" x2="515.79" y1="43.64" y2="43.64" stroke="#fa0550" stroke-width="1.5" stroke-linecap="round"/>
<text x="367.6" y="54.94" font-size="5.45" fill="#111">Channel 7</text>
<path d="M448.5,53.5 449.3,53.4 450,53.2 450.8,53.1 451.5,53 452.3,52.9 453,52.6 453.8,52.8 454.5,52.7 455.3,52.3 456,52.5 456.7,52.4 457.4,52.6 458.1,52.7 458.8,52.6 459.5,52.8 460.2,52.6 461,52.5 461.7,52.1 462.5,52.2 463.2,52 464,51.6 464.7,51.3 465.7,49.6 466.3,50.4 467,51.1 467.6,51.3 468.3,51.3 469,52.1 469.7,52.2 470.5,52.7 471.2,52.4 472,52.2 472.7,52.3 473.4,51.8 474.1,51.9 474.8,51.2 475.4,51.2 476.2,51.8 476.9,51.8 477.7,52.4 478.4,52.3 479.2,52.5 480,52.1 480.8,51.8 481.7,51.8 482.3,51.3 483,51.1 483.7,50.8 484.5,51.2 485.4,51.9 486.3,52.2 487.1,52.6 487.9,52.9 488.6,52.9 489.3,53 490,53.1 490.7,53.2 491.4,53.3 491.4,54.9 490.7,55 490,55.1 489.3,55.2 488.6,55.2 487.9,55.5 487.1,55.4 486.3,55.9 485.4,56 484.5,57 483.7,57.1 483,56.7 482.3,56.7 481.7,56.3 480.8,56.3 480,56.1 479.2,55.6 478.4,55.9 477.7,55.9 476.9,56.2 476.2,56.8 475.4,56.7 474.8,56.5 474.1,56.4 473.4,56.3 472.7,55.8 472,55.8 471.2,55.5 470.5,55.4 469.7,55.7 469,56.2 468.3,56.9 467.6,57.3 467,57.1 466.3,57.6 465.7,58.1 464.7,57.6 464,57.1 463.2,56.6 462.5,56.2 461.7,55.9 461,55.7 460.2,55.6 459.5,55.6 458.8,55.5 458.1,55.4 457.4,55.5 456.7,55.6 456,55.6 455.3,55.8 454.5,55.8 453.8,55.6 453,55.6 452.3,55.5 451.5,55.4 450.8,55.1 450,55 449.3,54.8 448.5,54.8Z" fill="url(#g21)"/>
<line x1="492.63" x2="493.62" y1="54.1" y2="54.1" stroke="#fa0550" stroke-width="1.5" stroke-linecap="round"/>
<line x1="494.62" x2="495.62" y1="54.1" y2="54.1" stroke="#fa0550" stroke-width="1.5" stroke-linecap="round"/>
<text x="367.6" y="65.74" font-size="5.45" fill="#111">Channel 5</text>
<path d="M453,63.4 456.5,63 457.4,62.9 458.3,62.8 458.9,62.5 459.6,62.4 460.3,61.8 461,61.8 461.7,61.9 462.4,62.3 463,62 463.7,62.4 464.5,61.9 465.2,61.1 465.9,61.2 466.6,60.7 467.2,60.5 468.1,60.7 469,61.9 469.6,61.9 470.3,62.1 471,62.3 471.7,62.4 472.5,61.9 473.2,61.8 473.9,61.2 474.7,60.6 475.4,60.6 476.2,59.5 476.9,59.7 477.5,60.4 478.2,60.3 479.1,60.9 479.9,60.7 480.6,61.7 481.3,62.1 481.9,62.6 482.6,62.8 483.2,63 483.9,63.1 486.4,63.4 486.4,64.7 483.9,65 483.2,65.2 482.6,65.4 481.9,65.6 481.3,66.2 480.6,66.5 479.9,67.1 479.1,67.7 478.2,67.5 477.5,67.7 476.9,68.5 476.2,68 475.4,68 474.7,67.7 473.9,66.7 473.2,66.3 472.5,66.2 471.7,65.8 471,65.8 470.3,65.8 469.6,66.3 469,66.6 468.1,67 467.2,67.7 466.6,67.9 465.9,66.9 465.2,66.6 464.5,66 463.7,65.7 463,65.9 462.4,66.3 461.7,66.4 461,66.6 460.3,66.4 459.6,66 458.9,65.7 458.3,65.4 457.4,65.3 456.5,65.1 453,64.7Z" fill="url(#g22)"/>
<text x="367.6" y="76.94" font-size="5.45" fill="#111">Channel 6</text>
<path d="M461.7,73.7 464.7,73.5 465.5,72.9 466.2,71.7 466.8,71.4 467.5,70.3 468.5,71.7 469.6,72.5 470.1,72.3 470.7,71.2 471.3,70.4 471.9,69.8 473,71.5 473.7,72.4 474.4,73.1 475.3,73.3 476.1,73.5 476.9,73.7 477.7,73.8 477.7,75.1 476.9,75.2 476.1,75.4 475.3,75.7 474.4,75.7 473.7,76.3 473,76.8 471.9,79.1 471.3,78.2 470.7,77.6 470.1,76.7 469.6,76.4 468.5,76.8 467.5,78.3 466.8,77.6 466.2,77.1 465.5,76.1 464.7,75.4 461.7,75.1Z" fill="url(#g23)"/>
<text x="367.6" y="87.34" font-size="5.45" fill="#111">Channel 3</text>
<path d="M460.5,83.9 464.7,83.8 465.7,82.4 466.4,81.5 467.1,80.2 467.8,80.7 468.5,80.8 469.2,79.8 470,80.6 470.7,80.4 471.5,80.9 472.2,80.8 473.2,81.8 473.8,82.4 474.4,82.5 475.3,83.1 476.2,83.5 479.2,83.9 479.2,85.3 476.2,85.7 475.3,86.2 474.4,86.6 473.8,87.1 473.2,87.4 472.2,88.5 471.5,88.3 470.7,88.4 470,88.8 469.2,88.9 468.5,88.9 467.8,88.8 467.1,88.4 466.4,87.7 465.7,86.7 464.7,85.4 460.5,85.3Z" fill="url(#g24)"/>
<text x="367.6" y="97.14" font-size="5.45" fill="#111">Channel 2</text>
<path d="M452.5,94.3 467.7,94.2 468.7,93.3 469.6,91.9 470.5,90.4 471.3,92.1 472.2,93.5 473.2,94 474.7,94.4 474.7,95.7 473.2,96.2 472.2,96.8 471.3,98.1 470.5,99.6 469.6,98.3 468.7,97.1 467.7,96 452.5,95.9Z" fill="url(#g25)"/>
<text x="367.6" y="107.94" font-size="5.45" fill="#111">Channel 4</text>
<path d="M457.3,104.6 465.2,104.5 465.9,104.3 466.6,104.2 467.2,104.1 467.8,103.7 468.5,102.6 469.5,101.8 470.1,101.5 470.7,101 471.3,101.7 472,101.8 472.8,103.5 473.7,104.6 473.7,106 472.8,107.2 472,108.4 471.3,108.7 470.7,110.2 470.1,109.8 469.5,108.7 468.5,107.6 467.8,107 467.2,106.5 466.6,106.4 465.9,106.2 465.2,106.1 457.3,105.9Z" fill="url(#g26)"/>
<text x="367.6" y="117.94" font-size="5.45" fill="#111">Channel 1</text>
<path d="M458.8,114.6 467.7,114.5 468.7,113.8 469.7,112.6 470.7,110.4 471.7,112.8 472.5,114.1 473.4,114.8 473.4,116.1 472.5,117 471.7,118.3 470.7,120.3 469.7,118.4 468.7,117.2 467.7,116.4 458.8,116.3Z" fill="url(#g27)"/>
<rect x="530.35" y="23.8" width="1.3" height="101.7" fill="url(#cb)"/>
<text x="533.7" y="27.31" font-size="5.15" fill="#111">High</text>
<text x="533.7" y="127.11" font-size="5.15" fill="#111">Low</text>
<text transform="translate(544.75,74.5) rotate(-90)" font-size="4.35" text-anchor="middle" class="sf" fill="#000">Feature value</text>
<line x1="40.46" x2="159.51" y1="202.76" y2="202.76" stroke="#e2e2e2" stroke-width="0.5"/>
<line x1="99.99" x2="99.99" y1="152.45" y2="253.33" stroke="#808080" stroke-width="0.6" stroke-dasharray="1.2 0.8"/>
<line x1="40.46" x2="159.51" y1="253.33" y2="253.33" stroke="#888" stroke-width="0.6"/>
<line x1="53.91" x2="53.91" y1="253.33" y2="254.43" stroke="#aaa" stroke-width="0.5"/>
<text x="53.91" y="261.06" font-size="5.7" text-anchor="middle" fill="#111">300</text>
<text x="49.24" y="261.06" font-size="5.7" text-anchor="end" fill="#555">-</text>
<line x1="70.85" x2="70.85" y1="253.33" y2="254.43" stroke="#aaa" stroke-width="0.5"/>
<text x="70.85" y="261.06" font-size="5.7" text-anchor="middle" fill="#111">200</text>
<text x="66.17" y="261.06" font-size="5.7" text-anchor="end" fill="#555">-</text>
<line x1="88.28" x2="88.28" y1="253.33" y2="254.43" stroke="#aaa" stroke-width="0.5"/>
<text x="88.28" y="261.06" font-size="5.7" text-anchor="middle" fill="#111">100</text>
<text x="83.61" y="261.06" font-size="5.7" text-anchor="end" fill="#555">-</text>
<line x1="105.47" x2="105.47" y1="253.33" y2="254.43" stroke="#aaa" stroke-width="0.5"/>
<text x="105.47" y="261.06" font-size="5.7" text-anchor="middle" fill="#111">0</text>
<line x1="122.65" x2="122.65" y1="253.33" y2="254.43" stroke="#aaa" stroke-width="0.5"/>
<text x="122.65" y="261.06" font-size="5.7" text-anchor="middle" fill="#111">100</text>
<line x1="140.34" x2="140.34" y1="253.33" y2="254.43" stroke="#aaa" stroke-width="0.5"/>
<text x="140.34" y="261.06" font-size="5.7" text-anchor="middle" fill="#111">200</text>
<line x1="156.53" x2="156.53" y1="253.33" y2="254.43" stroke="#aaa" stroke-width="0.5"/>
<text x="156.53" y="261.06" font-size="5.7" text-anchor="middle" fill="#111">300</text>
<text x="5.2" y="163.4" font-size="5.8" fill="#111">Observation</text>
<path d="M46.2,161.9 54.4,161.7 61.9,161.5 62.6,161.4 63.3,161.3 64,161.2 64.8,161.2 65.5,161.1 66.2,161 66.9,160.9 67.7,160.9 68.4,161 69.1,160.9 69.8,160.7 70.5,160.7 71.3,160.7 72,160.6 72.7,160.6 73.4,160.6 74.2,160.3 74.9,160.4 75.6,160.5 76.3,160.5 77,160.2 77.8,160 78.5,160 79.2,159.9 79.9,160.2 80.7,160.4 81.4,160.1 82.1,159.8 82.8,160 83.5,160 84.3,159.9 85,160.1 85.8,160 86.5,159.8 87.3,160.1 88,159.9 88.8,159.8 89.5,159.5 90.3,159.8 91,159.4 91.7,159.6 92.5,159.8 93.2,159.1 93.9,159.4 94.6,159 95.4,158.9 96.1,158.8 96.8,159.3 97.5,158.9 98.2,159.1 99,158.7 99.7,158.9 100.4,158.5 101.1,158.7 101.9,158.7 102.6,158.9 103.3,158 104,158.1 104.7,158.2 105.5,158.4 106.2,158.1 107,158 107.8,158.5 108.5,157.8 109.3,158.5 110.1,158 110.9,157.9 111.6,158.5 112.4,157.7 113.2,157.8 113.9,158.4 114.7,158.4 115.4,157.9 116.2,158 116.9,158.5 117.7,157.9 118.4,158.1 119.2,158.4 119.9,157.8 120.7,158.6 121.4,158.2 122.1,158.5 122.9,158.6 123.6,158.9 124.3,158.5 125,158.9 125.7,158.7 126.5,159 127.2,158.9 127.9,158.4 128.6,158.8 129.3,158.9 130,159.1 130.7,159.5 131.5,159.4 132.2,159.6 132.9,159.6 133.6,159.7 134.4,160.4 135.1,160.8 135.8,160.9 136.4,161.5 137.1,161.9 137.1,163.2 136.4,163.6 135.8,163.9 135.1,164.4 134.4,165 133.6,165.2 132.9,165.3 132.2,165.6 131.5,165.6 130.7,166.2 130,165.7 129.3,166 128.6,165.9 127.9,166.1 127.2,166 126.5,166 125.7,166.6 125,166.7 124.3,166.1 123.6,166.3 122.9,166.9 122.1,166.9 121.4,166.3 120.7,167.1 119.9,167.2 119.2,166.5 118.4,167.2 117.7,167.6 116.9,167.5 116.2,167 115.4,166.9 114.7,167.6 113.9,166.8 113.2,166.9 112.4,166.9 111.6,166.5 110.9,167.4 110.1,167.4 109.3,166.6 108.5,166.6 107.8,166.6 107,166.9 106.2,167.5 105.5,167.1 104.7,166.9 104,166.5 103.3,166.8 102.6,166.4 101.9,166.8 101.1,166.8 100.4,166 99.7,166.8 99,166.4 98.2,165.9 97.5,166.1 96.8,165.9 96.1,165.9 95.4,166.3 94.6,165.9 93.9,165.4 93.2,165.9 92.5,165.4 91.7,165.7 91,165.2 90.3,165.4 89.5,165.3 88.8,165.5 88,165.3 87.3,165.1 86.5,165.2 85.8,165.4 85,165.2 84.3,165 83.5,165.1 82.8,165.3 82.1,165.2 81.4,165 80.7,164.7 79.9,165.2 79.2,164.7 78.5,165.1 77.8,164.7 77,164.6 76.3,164.8 75.6,164.6 74.9,164.6 74.2,164.8 73.4,164.5 72.7,164.5 72,164.3 71.3,164.3 70.5,164.3 69.8,164.4 69.1,164.2 68.4,164.3 67.7,164.1 66.9,163.8 66.2,163.8 65.5,164 64.8,163.8 64,163.9 63.3,163.7 62.6,163.8 61.9,163.6 54.4,163.4 46.2,163.2Z" fill="url(#g28)"/>
<path d="M108.2,165.8h0M102.6,165h0M112.9,162.9h0M106.3,163.7h0M105.5,159.5h0M99.8,161.2h0M103.8,164.9h0M116.9,160.2h0M96.6,160h0M102.1,161.2h0M96.6,161.5h0M101.4,164.7h0M118.8,161.4h0M96.7,164.5h0M96.9,161.1h0M99.6,164.2h0M114,160.7h0M107.6,161.9h0M118.3,160.6h0M100.1,162.9h0M101.1,163.6h0M99.2,161.3h0M102.4,159.6h0M102,163.9h0M99.1,161.5h0M107.7,160.2h0M95.6,165.2h0M95.5,164.8h0M103.9,160.8h0M96.2,164.1h0M124.3,165.2h0M107.9,164.9h0M96.7,162.9h0M100.7,161.3h0M98,163.6h0M110.5,166h0M96.6,162.2h0M109.7,161.4h0M100.9,161.2h0M114.6,161.4h0M98.2,161.5h0M96.2,160.8h0M108,163.1h0M113.5,163h0M103,163h0M112.9,163.2h0M109.3,159.4h0M114.6,164.6h0M121.9,159.7h0M96.8,163.1h0M114.1,164.8h0M115.2,159.7h0M99.1,164.4h0M122.8,159.6h0" stroke="#1c6bf0" stroke-width="0.9" stroke-linecap="round" fill="none" opacity="0.75"/>
<path d="M110.5,165h0M100.7,161.6h0M127.9,162.6h0M110.8,159.8h0M104.2,165.3h0M107.9,160.7h0M121.8,161.8h0M114.8,161.1h0M98.2,160.6h0M114.6,161.5h0M103,160h0M105,161.9h0M121.9,165h0M118.6,163.7h0M109.4,163.7h0M126.6,164h0M119.9,160.8h0M123.9,164.3h0M122.5,160.7h0M121,159.8h0M108.8,164.3h0M104.9,159.7h0M109.8,165.7h0M120.6,164.7h0M110.8,159.3h0M110,162.6h0M119.4,164.7h0M114,166h0M105.9,159.9h0M113,162.1h0M107.3,161.1h0M123.3,162.8h0M111.1,164.5h0M98.1,163.8h0M114.6,159.6h0M110.2,160.3h0M116.8,165.8h0M105.4,160.3h0M122.2,164.6h0M106.5,160.3h0M106.3,161.6h0M123.4,163.8h0M127.7,162.5h0M120.1,159.1h0M124.7,164.3h0M105,163.7h0M118.2,165h0M128.6,165h0M128.7,165.3h0M123.1,159.8h0M116.2,161h0M128,162.4h0M105.5,161.4h0M110.6,159.5h0M99.2,160.6h0M114.1,159.7h0M104,159.8h0M103.9,162.5h0M124.9,162.9h0M121.3,160h0M120.1,159.8h0M108.7,160.2h0M108.1,159h0M102.6,161.2h0M109.9,165.4h0M125.2,162.9h0M125.2,160.5h0M107,164.4h0M123.6,160.2h0M120.6,165.5h0M127.1,163.6h0M101.9,162.2h0M114.3,161h0M108.3,160h0M113.8,163.9h0M127.9,159.6h0M100.4,162.6h0M123.4,163.7h0M111.6,160h0M108.8,165.2h0" stroke="#f20b5e" stroke-width="0.9" stroke-linecap="round" fill="none" opacity="0.75"/>
<text x="5.2" y="172.6" font-size="5.8" fill="#111">McClear</text>
<path d="M75.6,171.7 83.5,171.4 84.2,171.3 84.9,171.3 85.6,171.1 86.3,170.9 87.2,170.7 88,170.2 88.9,169.6 89.8,169.4 90.5,168.5 91.1,167.9 91.8,168.8 92.5,168.8 93.2,169.5 93.8,169.9 94.5,170.1 95.3,170 96,170.3 96.7,170.3 97.5,170.6 98.2,170.8 99,170.6 99.7,170.5 100.4,170.7 101.1,170.5 101.9,170.5 102.6,170.5 103.3,170.7 104,170.6 104.7,170.5 105.5,170.6 106.2,170.5 107,170.6 107.8,170.4 108.5,170.3 109.3,170.5 110.1,170.4 110.9,170.2 111.6,170.1 112.4,170.1 113.2,170.5 113.9,170.2 114.7,170.4 115.4,170.4 116.2,170.5 116.9,170.2 117.7,170.5 118.4,170.5 119.2,170.3 119.9,170.5 120.7,170.4 121.4,170.4 122.1,170.4 122.9,170.5 123.6,170.4 124.3,170.6 125,170.7 125.7,170.5 126.5,170.5 127.2,170.7 127.9,170.6 128.6,170.7 129.4,170.9 130.1,171 130.8,170.9 131.5,170.9 132.2,171 133,170.9 133.7,170.9 134.4,171.1 135.1,171.2 135.9,171.3 136.6,171.1 137.3,171.2 138,171.3 138.7,171.3 139.5,171.3 140.2,171.3 140.9,171.4 141.6,171.4 142.4,171.4 143.1,171.5 149.1,171.7 149.1,173.1 143.1,173.3 142.4,173.3 141.6,173.4 140.9,173.4 140.2,173.4 139.5,173.4 138.7,173.5 138,173.5 137.3,173.5 136.6,173.4 135.9,173.5 135.1,173.5 134.4,173.7 133.7,173.6 133,173.8 132.2,173.6 131.5,173.8 130.8,173.9 130.1,174 129.4,173.9 128.6,174 127.9,174 127.2,174.2 126.5,174 125.7,174.2 125,174.2 124.3,174 123.6,174.4 122.9,174.1 122.1,174.5 121.4,174.2 120.7,174.5 119.9,174.2 119.2,174.2 118.4,174.3 117.7,174.2 116.9,174.3 116.2,174.4 115.4,174.6 114.7,174.6 113.9,174.7 113.2,174.3 112.4,174.5 111.6,174.4 110.9,174.4 110.1,174.3 109.3,174.2 108.5,174.3 107.8,174.3 107,174.5 106.2,174.2 105.5,174.2 104.7,174.2 104,174.5 103.3,174.2 102.6,174.2 101.9,174.1 101.1,174.1 100.4,174.2 99.7,174.2 99,174.2 98.2,173.9 97.5,174.2 96.7,174.4 96,174.5 95.3,174.3 94.5,174.9 93.8,175.1 93.2,175.4 92.5,175.6 91.8,176 91.1,177.5 90.5,175.9 89.8,175.9 88.9,175.1 88,174.7 87.2,174.2 86.3,173.7 85.6,173.8 84.9,173.5 84.2,173.5 83.5,173.3 75.6,173Z" fill="url(#g29)"/>
<line x1="151.3" x2="152.29" y1="172.38" y2="172.38" stroke="#fa0550" stroke-width="1.5" stroke-linecap="round"/>
<line x1="153.54" x2="154.53" y1="172.38" y2="172.38" stroke="#fa0550" stroke-width="1.5" stroke-linecap="round"/>
<text x="5.2" y="183.8" font-size="5.8" fill="#111">Channel 2</text>
<path d="M81.8,181.7 92.3,181.6 93,181.6 93.8,181.5 94.5,181.5 95.3,181.5 96,181.4 96.7,181.4 97.5,181.3 98.2,181.3 99,181.2 99.7,181.2 100.4,181.2 101.1,181.1 101.8,181.2 102.5,181 103.3,180.9 104,180.7 104.6,180.6 105.3,180.8 106,180.6 106.8,180 107.7,179.4 108.6,179.6 109.5,178.6 110.2,178.8 110.9,177.7 111.7,177.9 112.4,178.7 113.3,178.9 114.2,179.6 115.1,180.2 115.9,180.8 116.8,181.1 117.7,181.5 119.2,181.9 119.2,183.2 117.7,183.6 116.8,184.2 115.9,184.5 115.1,185.2 114.2,186 113.3,185.9 112.4,186.1 111.7,186.7 110.9,186.8 110.2,186.2 109.5,186.6 108.6,185.5 107.7,185.3 106.8,184.9 106,184.7 105.3,184.4 104.6,184.2 104,184.1 103.3,184.1 102.5,184.1 101.8,183.9 101.1,184.1 100.4,183.8 99.7,184 99,183.7 98.2,183.8 97.5,183.6 96.7,183.6 96,183.7 95.3,183.6 94.5,183.6 93.8,183.5 93,183.5 92.3,183.5 81.8,183.4Z" fill="url(#g30)"/>
<text x="5.2" y="194.2" font-size="5.8" fill="#111">Channel 1</text>
<path d="M81.3,191.9 92.3,191.8 93,191.7 93.8,191.7 94.6,191.7 95.4,191.6 96.2,191.7 97,191.6 97.7,191.4 98.5,191.6 99.2,191.5 99.9,191.4 100.6,191.2 101.3,191.3 102,191.3 102.8,191.3 103.5,190.9 104.1,190.8 104.8,190.8 105.5,190.5 106.3,190.4 107.2,189.8 108.1,189.4 109,189.3 109.8,188.7 110.5,187.8 111.2,188.2 111.9,189.2 112.8,189.7 113.7,190 114.6,190.4 115.4,191 116.2,191.2 116.9,191.7 118.2,192.1 118.2,193.4 116.9,193.8 116.2,194.1 115.4,194.5 114.6,195.4 113.7,196.2 112.8,196.5 111.9,196 111.2,197.4 110.5,196.9 109.8,197.1 109,196.8 108.1,196.3 107.2,195.5 106.3,195.3 105.5,195.1 104.8,194.7 104.1,194.7 103.5,194.3 102.8,194.4 102,194.3 101.3,194.4 100.6,194.2 99.9,194 99.2,194 98.5,193.9 97.7,194 97,194 96.2,193.9 95.4,193.8 94.6,193.8 93.8,193.7 93,193.7 92.3,193.7 81.3,193.5Z" fill="url(#g31)"/>
<text x="5.2" y="205.2" font-size="5.8" fill="#111">Channel 7</text>
<path d="M83.1,202.3 89.8,201.9 90.5,201.9 91.3,201.7 92,201.6 92.8,201.7 93.5,201.5 94.3,201.3 95.2,201.1 96,201.1 96.8,200.6 97.7,200.5 98.5,200.2 99.2,200 100,199.8 100.7,199.4 101.5,199.3 102.2,198.6 102.9,199.3 103.6,198.7 104.3,199.3 105.1,199.3 105.8,199.5 106.5,199.1 107.2,199.1 108,198.7 108.7,198.8 109.5,198.6 110.2,198.4 110.9,198.8 111.6,199 112.3,199.3 113,199.5 113.7,199.2 114.4,200.1 115.2,200.9 115.9,201.4 116.8,201.6 117.6,201.5 118.4,201.7 119.2,201.9 120,202 120.8,202.1 121.6,202.2 122.4,202.3 122.4,203.7 121.6,203.8 120.8,203.9 120,204 119.2,204.1 118.4,204.1 117.6,204.5 116.8,204.4 115.9,204.6 115.2,205.3 114.4,206.1 113.7,206 113,206.3 112.3,206.7 111.6,207.5 110.9,207.1 110.2,207.5 109.5,207.7 108.7,207.2 108,207.3 107.2,206.6 106.5,207.1 105.8,207 105.1,206.6 104.3,206.7 103.6,207.2 102.9,207.5 102.2,206.9 101.5,206.8 100.7,206.3 100,206.7 99.2,206.5 98.5,206.1 97.7,205.8 96.8,205.7 96,205.5 95.2,204.8 94.3,204.6 93.5,204.3 92.8,204.5 92,204.2 91.3,204.3 90.5,204.3 89.8,204.1 83.1,203.7Z" fill="url(#g32)"/>
<path d="M106.2,204.4h0M104,203.7h0M108.1,202.9h0M113.2,205.1h0M102.7,200.8h0M108.1,202.7h0M106,203.1h0M106.1,202h0M101.2,201.2h0M104.7,201.9h0M101.6,202.7h0M106.1,204.1h0M102,204.6h0M102.6,201.2h0M112.2,200.5h0M111.3,203.4h0" stroke="#1c6bf0" stroke-width="0.9" stroke-linecap="round" fill="none" opacity="0.75"/>
<path d="M110.5,201.8h0M108.5,201.8h0M101,204.5h0M108,203.6h0M104.2,203.8h0M108.2,203.8h0M105.4,203.8h0M113.4,202.9h0M102.9,205.8h0M108.2,203.2h0M104.3,200.9h0M107.3,203.9h0M106.2,205.2h0M102.4,202.1h0M106.4,206.2h0M107.1,202.9h0M111.4,200.7h0M101.8,201h0M112.4,200.5h0M112.7,201.2h0M111.8,203.8h0M110.7,201.6h0M109.9,205.1h0M106.3,203.5h0M103.6,206h0M108.2,203h0M111.4,199.8h0M107.3,202.8h0M106.7,202.8h0M107,203h0M112.3,204.1h0M106.5,200.1h0M108.6,204.8h0M110.3,204.5h0" stroke="#f20b5e" stroke-width="0.9" stroke-linecap="round" fill="none" opacity="0.75"/>
<text x="5.2" y="215.2" font-size="5.8" fill="#111">Channel 4</text>
<path d="M89,212.3 94.8,212 95.5,211.8 96.3,211.8 97,211.6 97.7,211.3 98.5,211 99.2,210.9 100,210.7 100.7,210.3 101.5,210 102.2,209.2 102.9,209.3 103.7,209.5 104.4,208.5 105.1,208.2 105.8,209.1 106.5,208.9 107.3,209.2 108,209.3 108.7,209.3 109.5,209.7 110.2,210.7 110.9,210.9 111.6,211.2 112.3,211.5 112.9,211.8 113.7,211.7 114.4,211.9 115.2,212 125.4,212.2 125.4,213.6 115.2,213.8 114.4,213.9 113.7,214 112.9,214.2 112.3,214.4 111.6,214.5 110.9,214.8 110.2,215.2 109.5,215.8 108.7,216 108,216.4 107.3,216.6 106.5,216.7 105.8,216.6 105.1,216.9 104.4,217.3 103.7,216.6 102.9,216.4 102.2,216.3 101.5,215.8 100.7,215.5 100,215.6 99.2,215 98.5,214.5 97.7,214.4 97,214.2 96.3,214.1 95.5,214 94.8,213.8 89,213.6Z" fill="url(#g33)"/>
<path d="M103.1,215.5h0M106.7,210.1h0M99.8,213.3h0M107.1,213.3h0M103.5,214h0M100.5,214.6h0M107.3,212.4h0M101.4,214.9h0M100.6,211h0M99.6,214.1h0M101.2,213.3h0M102,214.7h0M106,216h0M99.5,212.5h0M101.1,213.1h0M103.2,214.3h0M105,210.2h0M107.2,213.1h0M102.2,214.3h0M107.1,210.4h0M106.6,213.5h0M100,211.5h0" stroke="#1c6bf0" stroke-width="0.9" stroke-linecap="round" fill="none" opacity="0.75"/>
<path d="M104.7,209.9h0M101.7,211.4h0M100.1,211.3h0M104,210.7h0M100.3,214.6h0" stroke="#f20b5e" stroke-width="0.9" stroke-linecap="round" fill="none" opacity="0.75"/>
<text x="5.2" y="225.8" font-size="5.8" fill="#111">Channel 3</text>
<path d="M96,222.4 99.7,222 100.6,221.6 101.5,221.5 102.2,221.2 103,220.3 103.7,219.8 104.4,220.1 105.1,219.3 105.8,218.5 106.5,219.1 107.2,220.2 108,220.6 108.7,220.7 109.5,221.2 110.2,221.5 110.9,221.7 111.8,221.9 112.6,222 113.4,222.1 116.4,222.4 116.4,223.7 113.4,224 112.6,224.2 111.8,224.2 110.9,224.3 110.2,224.6 109.5,224.8 108.7,225.4 108,225.8 107.2,226.3 106.5,226.6 105.8,227 105.1,226.7 104.4,226.3 103.7,226.1 103,225.5 102.2,225.2 101.5,224.9 100.6,224.6 99.7,224.2 96,223.8Z" fill="url(#g34)"/>
<text x="5.2" y="236.2" font-size="5.8" fill="#111">Channel 5</text>
<path d="M94.8,232.6 99.7,232.2 100.6,232 101.4,231.9 102.2,231.5 103.1,230.8 104,230.3 104.7,230 105.5,229.4 106.2,229.5 107,230.1 107.8,230.6 108.7,231.2 109.5,231.5 110.2,231.9 110.9,232 111.7,232.2 112.4,232.3 113.1,232.4 113.8,232.5 114.5,232.6 115.2,232.6 115.2,233.9 114.5,234 113.8,234.1 113.1,234.2 112.4,234.3 111.7,234.4 110.9,234.5 110.2,234.7 109.5,235 108.7,235.3 107.8,236 107,236.2 106.2,236.7 105.5,237.6 104.7,237.2 104,236 103.1,235.8 102.2,234.9 101.4,234.6 100.6,234.6 99.7,234.3 94.8,233.9Z" fill="url(#g35)"/>
<text x="5.2" y="245.6" font-size="5.8" fill="#111">Channel 6</text>
<path d="M95.3,242.8 101,242.5 101.6,242.3 102.3,242.1 103,241.9 103.7,241.3 104.5,240.6 105.1,240.2 105.8,239.3 106.5,240 107.2,240.8 108,241.2 108.7,241.4 109.5,242 110.2,242.2 110.9,242.5 112.9,242.8 112.9,244.2 110.9,244.4 110.2,244.9 109.5,245 108.7,245.5 108,246 107.2,246.5 106.5,247.4 105.8,247.8 105.1,246.5 104.5,245.9 103.7,245.4 103,244.9 102.3,244.7 101.6,244.5 101,244.4 95.3,244.2Z" fill="url(#g36)"/>
<line x1="114.18" x2="115.93" y1="243.46" y2="243.46" stroke="#873ecd" stroke-width="1.5" stroke-linecap="round"/>
<line x1="117.17" x2="118.67" y1="243.46" y2="243.46" stroke="#873ecd" stroke-width="1.5" stroke-linecap="round"/>
<line x1="119.91" x2="120.66" y1="243.46" y2="243.46" stroke="#873ecd" stroke-width="1.5" stroke-linecap="round"/>
<line x1="121.66" x2="122.4" y1="243.46" y2="243.46" stroke="#873ecd" stroke-width="1.5" stroke-linecap="round"/>
<rect x="166.85" y="152" width="1.3" height="100" fill="url(#cb)"/>
<text x="170.6" y="155.41" font-size="5.5" fill="#111">High</text>
<text x="170.6" y="255.41" font-size="5.5" fill="#111">Low</text>
<text transform="translate(180.25,203) rotate(-90)" font-size="4.35" text-anchor="middle" class="sf" fill="#000">Feature value</text>
<line x1="216.23" x2="340.76" y1="203.01" y2="203.01" stroke="#e2e2e2" stroke-width="0.5"/>
<line x1="278.49" x2="278.49" y1="152.45" y2="254.07" stroke="#c0c0c0" stroke-width="0.6"/>
<line x1="216.23" x2="340.76" y1="254.07" y2="254.07" stroke="#888" stroke-width="0.6"/>
<line x1="225.44" x2="225.44" y1="254.07" y2="255.17" stroke="#aaa" stroke-width="0.5"/>
<text x="225.44" y="261.81" font-size="5.7" text-anchor="middle" fill="#111">300</text>
<text x="220.77" y="261.81" font-size="5.7" text-anchor="end" fill="#555">-</text>
<line x1="244.37" x2="244.37" y1="254.07" y2="255.17" stroke="#aaa" stroke-width="0.5"/>
<text x="244.37" y="261.81" font-size="5.7" text-anchor="middle" fill="#111">200</text>
<text x="239.7" y="261.81" font-size="5.7" text-anchor="end" fill="#555">-</text>
<line x1="263.3" x2="263.3" y1="254.07" y2="255.17" stroke="#aaa" stroke-width="0.5"/>
<text x="263.3" y="261.81" font-size="5.7" text-anchor="middle" fill="#111">100</text>
<text x="258.63" y="261.81" font-size="5.7" text-anchor="end" fill="#555">-</text>
<line x1="282.23" x2="282.23" y1="254.07" y2="255.17" stroke="#aaa" stroke-width="0.5"/>
<text x="282.23" y="261.81" font-size="5.7" text-anchor="middle" fill="#111">0</text>
<line x1="301.16" x2="301.16" y1="254.07" y2="255.17" stroke="#aaa" stroke-width="0.5"/>
<text x="301.16" y="261.81" font-size="5.7" text-anchor="middle" fill="#111">100</text>
<line x1="320.09" x2="320.09" y1="254.07" y2="255.17" stroke="#aaa" stroke-width="0.5"/>
<text x="320.09" y="261.81" font-size="5.7" text-anchor="middle" fill="#111">200</text>
<line x1="338.52" x2="338.52" y1="254.07" y2="255.17" stroke="#aaa" stroke-width="0.5"/>
<text x="338.52" y="261.81" font-size="5.7" text-anchor="middle" fill="#111">300</text>
<text x="185" y="162.92" font-size="5.4" fill="#111">Observation</text>
<path d="M225.2,161.3 239.9,161 240.6,160.9 241.4,160.9 242.2,160.9 242.9,160.9 243.7,160.8 244.4,160.9 245.2,160.7 246,160.8 246.7,160.7 247.5,160.8 248.3,160.7 249,160.7 249.8,160.5 250.5,160.7 251.3,160.6 252.1,160.6 252.8,160.3 253.6,160.4 254.3,160.4 255.1,160.2 255.8,160.3 256.5,160.2 257.2,160.1 257.9,160.1 258.7,160.3 259.4,160 260.1,160.2 260.8,159.8 261.6,159.9 262.3,159.7 263.1,159.8 263.8,159.6 264.5,159.7 265.3,159.5 266,159.7 266.8,159.2 267.5,159.1 268.3,159.4 269,159.3 269.7,158.7 270.5,158.7 271.2,158.5 271.9,158.5 272.6,158.2 273.3,158.7 274,157.9 274.8,158.3 275.5,158.3 276.3,158.7 277,159.1 277.7,159 278.5,158.9 279.2,159 279.9,158.5 280.6,158.8 281.3,158.8 282,158.6 282.7,158.5 283.3,158.8 284,159 284.7,159.5 285.4,159.5 286.1,159.3 286.8,159.3 287.5,159.6 288.2,159.6 289,159.8 289.6,159.6 290.3,159.5 290.9,158.7 291.7,158.4 292.4,158.4 293.2,157.9 294,157.8 294.8,157.3 295.6,157.5 296.4,157.4 297.2,157 298,157.3 298.9,157.6 299.7,157.2 300.5,157.4 301.3,157 302,157.3 302.7,157.7 303.4,157.6 304.1,157.8 304.9,159 305.6,159.5 306.4,159.8 307.1,160.1 307.9,160.5 308.6,160.5 309.4,160.8 310.1,160.8 310.8,160.9 311.5,161 312.2,161.1 312.9,161.2 313.6,161.3 313.6,162.6 312.9,162.6 312.2,162.7 311.5,162.8 310.8,162.9 310.1,163 309.4,163.2 308.6,163.3 307.9,163.4 307.1,163.7 306.4,163.7 305.6,164.8 304.9,165.1 304.1,166.1 303.4,166.4 302.7,166 302,166.4 301.3,165.9 300.5,166.3 299.7,166.9 298.9,166.4 298,166.5 297.2,166.2 296.4,166.2 295.6,165.7 294.8,166.5 294,165.9 293.2,166.3 292.4,165.2 291.7,165 290.9,164.8 290.3,164.4 289.6,164.4 289,164.3 288.2,164.5 287.5,164.5 286.8,164.2 286.1,164.4 285.4,164.2 284.7,164.7 284,164.4 283.3,164.5 282.7,164.8 282,165.4 281.3,165.4 280.6,164.8 279.9,165.2 279.2,164.9 278.5,164.8 277.7,164.9 277,165.2 276.3,164.8 275.5,164.9 274.8,165.7 274,165.5 273.3,165.6 272.6,165.3 271.9,165.6 271.2,165.3 270.5,164.9 269.7,165 269,164.7 268.3,164.6 267.5,164.4 266.8,164.3 266,164.7 265.3,164.5 264.5,164.5 263.8,164.3 263.1,164.2 262.3,164 261.6,164 260.8,164 260.1,163.9 259.4,163.8 258.7,163.9 257.9,163.6 257.2,163.4 256.5,163.7 255.8,163.4 255.1,163.5 254.3,163.5 253.6,163.4 252.8,163.5 252.1,163.3 251.3,163.2 250.5,163.2 249.8,163.3 249,163.1 248.3,163.2 247.5,163.3 246.7,163.2 246,163.2 245.2,163.1 244.4,163.1 243.7,163 242.9,163 242.2,163 241.4,162.9 240.6,162.9 239.9,162.9 225.2,162.6Z" fill="url(#g37)"/>
<line x1="221.46" x2="221.96" y1="161.92" y2="161.92" stroke="#046ef2" stroke-width="1.5" stroke-linecap="round"/>
<line x1="222.7" x2="223.45" y1="161.92" y2="161.92" stroke="#046ef2" stroke-width="1.5" stroke-linecap="round"/>
<path d="M275.4,162.2h0M281.6,162.9h0M282.9,161.2h0M278.7,163.7h0M282.1,160.1h0M271.8,160.9h0M285.5,163.7h0M275.6,164.3h0M275.8,161.6h0M274.9,161.3h0M285.4,161h0M280.5,163.4h0M273.3,163.4h0M274.9,163.4h0M283.4,162.2h0M285.1,161h0M282.1,161.1h0M283.1,161.2h0M281,164h0M276.1,159.7h0M280.7,163.9h0M283.3,160.9h0" stroke="#1c6bf0" stroke-width="0.9" stroke-linecap="round" fill="none" opacity="0.75"/>
<path d="M285.6,162.5h0M281.1,161.3h0M273.4,162.4h0M284.6,161.7h0M279.4,162.8h0M275.1,161.2h0M278.9,160.9h0M272.1,162.2h0M281.2,161.5h0M272.7,160.8h0M285.5,162.4h0M282.6,161.4h0M284,162.1h0M278.5,163.6h0M279.7,161.4h0M275.1,163.8h0M283.6,160.3h0M282.3,161.9h0M284.5,162.9h0M281.5,163h0M275.1,159.5h0M274.4,159.6h0" stroke="#f20b5e" stroke-width="0.9" stroke-linecap="round" fill="none" opacity="0.75"/>
<text x="185" y="172.92" font-size="5.4" fill="#111">McClear</text>
<path d="M254.1,171.4 261.6,171.1 262.2,171 262.9,170.8 263.5,170.8 264.4,170.6 265.3,170.2 266,169.4 266.8,169.1 267.5,168.3 268.2,167.2 268.9,167.9 269.5,169.1 270.3,169.6 271,170.1 271.8,170.2 272.5,170.3 273.3,170.6 274,170.6 274.7,170.7 275.5,170.8 276.2,170.6 276.9,170.7 277.7,170.6 278.4,170.5 279.1,170.5 279.8,170.6 280.6,170.7 281.3,170.7 282,170.5 282.7,170.5 283.5,170.6 284.2,170.6 285,170.4 285.7,170.5 286.5,170.4 287.2,170.6 288,170.4 288.7,170.4 289.5,170.3 290.2,170.4 290.9,170.6 291.7,170.3 292.4,170.4 293.2,170.5 293.9,170.4 294.7,170.5 295.4,170.6 296.2,170.3 296.9,170.5 297.7,170.6 298.4,170.3 299.2,170.3 299.9,170.3 300.7,170.3 301.4,170.6 302.2,170.5 303,170.6 303.7,170.4 304.5,170.4 305.2,170.6 306,170.6 306.8,170.5 307.5,170.8 308.3,170.6 309,170.8 309.8,170.5 310.6,170.8 311.3,170.7 312.1,170.7 312.9,170.6 313.6,170.7 314.3,170.8 315.1,170.8 315.8,170.8 316.5,170.9 317.3,170.8 318,170.8 318.7,171 319.5,171 320.2,171 320.9,170.9 321.7,171 322.4,171 323.1,171.1 323.9,171.1 324.6,171.1 325.3,171.1 331,171.4 331,172.8 325.3,173 324.6,173.1 323.9,173.1 323.1,173.1 322.4,173.1 321.7,173.2 320.9,173.1 320.2,173.3 319.5,173.2 318.7,173.3 318,173.3 317.3,173.4 316.5,173.3 315.8,173.3 315.1,173.3 314.3,173.5 313.6,173.4 312.9,173.5 312.1,173.5 311.3,173.4 310.6,173.6 309.8,173.5 309,173.6 308.3,173.5 307.5,173.5 306.8,173.5 306,173.7 305.2,173.7 304.5,173.8 303.7,173.7 303,173.5 302.2,173.6 301.4,173.7 300.7,173.6 299.9,173.7 299.2,173.9 298.4,173.7 297.7,173.6 296.9,173.6 296.2,173.8 295.4,173.7 294.7,173.5 293.9,173.9 293.2,173.6 292.4,173.6 291.7,173.8 290.9,173.5 290.2,173.5 289.5,173.8 288.7,173.8 288,173.8 287.2,173.7 286.5,173.6 285.7,173.6 285,173.7 284.2,173.5 283.5,173.6 282.7,173.6 282,173.7 281.3,173.6 280.6,173.6 279.8,173.7 279.1,173.7 278.4,173.7 277.7,173.4 276.9,173.5 276.2,173.5 275.5,173.5 274.7,173.4 274,173.3 273.3,173.4 272.5,173.9 271.8,173.8 271,173.9 270.3,174.5 269.5,175.4 268.9,175.6 268.2,176.1 267.5,176 266.8,174.9 266,174.4 265.3,173.8 264.4,173.8 263.5,173.5 262.9,173.4 262.2,173.2 261.6,173 254.1,172.7Z" fill="url(#g38)"/>
<line x1="332.04" x2="333.04" y1="172.08" y2="172.08" stroke="#fa0550" stroke-width="1.5" stroke-linecap="round"/>
<line x1="334.03" x2="334.78" y1="172.08" y2="172.08" stroke="#fa0550" stroke-width="1.5" stroke-linecap="round"/>
<line x1="335.53" x2="336.28" y1="172.08" y2="172.08" stroke="#fa0550" stroke-width="1.5" stroke-linecap="round"/>
<text x="185" y="183.92" font-size="5.4" fill="#111">Channel 7</text>
<path d="M255.6,181.8 266,181.5 266.8,181.4 267.5,181.4 268.2,181.2 268.9,181.4 269.7,181 270.4,181.2 271.1,181 271.8,180.9 272.5,181.1 273.3,180.8 274,181 274.7,180.5 275.4,180.5 276.1,180.4 276.8,180.5 277.6,180.5 278.3,180.4 279,179.9 279.7,179.7 280.5,179.7 281.2,179.3 282,179 282.7,178.9 283.4,178.7 284.1,178.7 284.7,178.3 285.5,178.8 286.3,178.2 287.1,178.7 288,178.8 288.7,178.6 289.5,179.6 290.2,180.1 290.9,180.7 291.7,181.1 292.4,181.3 293.2,181.3 293.9,181.5 294.7,181.6 299.2,181.8 299.2,183.2 294.7,183.5 293.9,183.6 293.2,183.8 292.4,183.9 291.7,183.9 290.9,184.8 290.2,185.1 289.5,185.8 288.7,186.2 288,187.1 287.1,187.2 286.3,187 285.5,186.8 284.7,186.1 284.1,186.4 283.4,186.1 282.7,186 282,185.4 281.2,185.9 280.5,185.1 279.7,185 279,184.9 278.3,185.2 277.6,185 276.8,184.6 276.1,184.8 275.4,184.7 274.7,184.3 274,184.2 273.3,184 272.5,184.3 271.8,183.9 271.1,184.1 270.4,184 269.7,183.8 268.9,183.8 268.2,183.8 267.5,183.6 266.8,183.7 266,183.6 255.6,183.2Z" fill="url(#g39)"/>
<line x1="300.66" x2="301.66" y1="182.54" y2="182.54" stroke="#fa0550" stroke-width="1.5" stroke-linecap="round"/>
<line x1="302.9" x2="303.9" y1="182.54" y2="182.54" stroke="#fa0550" stroke-width="1.5" stroke-linecap="round"/>
<path d="M289.9,183.7h0M282.8,184.6h0M287,180.9h0M282.6,180h0M287.5,182.8h0M286.5,186.1h0M286.9,184.4h0M278.1,180.9h0M281.9,180.7h0M280.8,183.8h0" stroke="#1c6bf0" stroke-width="0.9" stroke-linecap="round" fill="none" opacity="0.75"/>
<path d="M278.6,182h0M287.1,180h0M278.2,181.1h0M285,182.7h0M282.5,183.1h0M289.1,183.8h0M289.1,184.4h0M277.6,183.2h0M289.5,182.2h0M280.5,181.6h0M281.4,180.5h0M290,183.2h0M287.1,184.9h0M288.7,185h0M287.2,184.5h0M287.9,181.3h0M282,182.7h0M279.3,182.7h0M284.2,185.2h0M289.1,183.6h0M278.4,181.5h0M289,179.8h0M282.9,183.6h0M280.6,180.4h0M280,181.5h0M285.6,183.2h0M285,183.8h0M283.6,185.3h0M278.5,181.8h0M286.2,182.1h0M278.5,184.2h0" stroke="#f20b5e" stroke-width="0.9" stroke-linecap="round" fill="none" opacity="0.75"/>
<text x="185" y="194.32" font-size="5.4" fill="#111">Channel 1</text>
<path d="M254.3,192 268.8,191.7 269.5,191.5 270.3,191.5 271,191.4 271.8,191.4 272.5,191.5 273.3,191.2 274,191.2 274.8,191.1 275.5,191.3 276.3,190.9 277,190.7 277.7,190.7 278.5,190.6 279.2,190.2 279.8,189.8 280.5,189.6 281.2,189.4 281.9,189 282.6,189 283.3,188.8 284,188.2 284.7,188.9 285.5,188.9 286.3,188.9 287.1,188.8 287.8,189.2 289,190.1 289.8,190.2 290.6,190.4 291.4,190.8 292.2,190.8 293.2,191.4 294,191.6 294.8,191.7 295.6,191.8 296.4,192 297.2,192.1 297.2,193.4 296.4,193.5 295.6,193.6 294.8,193.8 294,193.8 293.2,194.1 292.2,194.5 291.4,194.7 290.6,195.2 289.8,195.1 289,195.2 287.8,196.4 287.1,195.9 286.3,196.4 285.5,196.5 284.7,196.5 284,196.7 283.3,196.7 282.6,196.9 281.9,196.1 281.2,196.2 280.5,196.4 279.8,196 279.2,195.8 278.5,195.4 277.7,194.7 277,194.7 276.3,194.3 275.5,194.2 274.8,194.1 274,194.2 273.3,194 272.5,194 271.8,194 271,194.1 270.3,193.8 269.5,193.7 268.8,193.8 254.3,193.4Z" fill="url(#g40)"/>
<text x="185" y="205.32" font-size="5.4" fill="#111">Channel 5</text>
<path d="M267.3,202.5 270.5,202.1 271.3,201.9 272,201.5 272.8,201.6 273.6,200.7 274.5,200 275.4,199.4 276.4,198.7 277.1,199.6 277.8,199.3 278.5,200.1 279.2,199.6 280,199.7 280.7,199.8 281.5,200 282.2,199.8 283,199.1 283.7,199.8 284.4,199.3 285.1,199.8 285.9,199.1 286.6,199.6 287.3,199.2 288,199.6 288.7,198.7 289.5,199.3 290.2,199.7 290.9,200.6 291.7,200.8 292.4,201.4 293.1,201.6 293.8,201.9 294.6,202.1 297.9,202.5 297.9,203.8 294.6,204.2 293.8,204.6 293.1,204.7 292.4,204.9 291.7,205.1 290.9,205.9 290.2,206.1 289.5,206.6 288.7,207.4 288,207.4 287.3,207.2 286.6,207 285.9,207 285.1,206.9 284.4,206.9 283.7,206.4 283,206.8 282.2,206.4 281.5,206.7 280.7,206.4 280,206.1 279.2,206.3 278.5,206.4 277.8,206.5 277.1,206.6 276.4,207.2 275.4,206.3 274.5,206.4 273.6,205.5 272.8,204.7 272,204.7 271.3,204.4 270.5,204.2 267.3,203.8Z" fill="url(#g41)"/>
<path d="M283.2,205.7h0M280.8,203h0M280.6,205.8h0M280.8,205.6h0M279.4,202.5h0M284,201h0M280.1,205.6h0M280.2,203.3h0M285.2,200.5h0M280.4,203.6h0M285,205.9h0M285.6,202.6h0M285.4,200.7h0" stroke="#1c6bf0" stroke-width="0.9" stroke-linecap="round" fill="none" opacity="0.75"/>
<path d="M283.8,200.3h0M285.6,203.1h0M283.4,201.5h0M282,202.3h0M284.8,200.1h0M281,202.9h0M282,205.3h0M281.2,202h0M285.1,202.7h0" stroke="#f20b5e" stroke-width="0.9" stroke-linecap="round" fill="none" opacity="0.75"/>
<text x="185" y="216.32" font-size="5.4" fill="#111">Channel 2</text>
<path d="M259.6,212.5 278.5,212.4 279.2,211.9 280,211.6 280.7,211.4 281.5,210.6 282.5,209.4 283.3,208.3 284.5,210.3 285.1,210.3 285.8,210.7 286.5,211.4 287.2,211.6 288,212.2 288.8,212.4 289.7,212.7 289.7,214 288.8,214.3 288,214.7 287.2,215.1 286.5,215.4 285.8,215.7 285.1,216.1 284.5,217.1 283.3,217.6 282.5,217.4 281.5,216.1 280.7,215.4 280,215 279.2,214.8 278.5,214.3 259.6,214.2Z" fill="url(#g42)"/>
<text x="185" y="226.32" font-size="5.4" fill="#111">Channel 4</text>
<path d="M267.5,222.9 272.3,222.6 272.9,222.5 273.6,222.3 274.2,222.2 274.9,222.3 275.7,221.9 276.5,221.7 277.2,221.4 277.9,221.5 278.6,221 279.2,221.1 280,220.4 280.7,220.2 281.5,220 282.4,219.9 283.3,219.3 284.2,220 285,220.2 285.6,220.8 286.2,220.6 286.8,221.4 287.5,221.9 288.1,222.2 288.7,222.5 293.1,222.9 293.1,224.2 288.7,224.6 288.1,224.8 287.5,225.1 286.8,225.8 286.2,226.3 285.6,226.7 285,226.9 284.2,227.2 283.3,227.8 282.4,227.3 281.5,227.2 280.7,226.6 280,226.2 279.2,226.3 278.6,225.7 277.9,225.6 277.2,225.6 276.5,225.2 275.7,225.2 274.9,224.9 274.2,224.9 273.6,224.7 272.9,224.6 272.3,224.5 267.5,224.2Z" fill="url(#g43)"/>
<text x="185" y="236.92" font-size="5.4" fill="#111">Channel 3</text>
<path d="M270.3,233 274.3,232.6 275,232.4 275.7,232.3 276.4,231.9 277.3,231.4 278.2,230.9 279.1,230.7 280,230.2 280.7,229.6 281.4,229.4 282.2,229.5 282.9,229.9 283.6,229.4 284.4,230.3 285.1,230.4 285.8,230.7 286.6,231.1 287.5,231.3 288.1,232.1 288.7,232.2 289.5,232.5 290.3,232.6 291.1,232.7 291.9,232.9 292.6,233 293.4,233 293.4,234.3 292.6,234.4 291.9,234.5 291.1,234.7 290.3,234.8 289.5,234.9 288.7,235 288.1,235.7 287.5,235.6 286.6,236.6 285.8,236.9 285.1,237.5 284.4,237.1 283.6,237.5 282.9,238 282.2,237.5 281.4,238.1 280.7,237.6 280,237.2 279.1,237.1 278.2,236.7 277.3,236 276.4,235.5 275.7,235.3 275,234.9 274.3,234.8 270.3,234.3Z" fill="url(#g44)"/>
<path d="M282,232.1h0M278.5,232.2h0M283.3,235h0M284.8,235.1h0M282.8,230.6h0M278.6,234.1h0M282.8,231.2h0M279.9,232.3h0M282.5,235.2h0M284.2,232h0M285.8,232.1h0M283.7,232.1h0M278.2,234.2h0M278.2,233.8h0M279.5,231.6h0M282.5,235.6h0M278.4,233.2h0M280,234.7h0" stroke="#1c6bf0" stroke-width="0.9" stroke-linecap="round" fill="none" opacity="0.75"/>
<path d="M282.2,231.6h0M284,233h0M279.8,235.4h0M284.1,235.6h0M279.8,231.4h0M283,231h0M283.5,235h0M279.8,235.3h0M284.2,236.6h0M280.5,232.6h0M286.1,235.6h0M282.4,232.8h0" stroke="#f20b5e" stroke-width="0.9" stroke-linecap="round" fill="none" opacity="0.75"/>
<text x="185" y="246.32" font-size="5.4" fill="#111">Channel 6</text>
<path d="M273.2,243.5 276.3,243.1 277,242.9 277.7,242.4 278.5,241.9 279.2,240.9 280,240.5 280.7,239.9 281.5,240.4 282.2,240.1 282.9,241 283.6,240.7 284.4,241.6 285.2,241.6 285.8,242.3 286.5,242.6 287.1,242.9 287.8,242.9 288.5,243.2 291.7,243.5 291.7,244.8 288.5,245.1 287.8,245.3 287.1,245.6 286.5,246.1 285.8,246.2 285.2,246.6 284.4,247.3 283.6,247.4 282.9,247.7 282.2,248.2 281.5,247.7 280.7,248.6 280,247.4 279.2,247.4 278.5,246.5 277.7,246 277,245.6 276.3,245.3 273.2,244.8Z" fill="url(#g45)"/>
<path d="M279.2,242.2h0M281.8,246.3h0M279.6,245.6h0M280.6,241.6h0M284.5,242.5h0M283.1,242.1h0M280.6,242.5h0M281.4,247.4h0M283.8,243.2h0M283.1,243.3h0M280.1,243.4h0M280.7,243.3h0" stroke="#1c6bf0" stroke-width="0.9" stroke-linecap="round" fill="none" opacity="0.75"/>
<path d="M283.1,246.4h0M281.4,247.1h0M280.3,244h0M284.5,242.4h0M281.1,246.3h0M282.1,241.2h0M282.3,246.5h0M280.5,246.5h0" stroke="#f20b5e" stroke-width="0.9" stroke-linecap="round" fill="none" opacity="0.75"/>
<rect x="349.35" y="152.6" width="1.3" height="99.7" fill="url(#cb)"/>
<text x="352.8" y="154.91" font-size="5.15" fill="#111">High</text>
<text x="352.8" y="255.51" font-size="5.15" fill="#111">Low</text>
<text transform="translate(363.75,203) rotate(-90)" font-size="4.35" text-anchor="middle" class="sf" fill="#000">Feature value</text>
<line x1="403.46" x2="523.76" y1="203.01" y2="203.01" stroke="#e2e2e2" stroke-width="0.5"/>
<line x1="463.49" x2="463.49" y1="151.96" y2="253.57" stroke="#c0c0c0" stroke-width="0.6"/>
<line x1="403.46" x2="523.76" y1="253.57" y2="253.57" stroke="#888" stroke-width="0.6"/>
<line x1="411.18" x2="411.18" y1="253.57" y2="254.67" stroke="#aaa" stroke-width="0.5"/>
<text x="411.18" y="261.31" font-size="5.7" text-anchor="middle" fill="#111">200</text>
<text x="406.51" y="261.31" font-size="5.7" text-anchor="end" fill="#555">-</text>
<line x1="425.38" x2="425.38" y1="253.57" y2="254.67" stroke="#aaa" stroke-width="0.5"/>
<text x="425.38" y="261.31" font-size="5.7" text-anchor="middle" fill="#111">150</text>
<text x="420.7" y="261.31" font-size="5.7" text-anchor="end" fill="#555">-</text>
<line x1="438.58" x2="438.58" y1="253.57" y2="254.67" stroke="#aaa" stroke-width="0.5"/>
<text x="438.58" y="261.31" font-size="5.7" text-anchor="middle" fill="#111">100</text>
<text x="433.9" y="261.31" font-size="5.7" text-anchor="end" fill="#555">-</text>
<line x1="451.03" x2="451.03" y1="253.57" y2="254.67" stroke="#aaa" stroke-width="0.5"/>
<text x="451.03" y="261.31" font-size="5.7" text-anchor="middle" fill="#111">50</text>
<text x="447.78" y="261.31" font-size="5.7" text-anchor="end" fill="#555">-</text>
<line x1="463.73" x2="463.73" y1="253.57" y2="254.67" stroke="#aaa" stroke-width="0.5"/>
<text x="463.73" y="261.31" font-size="5.7" text-anchor="middle" fill="#111">0</text>
<line x1="476.94" x2="476.94" y1="253.57" y2="254.67" stroke="#aaa" stroke-width="0.5"/>
<text x="476.94" y="261.31" font-size="5.7" text-anchor="middle" fill="#111">50</text>
<line x1="490.88" x2="490.88" y1="253.57" y2="254.67" stroke="#aaa" stroke-width="0.5"/>
<text x="490.88" y="261.31" font-size="5.7" text-anchor="middle" fill="#111">150</text>
<line x1="504.83" x2="504.83" y1="253.57" y2="254.67" stroke="#aaa" stroke-width="0.5"/>
<text x="504.83" y="261.31" font-size="5.7" text-anchor="middle" fill="#111">200</text>
<line x1="517.53" x2="517.53" y1="253.57" y2="254.67" stroke="#aaa" stroke-width="0.5"/>
<text x="517.53" y="261.31" font-size="5.7" text-anchor="middle" fill="#111">250</text>
<text x="367.6" y="163.94" font-size="5.45" fill="#111">Observation</text>
<path d="M409.2,161.5 419.7,161.4 420.4,161.3 421.1,161.3 421.8,161.3 422.5,161.2 423.3,161.2 424,161.1 424.7,161.1 425.4,161.1 426.2,161.1 426.9,160.9 427.6,161 428.3,160.8 429,160.8 429.8,160.7 430.5,160.7 431.2,160.6 431.9,160.7 432.7,160.5 433.4,160.5 434.1,160.4 434.8,160.3 435.5,160.4 436.3,160.6 437,160.3 437.7,160.3 438.4,160.1 439.2,160.3 439.9,160.2 440.6,160.1 441.3,159.8 442,160.1 442.8,159.6 443.5,159.7 444.2,159.4 444.9,159.6 445.7,159.2 446.4,159.1 447.1,159.4 447.8,159.1 448.5,159 449.4,158.9 450.2,158.8 451,158.4 451.7,158.4 452.4,157.6 453,158.3 453.7,158.6 454.4,158.4 455,158.6 455.8,158.8 456.6,158.9 457.4,159.3 458.1,158.9 458.8,158.9 459.6,159.3 460.3,159.1 461,159.5 461.8,159.4 462.5,159.6 463.2,159.4 464,159.6 464.7,159 465.4,159.1 466.1,159 466.8,159 467.6,159.3 468.3,159.4 469,159.1 469.7,158.8 470.5,159.1 471.2,159 471.9,159 472.6,159.2 473.3,159.3 474.1,159.2 474.8,159.1 475.5,159.5 476.2,159 477,159.3 477.7,159.1 478.4,159.1 479.1,159.4 479.8,159.1 480.6,159.1 481.3,159.4 482,159 482.7,159 483.4,159.6 484.2,159.2 484.9,159.6 485.6,159.3 486.3,159.5 487,159.6 487.8,159.7 488.5,159.4 489.2,159.7 489.9,159.7 490.7,159.6 491.4,159.7 492.1,159.6 492.8,159.6 493.5,159.6 494.2,159.5 495,159.8 495.7,159.5 496.4,159.7 497.1,159.7 497.9,159.8 498.6,160.3 499.4,160.3 500.1,160.4 500.8,160.7 501.6,160.6 502.3,160.9 503.1,161 503.8,161.1 506.2,161.5 506.2,162.8 503.8,163.3 503.1,163.4 502.3,163.5 501.6,163.6 500.8,163.8 500.1,164 499.4,163.9 498.6,164.5 497.9,164.4 497.1,164.6 496.4,164.6 495.7,165 495,164.5 494.2,164.6 493.5,164.6 492.8,165.1 492.1,165.2 491.4,164.9 490.7,164.9 489.9,164.7 489.2,164.7 488.5,164.8 487.8,164.9 487,164.8 486.3,165.1 485.6,165.3 484.9,165 484.2,165.1 483.4,164.7 482.7,165 482,164.8 481.3,165.4 480.6,165.3 479.8,165.4 479.1,165.3 478.4,165.5 477.7,165 477,165.1 476.2,165.5 475.5,165.2 474.8,165 474.1,165.3 473.3,165.1 472.6,165.4 471.9,165.5 471.2,165 470.5,165.6 469.7,165.6 469,165.5 468.3,164.9 467.6,165.5 466.8,165.4 466.1,165.2 465.4,164.9 464.7,165.1 464,165.4 463.2,165.1 462.5,165.1 461.8,165.2 461,165 460.3,165.4 459.6,165.1 458.8,165.6 458.1,165 457.4,165.5 456.6,165.2 455.8,165.9 455,165.5 454.4,166.3 453.7,166.4 453,166.9 452.4,166.5 451.7,165.9 451,165.6 450.2,166 449.4,165.5 448.5,165.6 447.8,164.9 447.1,165.4 446.4,165.2 445.7,164.9 444.9,165 444.2,165.1 443.5,164.6 442.8,164.4 442,164.3 441.3,164.3 440.6,164.1 439.9,164.1 439.2,164.2 438.4,164.4 437.7,164.3 437,164.1 436.3,164.2 435.5,164 434.8,164 434.1,163.7 433.4,163.9 432.7,163.7 431.9,163.6 431.2,163.5 430.5,163.6 429.8,163.5 429,163.6 428.3,163.6 427.6,163.5 426.9,163.5 426.2,163.4 425.4,163.4 424.7,163.3 424,163.2 423.3,163.2 422.5,163.2 421.8,163.1 421.1,163.1 420.4,163.1 419.7,163 409.2,162.8Z" fill="url(#g46)"/>
<path d="M463,164.2h0M460.4,163h0M464.1,160.1h0M458.4,162.2h0M463.9,161.1h0M459.5,161.1h0M450.2,160.5h0M464.2,160.6h0M459.7,164.2h0M466.4,161.9h0M463.2,163.8h0M460.5,164.4h0M450.8,160h0M462.5,162.8h0M461.8,164.3h0M467.6,163.2h0M453,159.8h0M462,160.1h0M464,162.5h0M465.6,162.7h0M466.2,162.5h0M455.5,161.5h0M455.5,163.6h0M451.6,160.8h0" stroke="#1c6bf0" stroke-width="0.9" stroke-linecap="round" fill="none" opacity="0.75"/>
<path d="M456.3,164h0M466.7,162.4h0M453.1,159.5h0M465.8,161.5h0M466.5,162.8h0M455.8,161.6h0M456.7,161.5h0M464.5,160.7h0M450.8,160.8h0M462.7,164h0M451.5,164.5h0M452.7,160h0M467.3,161.9h0M454.3,160.5h0M463,160.2h0M456.9,164.4h0M452.9,161.4h0M449.9,163.8h0M459,159.8h0M457.2,163h0M462.8,161.8h0M466.9,164.2h0M466,163.5h0M464.5,164.4h0M460.7,160.6h0M458.6,161.1h0M451.3,164.8h0M452.5,163.9h0M466.1,162.6h0M466.5,160.3h0" stroke="#f20b5e" stroke-width="0.9" stroke-linecap="round" fill="none" opacity="0.75"/>
<text x="367.6" y="173.54" font-size="5.45" fill="#111">McClear</text>
<path d="M439.1,171.7 447,171.3 447.8,171 448.5,170.8 449.3,170.6 450,170.6 450.7,169.7 451.3,169.1 452,168.8 452.7,167.6 453.4,168.8 454,169.2 454.6,170 455.3,170.5 456,170.6 456.6,170.6 457.3,170.8 458,170.9 458.7,170.9 459.5,171 460.2,171.1 460.9,171.1 461.7,171.1 462.4,170.8 463.1,171 463.9,170.9 464.6,171 465.3,171 466.1,170.8 466.8,171 467.5,171 468.3,170.8 469,170.8 469.7,170.8 470.5,170.7 471.2,170.7 472,170.9 472.7,170.8 473.5,171 474.3,170.8 475,170.8 475.8,170.9 476.5,170.8 477.3,171.1 478.1,170.9 478.8,171.1 479.6,171 480.4,171 481.1,171 481.9,171 482.6,170.9 483.4,170.9 484.2,171.1 484.9,170.9 485.7,171 486.4,171.2 487.2,171.2 488,171 488.7,171 489.5,171.2 490.2,171.1 491,171.1 491.8,171.2 492.5,171.2 493.3,171.3 494,171.3 494.8,171.2 495.6,171.2 496.3,171.2 497.1,171.2 497.8,171.3 498.6,171.3 510.3,171.6 519,171.7 519,173 510.3,173.2 498.6,173.5 497.8,173.5 497.1,173.6 496.3,173.5 495.6,173.4 494.8,173.5 494,173.4 493.3,173.7 492.5,173.7 491.8,173.6 491,173.7 490.2,173.6 489.5,173.8 488.7,173.7 488,173.7 487.2,173.6 486.4,173.6 485.7,173.7 484.9,173.7 484.2,173.8 483.4,173.9 482.6,173.7 481.9,173.7 481.1,173.9 480.4,173.7 479.6,173.8 478.8,173.7 478.1,173.8 477.3,173.9 476.5,174 475.8,173.9 475,173.7 474.3,173.9 473.5,174 472.7,173.8 472,173.9 471.2,174 470.5,173.9 469.7,173.8 469,173.8 468.3,173.8 467.5,173.7 466.8,173.8 466.1,173.7 465.3,173.7 464.6,174 463.9,173.9 463.1,173.8 462.4,173.6 461.7,173.9 460.9,173.8 460.2,173.9 459.5,173.7 458.7,173.6 458,173.8 457.3,173.7 456.6,173.9 456,174 455.3,174.5 454.6,175 454,175.5 453.4,176.1 452.7,177.2 452,176.5 451.3,175.4 450.7,174.8 450,174.3 449.3,174.2 448.5,173.8 447.8,173.7 447,173.5 439.1,173Z" fill="url(#g47)"/>
<line x1="432.1" x2="432.85" y1="172.38" y2="172.38" stroke="#d02296" stroke-width="1.5" stroke-linecap="round"/>
<line x1="434.59" x2="435.34" y1="172.38" y2="172.38" stroke="#d02296" stroke-width="1.5" stroke-linecap="round"/>
<text x="367.6" y="184.34" font-size="5.45" fill="#111">Channel 7</text>
<path d="M431.1,182.2 431.8,182.2 432.6,182.2 433.3,182.1 434,182.1 434.8,182 435.5,182 436.2,182 436.9,181.9 437.7,181.9 438.4,181.8 439.1,181.8 439.9,181.6 440.6,181.6 441.3,181.8 442.1,181.5 442.8,181.5 443.6,181.5 444.4,181.5 445.1,181.6 445.9,181.5 446.6,181.5 447.4,181.4 448.2,181.3 448.9,181.1 449.7,181.1 450.4,181 451.2,181.3 452,181.2 452.7,181.1 453.5,180.8 454.2,180.8 455,180.9 455.8,180.8 456.5,180.9 457.2,181 458,181 458.7,180.8 459.4,181 460.1,180.7 460.9,180.8 461.6,181 462.3,180.7 463.1,180.6 463.8,180.5 464.5,180.9 465.2,180.7 466,180.5 466.7,180.4 467.5,180.4 468.2,180 469,180.4 469.7,180.2 470.5,180 471.2,179.4 472,178.9 472.6,178.9 473.3,178.5 474,178.3 474.7,179.2 475.4,179.8 476,179.5 476.7,180.3 477.4,180.5 478.2,180.4 478.9,180.3 479.7,180.6 480.4,180.7 481.2,180.8 481.9,180.8 482.6,181.2 483.3,181.3 484,181.2 484.7,181.5 485.4,181.5 486.2,181.7 486.9,181.8 487.6,181.9 488.4,182 489.1,182.1 489.9,182.2 489.9,183.5 489.1,183.5 488.4,183.7 487.6,183.8 486.9,183.9 486.2,184.1 485.4,184.1 484.7,184.2 484,184.5 483.3,184.3 482.6,184.5 481.9,184.5 481.2,184.6 480.4,184.9 479.7,184.9 478.9,185.3 478.2,185.1 477.4,185.5 476.7,185.7 476,186.1 475.4,185.9 474.7,186.2 474,187.2 473.3,187.2 472.6,186.7 472,187.2 471.2,186.2 470.5,186.1 469.7,185.6 469,185.3 468.2,185.5 467.5,185.3 466.7,185.4 466,184.9 465.2,185 464.5,185 463.8,184.9 463.1,184.9 462.3,184.8 461.6,184.7 460.9,185 460.1,184.9 459.4,184.9 458.7,185 458,184.7 457.2,184.7 456.5,185 455.8,184.8 455,184.6 454.2,184.8 453.5,184.9 452.7,184.7 452,184.4 451.2,184.6 450.4,184.7 449.7,184.3 448.9,184.4 448.2,184.3 447.4,184.5 446.6,184.5 445.9,184.4 445.1,184.1 444.4,184.3 443.6,184.3 442.8,184 442.1,184 441.3,184 440.6,183.9 439.9,184 439.1,183.9 438.4,183.9 437.7,183.8 436.9,183.8 436.2,183.7 435.5,183.7 434.8,183.6 434,183.6 433.3,183.5 432.6,183.5 431.8,183.5 431.1,183.5Z" fill="url(#g48)"/>
<path d="M448.6,182h0M437.5,182.8h0M440.6,183.1h0M461.5,182.8h0M435.6,183.1h0M437.9,182.6h0M453.7,183.5h0M443.4,183.7h0M434.2,182.4h0M463.2,183.3h0M463.4,183.6h0M446.9,183.2h0M453.1,182h0M450.3,182.4h0M451.3,183.1h0M443.4,182.8h0M448.2,183.2h0M442.5,183.6h0M446.7,182.4h0M457.9,183.8h0M458.7,181.9h0M446.1,182.4h0M459.5,183.6h0M442,183.3h0M443.3,182h0M435.2,183.3h0M441.8,182.6h0M460.8,183.6h0M446.5,182.3h0M463.3,182.6h0M444.7,183.8h0M464,182.6h0" stroke="#1c6bf0" stroke-width="0.9" stroke-linecap="round" fill="none" opacity="0.75"/>
<path d="M452.4,184.1h0M461.3,182.2h0M450.4,181.9h0M457.5,183.1h0M457.5,182.4h0M435.5,182.7h0M467.6,182.1h0M460.5,184h0M466.7,183.4h0M452,182.2h0M457.8,183.7h0M456.8,183.2h0M456.6,184.2h0M458,184.1h0M439.4,182.5h0M462.8,182.3h0" stroke="#f20b5e" stroke-width="0.9" stroke-linecap="round" fill="none" opacity="0.75"/>
<path d="M474.5,182.1h0M472.9,181.1h0M471.1,182.2h0M472.7,181.6h0M469.8,184.5h0M472.8,182h0M468.2,182.4h0M471.6,185.8h0M471.7,181.1h0" stroke="#1c6bf0" stroke-width="0.9" stroke-linecap="round" fill="none" opacity="0.75"/>
<path d="M475.6,182.5h0M471,184.3h0M473.6,183.7h0M467.9,183.5h0M470.3,181.4h0M475.6,181.4h0M470.6,183.6h0M472.2,180.4h0M470.4,182.4h0M475.6,180.8h0M474.7,184.7h0M474.5,182.7h0M473.2,184.9h0M472.5,182.1h0M468.6,181.8h0M468.5,181.2h0M471.5,182.9h0M473.8,182.9h0M469.2,182.9h0" stroke="#f20b5e" stroke-width="0.9" stroke-linecap="round" fill="none" opacity="0.75"/>
<text x="367.6" y="193.94" font-size="5.45" fill="#111">Channel 5</text>
<path d="M442.1,192.1 442.9,192 443.7,191.8 444.5,191.7 445.3,191.6 446.2,191.4 447.2,191.1 447.9,190.6 448.6,190.5 449.3,189.7 450,190.1 450.8,189.5 451.5,189.5 452.3,189.4 453,188.7 453.7,189.1 454.5,188.8 455.2,188.9 455.9,189 456.6,188.8 457.3,189 458.1,189.4 458.8,188.6 459.5,188.9 460.2,189.3 461,189.8 461.7,189.6 462.5,189.9 463.2,190.1 463.9,190.3 464.6,190.3 465.3,190.4 466,190.6 466.7,190.4 467.5,190.4 468.2,190.4 469,190.5 469.7,190.4 470.4,190.4 471.1,190 471.8,190.1 472.5,190 473.2,189.7 473.9,189.8 474.7,189.7 475.4,189.7 476.1,190.2 476.8,190 477.6,189.8 478.3,189.7 479,189.6 479.7,190.2 480.4,190.2 481.2,189.8 481.9,190.3 482.6,190.4 483.4,190.2 484.1,190.4 484.8,190.6 485.7,191 486.6,191.5 487.3,191.7 488,191.9 488.6,192.1 488.6,193.4 488,193.5 487.3,193.7 486.6,193.9 485.7,194.4 484.8,194.6 484.1,194.8 483.4,195.2 482.6,195.4 481.9,195.2 481.2,195.3 480.4,195.3 479.7,195.4 479,195.4 478.3,195.3 477.6,195.6 476.8,195.8 476.1,195.8 475.4,195.6 474.7,195.3 473.9,195.4 473.2,195.8 472.5,195.1 471.8,195.1 471.1,195.4 470.4,195.1 469.7,195.2 469,195.1 468.2,194.8 467.5,195.1 466.7,195 466,194.9 465.3,195.1 464.6,194.9 463.9,195.1 463.2,195 462.5,195.2 461.7,195.5 461,196.1 460.2,195.9 459.5,196.4 458.8,196.6 458.1,196.3 457.3,196.8 456.6,197 455.9,197 455.2,196.5 454.5,196.7 453.7,196.1 453,196.2 452.3,196.1 451.5,196.4 450.8,195.8 450,195.8 449.3,195.3 448.6,194.9 447.9,194.8 447.2,194.4 446.2,194.3 445.3,194 444.5,193.8 443.7,193.6 442.9,193.5 442.1,193.4Z" fill="url(#g49)"/>
<text x="367.6" y="204.94" font-size="5.45" fill="#111">Channel 4</text>
<path d="M440.3,202.3 451.3,201.9 452,201.9 452.7,201.7 453.4,201.5 454.1,201.4 454.9,201.3 455.6,201.4 456.3,201.3 457,200.9 457.8,200.7 458.5,200.8 459.3,200.1 460,200.1 460.7,200.3 461.6,199.3 462.5,199.2 463.2,198.9 464,198.3 464.9,198.9 465.7,198.9 466.5,199.5 467.2,200 468,200 468.7,200.4 469.4,200.2 470.1,200.5 470.8,200.8 471.5,201 472.2,201 473,201.1 473.7,201.2 474.4,201.3 475.2,201.4 475.9,201.6 476.7,201.8 477.4,201.7 478.1,202 478.8,202 479.6,202 480.3,202.1 481,202.2 481.7,202.2 482.5,202.3 483.2,202.4 483.9,202.4 483.9,203.7 483.2,203.7 482.5,203.7 481.7,203.8 481,203.9 480.3,203.9 479.6,204 478.8,204.1 478.1,204.1 477.4,204.1 476.7,204.3 475.9,204.4 475.2,204.6 474.4,204.6 473.7,204.6 473,205 472.2,205.3 471.5,205.4 470.8,205.4 470.1,205.7 469.4,205.8 468.7,205.8 468,206.4 467.2,206.5 466.5,206.8 465.7,206.7 464.9,206.8 464,207.5 463.2,207.5 462.5,206.7 461.6,206.9 460.7,206.3 460,205.9 459.3,205.6 458.5,205.3 457.8,205.1 457,204.8 456.3,205 455.6,204.9 454.9,204.6 454.1,204.5 453.4,204.3 452.7,204.3 452,204.3 451.3,204.1 440.3,203.7Z" fill="url(#g50)"/>
<text x="367.6" y="215.54" font-size="5.45" fill="#111">Channel 3</text>
<path d="M443.1,212.6 452.5,212.1 453.3,211.9 454,211.8 454.8,211.6 455.5,211.5 456.3,211.3 457,210.9 457.8,210.5 458.5,210.4 459.2,209.9 459.9,209 460.6,209.3 461.3,209.2 462.1,209.4 462.8,209.6 463.5,209.9 464.2,210.2 465,209.8 465.7,209.9 466.5,210.3 467.2,209.8 467.9,210.3 468.6,210.3 469.3,210.1 470,210.2 470.8,210.2 471.5,209.9 472.2,210.5 473,210.5 473.7,210.5 474.4,210.5 475.2,211.2 475.9,211.2 476.7,211.4 477.4,211.8 478.2,211.8 478.9,212 479.6,212.2 480.2,212.4 480.9,212.6 480.9,213.9 480.2,214 479.6,214.2 478.9,214.4 478.2,214.6 477.4,215 476.7,214.9 475.9,215.4 475.2,215.6 474.4,215.4 473.7,216 473,215.7 472.2,215.8 471.5,216 470.8,216.5 470,216.3 469.3,216.1 468.6,216 467.9,216 467.2,216 466.5,216.6 465.7,216.6 465,216.2 464.2,216.7 463.5,216.6 462.8,216.8 462.1,216.6 461.3,216.8 460.6,216.8 459.9,217.3 459.2,216.4 458.5,216.7 457.8,216.1 457,215.4 456.3,215.2 455.5,215.1 454.8,214.7 454,214.8 453.3,214.4 452.5,214.3 443.1,213.9Z" fill="url(#g51)"/>
<path d="M467.1,213.1h0M462.3,215.5h0M465.2,213.5h0M467.4,211.1h0M467.6,215.6h0M463,211.2h0M465.7,214.4h0M458,212.9h0M464.5,212.3h0M459.1,214.5h0M461.9,211.3h0M463.4,212.7h0M462.1,212.8h0M460.9,210.8h0M462.8,215.3h0M462.7,214.7h0M459.5,213.3h0M468.3,215.2h0M464,212.8h0M462.7,215.5h0M464.3,214.3h0M468.1,211.3h0M465.8,210.7h0M459.2,213h0M459.5,211.5h0M458.8,211.6h0" stroke="#1c6bf0" stroke-width="0.9" stroke-linecap="round" fill="none" opacity="0.75"/>
<path d="M464.2,211.8h0M464.8,213.9h0M465,214h0M465.3,212.1h0M461.2,213.5h0M468.3,210.8h0M463.6,212.1h0M468.6,212.3h0M467.1,212.7h0" stroke="#f20b5e" stroke-width="0.9" stroke-linecap="round" fill="none" opacity="0.75"/>
<text x="367.6" y="225.34" font-size="5.45" fill="#111">Channel 1</text>
<path d="M442.1,222.7 454,222.3 454.8,222.3 455.5,222.1 456.2,222.1 457,222 457.7,221.9 458.4,221.7 459.2,221.4 459.9,221.6 460.8,221 461.6,220.8 462.5,220.5 463.5,219.7 464.6,219.1 465.1,219.1 465.7,219.4 466.5,220.4 467.2,220.6 467.9,220.7 468.7,221.2 469.4,221.6 470.1,221.6 470.8,221.7 471.5,221.8 472.3,222.1 473,222.1 473.7,222.2 474.4,222.3 478.4,222.7 478.4,224 474.4,224.5 473.7,224.4 473,224.7 472.3,224.9 471.5,224.9 470.8,224.9 470.1,225.2 469.4,225.5 468.7,225.8 467.9,225.8 467.2,226.2 466.5,226.3 465.7,227.1 465.1,227.1 464.6,227.7 463.5,227.4 462.5,226.5 461.6,226.1 460.8,225.8 459.9,225.4 459.2,225.1 458.4,225.2 457.7,225.2 457,225 456.2,224.9 455.5,224.6 454.8,224.6 454,224.5 442.1,224.1Z" fill="url(#g52)"/>
<text x="367.6" y="234.54" font-size="5.45" fill="#111">Channel 6</text>
<path d="M451.2,232.6 455.3,232.2 456.1,231.9 456.9,231.9 457.8,231.7 458.5,231.1 459.3,230.7 460,230.4 460.7,229.8 461.4,229.9 462.1,229.4 462.9,229.7 463.7,229.8 464.4,230.1 465,230.1 465.7,229.5 466.5,229.3 467,229.5 467.6,229.5 468.4,229.6 469.2,230.1 470,230.9 470.8,231.1 471.6,231.4 472.3,231.4 473,231.7 473.7,232.1 474.4,232.2 477.4,232.6 477.4,233.9 474.4,234.3 473.7,234.6 473,234.7 472.3,235.2 471.6,235.4 470.8,235.4 470,236 469.2,236.5 468.4,237.1 467.6,237.5 467,237.4 466.5,237.4 465.7,237.1 465,236.2 464.4,236.5 463.7,236.7 462.9,237.1 462.1,237.2 461.4,237.3 460.7,236.2 460,236.3 459.3,235.5 458.5,235.2 457.8,234.9 456.9,234.8 456.1,234.4 455.3,234.3 451.2,233.9Z" fill="url(#g53)"/>
<line x1="480.67" x2="481.42" y1="233.28" y2="233.28" stroke="#fa0550" stroke-width="1.5" stroke-linecap="round"/>
<path d="M460.6,232.4h0M460.2,234.3h0M461.3,231.9h0M459.1,233h0M459.1,234.6h0M459,235h0M460.9,230.7h0M464.3,233.7h0M459.9,234.9h0M463.1,235.1h0M463,231.9h0M460.4,234.3h0M461.4,235.8h0M459.8,232.5h0M462.5,234.9h0" stroke="#1c6bf0" stroke-width="0.9" stroke-linecap="round" fill="none" opacity="0.75"/>
<path d="M465.3,232.4h0M460.8,232.1h0M461.8,236.3h0M464.3,234.9h0M464.8,233.9h0M465.9,235h0M466,234.1h0M466,234.8h0" stroke="#f20b5e" stroke-width="0.9" stroke-linecap="round" fill="none" opacity="0.75"/>
<text x="367.6" y="245.54" font-size="5.45" fill="#111">Channel 2</text>
<path d="M439.3,243.1 460.7,242.9 461.5,242.8 462.2,242.3 462.9,242 463.5,241.8 464.1,241.2 464.7,240.3 465.4,240.2 466.2,239.5 466.8,239.9 467.5,241.2 468.1,241.7 468.6,242 469.3,242.2 470,242.3 470.8,242.8 471.5,242.9 475.6,243.2 475.6,244.5 471.5,244.8 470.8,245 470,245.4 469.3,245.7 468.6,246 468.1,246.3 467.5,246.8 466.8,247.2 466.2,247.8 465.4,247.9 464.7,247.5 464.1,246.5 463.5,245.9 462.9,245.9 462.2,245.2 461.5,245.1 460.7,244.8 439.3,244.7Z" fill="url(#g54)"/>
<line x1="435.59" x2="436.34" y1="243.89" y2="243.89" stroke="#fa0550" stroke-width="1.5" stroke-linecap="round"/>
<line x1="437.08" x2="437.83" y1="243.89" y2="243.89" stroke="#fa0550" stroke-width="1.5" stroke-linecap="round"/>
<rect x="530.35" y="152.3" width="1.3" height="101.1" fill="url(#cb)"/>
<text x="533.7" y="155.71" font-size="5.15" fill="#111">High</text>
<text x="533.7" y="256.71" font-size="5.15" fill="#111">Low</text>
<text transform="translate(544.75,203.6) rotate(-90)" font-size="4.35" text-anchor="middle" class="sf" fill="#000">Feature value</text>
<line x1="40.46" x2="159.51" y1="330.76" y2="330.76" stroke="#e2e2e2" stroke-width="0.5"/>
<line x1="99.74" x2="99.74" y1="279.96" y2="381.57" stroke="#c0c0c0" stroke-width="0.6"/>
<line x1="40.46" x2="159.51" y1="381.57" y2="381.57" stroke="#888" stroke-width="0.6"/>
<line x1="45.57" x2="45.57" y1="381.57" y2="382.67" stroke="#aaa" stroke-width="0.5"/>
<text x="45.57" y="388.32" font-size="5.7" text-anchor="middle" fill="#111">300</text>
<text x="40.89" y="388.32" font-size="5.7" text-anchor="end" fill="#555">-</text>
<line x1="66.36" x2="66.36" y1="381.57" y2="382.67" stroke="#aaa" stroke-width="0.5"/>
<text x="66.36" y="388.32" font-size="5.7" text-anchor="middle" fill="#111">200</text>
<text x="61.69" y="388.32" font-size="5.7" text-anchor="end" fill="#555">-</text>
<line x1="87.04" x2="87.04" y1="381.57" y2="382.67" stroke="#aaa" stroke-width="0.5"/>
<text x="87.04" y="388.32" font-size="5.7" text-anchor="middle" fill="#111">100</text>
<text x="82.36" y="388.32" font-size="5.7" text-anchor="end" fill="#555">-</text>
<line x1="106.71" x2="106.71" y1="381.57" y2="382.67" stroke="#aaa" stroke-width="0.5"/>
<text x="106.71" y="388.32" font-size="5.7" text-anchor="middle" fill="#111">0</text>
<line x1="127.38" x2="127.38" y1="381.57" y2="382.67" stroke="#aaa" stroke-width="0.5"/>
<text x="127.38" y="388.32" font-size="5.7" text-anchor="middle" fill="#111">100</text>
<line x1="147.81" x2="147.81" y1="381.57" y2="382.67" stroke="#aaa" stroke-width="0.5"/>
<text x="147.81" y="388.32" font-size="5.7" text-anchor="middle" fill="#111">200</text>
<text x="5.6" y="291.8" font-size="5.8" fill="#111">Observation</text>
<path d="M46.2,289.5 69.1,289.4 83.5,289.1 84.3,289.1 85,289 85.8,289.1 86.5,288.9 87.3,289 88,289.1 88.8,288.9 89.5,288.8 90.3,288.8 91,288.8 91.7,288.8 92.4,288.6 93.1,288.5 93.8,288.4 94.5,288.5 95.3,288.1 96,288.3 96.7,287.8 97.4,287.8 98.1,287.6 98.8,287.8 99.6,287.4 100.3,287.7 101,287.5 101.7,287 102.5,287.2 103.2,286.6 104,286.5 104.7,286.2 105.5,286.5 106.2,286.1 107,286.1 107.7,285.9 108.5,285.7 109.2,286.3 110,285.2 110.7,285.4 111.5,285.7 112.3,286.2 113.1,286.3 113.9,286.1 114.6,286.4 115.4,286 116.2,286.1 116.9,286.5 117.7,286.8 118.4,287 119.2,286.6 119.9,287.3 120.7,287 121.4,287.3 122.1,287.2 122.9,286.9 123.6,287.4 124.3,287.6 125,287.2 125.7,287.7 126.5,287.5 127.2,287.4 127.9,287.8 128.6,287.5 129.3,288.1 130.1,287.7 130.8,287.9 131.5,288 132.2,288 132.9,288.2 133.6,288.5 134.4,288.5 135,288.7 135.7,288.9 136.4,289.1 137.1,289.1 139.1,289.5 139.1,290.8 137.1,291.3 136.4,291.5 135.7,291.6 135,291.6 134.4,292 133.6,292 132.9,292.2 132.2,292.1 131.5,292.4 130.8,292.5 130.1,292.3 129.3,292.8 128.6,292.5 127.9,293 127.2,293 126.5,292.7 125.7,293.1 125,293.1 124.3,292.9 123.6,292.9 122.9,292.9 122.1,293.3 121.4,293.6 120.7,293.7 119.9,293.3 119.2,293.9 118.4,293.7 117.7,294 116.9,293.7 116.2,293.7 115.4,294.3 114.6,294.2 113.9,294.3 113.1,294.5 112.3,294.3 111.5,294.9 110.7,294.1 110,294.3 109.2,294.4 108.5,294.9 107.7,294.3 107,294.1 106.2,294.5 105.5,293.9 104.7,293.3 104,293.6 103.2,293.5 102.5,293.3 101.7,293.2 101,292.9 100.3,292.9 99.6,293 98.8,292.9 98.1,292.7 97.4,292.2 96.7,292.6 96,292.3 95.3,292.2 94.5,292.1 93.8,291.9 93.1,291.8 92.4,291.6 91.7,291.6 91,291.4 90.3,291.6 89.5,291.6 88.8,291.6 88,291.3 87.3,291.3 86.5,291.3 85.8,291.4 85,291.3 84.3,291.3 83.5,291.3 69.1,291 46.2,290.8Z" fill="url(#g55)"/>
<path d="M115,289h0M105.4,291.8h0M116,288.1h0M106.7,292.6h0M101.2,291.3h0M113,287.4h0M113,292.7h0M108.7,286.9h0M102.3,289.6h0M105.4,291.6h0M112.5,290.1h0M118.1,292.7h0M111,292.8h0M104.9,287.9h0M115.1,288.1h0M119.5,290.1h0M116.5,292.5h0M102.2,290.9h0M118.1,291.1h0M110,288.6h0M102.5,292.3h0M100.2,291.7h0M107.2,292.3h0M114.7,290h0M103.7,291.8h0M101.5,292.4h0M107.2,289.6h0M107,287.7h0M110.1,290.8h0M119.3,289.7h0M111.5,290.5h0M104.7,289.1h0M108.6,293.5h0M103.9,287.8h0M104.4,291.8h0M110.4,290.4h0M101.1,290.9h0M105.8,287.6h0M112.8,288.3h0M112.2,288.7h0M104.4,288.4h0M106.7,292.1h0M103.5,292.7h0M110.3,291.2h0M115.3,291.5h0M104.4,291.3h0M107.3,293.4h0M107.5,292h0M103.9,291.7h0M114.8,290.1h0" stroke="#1c6bf0" stroke-width="0.9" stroke-linecap="round" fill="none" opacity="0.75"/>
<path d="M117.5,288.7h0M113.2,287.7h0M104.6,291.8h0M115.4,290.4h0M106.2,288.8h0M109.1,293.1h0M118.2,290.1h0M117.1,289.7h0M117.5,292.7h0M108.1,288h0M106.6,292h0M107.3,292.9h0M109.4,286.8h0M116,289.9h0M112.8,289.5h0M106.4,288.5h0M100,290h0M114.1,289.2h0M111.2,292.4h0M117.2,287.5h0" stroke="#f20b5e" stroke-width="0.9" stroke-linecap="round" fill="none" opacity="0.75"/>
<text x="5.6" y="300.2" font-size="5.8" fill="#111">McClear</text>
<path d="M80.3,299.7 88,299.3 88.7,299 89.4,298.9 90.1,298.8 90.9,298.4 91.6,298.4 92.3,298 93,297.8 93.8,297.4 94.5,297.4 95.3,297.3 96,296.5 96.7,296.8 97.5,296.7 98.2,296.5 99.1,296.5 99.9,296.7 100.7,296.3 101.5,296.7 102.4,297.1 103.2,297.1 104,298 104.7,298 105.5,298.2 106.2,298.7 106.9,298.5 107.5,298.3 108.2,298.6 108.9,298.5 109.7,298.6 110.4,298.4 111.1,298.5 111.9,298.3 112.6,298.5 113.3,298.3 114.1,298.4 114.8,298.6 115.5,298.4 116.3,298.2 117,298.6 117.7,298.6 118.5,298.3 119.2,298.4 119.9,298.6 120.7,298.5 121.4,298.6 122.2,298.7 122.9,298.6 123.7,298.5 124.4,298.4 125.2,298.5 126,298.7 126.7,298.4 127.5,298.4 128.2,298.6 129,298.7 129.8,298.4 130.5,298.6 131.3,298.8 132.1,298.5 132.8,298.6 133.6,298.5 134.3,298.6 135.1,298.8 135.9,298.8 136.6,298.9 137.3,298.9 138,298.9 138.8,299 139.5,299.1 140.2,299.1 141,299 141.7,298.9 142.4,299 143.1,299.1 143.9,299.2 144.6,299.1 145.3,299.2 146.1,299.3 151,299.7 151,301 146.1,301.5 145.3,301.6 144.6,301.5 143.9,301.4 143.1,301.7 142.4,301.5 141.7,301.8 141,301.7 140.2,301.9 139.5,301.8 138.8,301.9 138,302 137.3,302 136.6,302.1 135.9,302.1 135.1,302.1 134.3,302.1 133.6,301.9 132.8,301.9 132.1,302.2 131.3,302.3 130.5,302.3 129.8,302 129,302.4 128.2,302.4 127.5,302.1 126.7,302.2 126,302.1 125.2,302.4 124.4,302.1 123.7,302.1 122.9,302.1 122.2,302.2 121.4,302.4 120.7,302.5 119.9,302.4 119.2,302.4 118.5,302.3 117.7,302.3 117,302.4 116.3,302.5 115.5,302.1 114.8,302.5 114.1,302.2 113.3,302.4 112.6,302.5 111.9,302.4 111.1,302.3 110.4,302.3 109.7,302.2 108.9,302.1 108.2,302.1 107.5,302.2 106.9,302.1 106.2,302.5 105.5,302.8 104.7,302.6 104,303 103.2,303.6 102.4,303.4 101.5,304 100.7,303.9 99.9,304.6 99.1,304.5 98.2,304.2 97.5,304.7 96.7,304.5 96,304.1 95.3,303.7 94.5,303.4 93.8,303 93,303 92.3,302.5 91.6,302.5 90.9,302.3 90.1,302.1 89.4,301.7 88.7,301.6 88,301.5 80.3,301Z" fill="url(#g56)"/>
<line x1="153.54" x2="154.53" y1="300.38" y2="300.38" stroke="#fa0550" stroke-width="1.5" stroke-linecap="round"/>
<path d="M95.5,297.8h0M104.2,301.4h0M94,302.2h0M99.2,298h0M103.6,298.2h0M92.9,302.3h0M92.8,301.1h0M98.1,297.9h0M97.3,298.9h0M97.8,301.4h0M102.9,300.4h0M104.1,299.2h0M96.2,299.3h0M98.1,303h0M101,301.9h0M101,298.7h0M99.4,302.2h0M104,298.8h0M93.5,301.3h0M100,302.1h0M99,303.2h0M100.1,300.9h0M101.3,300.8h0M97.4,299.9h0M99,299.5h0M93.3,298.4h0M97,300.1h0M96.7,298.8h0M102.7,302.5h0M97.8,299.2h0M102.9,302h0" stroke="#1c6bf0" stroke-width="0.9" stroke-linecap="round" fill="none" opacity="0.75"/>
<path d="M95.6,297.7h0M103.7,301.9h0M101.9,298.4h0M97.3,297.4h0M96.4,302.4h0M97.4,299.5h0M95.3,301.5h0" stroke="#f20b5e" stroke-width="0.9" stroke-linecap="round" fill="none" opacity="0.75"/>
<text x="5.6" y="310.2" font-size="5.8" fill="#111">Channel 1</text>
<path d="M69.1,309.9 69.9,309.9 70.6,309.9 71.4,309.8 72.1,309.8 72.9,309.8 73.7,309.7 74.4,309.7 75.2,309.6 75.9,309.6 76.7,309.5 77.5,309.5 78.2,309.5 79,309.4 79.7,309.4 80.5,309.2 81.3,309.4 82,309.1 82.8,309.2 83.5,309.3 84.3,309.3 85,309 85.7,308.9 86.5,309 87.2,309 87.9,309 88.7,308.8 89.4,309 90.1,308.8 90.9,308.8 91.6,308.9 92.3,308.8 93.1,308.5 93.8,308.6 94.5,308.7 95.3,308.5 96,308.8 96.7,308.5 97.4,308.5 98.2,308.2 98.9,308.5 99.6,308.4 100.3,308.4 101.1,308.2 101.8,308.4 102.5,308.3 103.2,308.2 104,307.9 104.7,307.9 105.3,307.6 106,307.7 106.7,307.7 107.5,307.1 108.4,307 109.2,306.9 109.9,306.6 110.6,306.4 111.3,306.5 112,306.3 112.7,305.9 113.4,305.8 114.1,306.6 114.8,306.5 115.6,306.2 116.3,306.6 117,306.6 117.7,306.2 118.4,306.4 119.2,306.6 119.9,307.4 120.6,307.4 121.4,307.1 122.1,307.7 122.8,307.5 123.5,308.1 124.3,307.9 125,308.2 125.7,308.4 126.5,308.5 127.2,309 127.9,308.9 128.6,309.1 129.4,309.5 130.1,309.7 130.9,309.9 130.9,311.2 130.1,311.4 129.4,311.6 128.6,312 127.9,312.2 127.2,312.1 126.5,312.3 125.7,312.5 125,312.5 124.3,312.8 123.5,312.8 122.8,313.4 122.1,313.3 121.4,313.8 120.6,313.9 119.9,313.8 119.2,314 118.4,314.9 117.7,314.9 117,314.5 116.3,314.5 115.6,314.6 114.8,315.2 114.1,314.7 113.4,315 112.7,314.5 112,315.2 111.3,314.5 110.6,314.8 109.9,314.8 109.2,314.9 108.4,314 107.5,314.1 106.7,314 106,313.8 105.3,313.6 104.7,313.1 104,313 103.2,312.9 102.5,312.8 101.8,312.7 101.1,313.1 100.3,312.7 99.6,312.9 98.9,312.8 98.2,312.7 97.4,312.7 96.7,312.4 96,312.4 95.3,312.4 94.5,312.5 93.8,312.2 93.1,312.3 92.3,312.5 91.6,312.4 90.9,312.4 90.1,312.2 89.4,312.1 88.7,312 87.9,312.3 87.2,312.1 86.5,311.9 85.7,312.2 85,312 84.3,312 83.5,312 82.8,311.8 82,311.9 81.3,311.8 80.5,311.8 79.7,311.8 79,311.6 78.2,311.6 77.5,311.6 76.7,311.5 75.9,311.5 75.2,311.4 74.4,311.4 73.7,311.4 72.9,311.3 72.1,311.3 71.4,311.2 70.6,311.2 69.9,311.2 69.1,311.2Z" fill="url(#g57)"/>
<path d="M91.1,311.8h0M99.2,310h0M90.4,311.4h0M102.9,311.3h0M91.6,309.9h0" stroke="#1c6bf0" stroke-width="0.9" stroke-linecap="round" fill="none" opacity="0.75"/>
<path d="M96.5,311.9h0M92.3,310.9h0M97.7,309.5h0M91.5,309.7h0M97.7,310.5h0M101,312h0M94.7,309.5h0M101.9,309.2h0M100.4,311.6h0M92.2,311h0M91.8,309.6h0M91.7,310.2h0M98.3,310.2h0M91.1,310.1h0M103.1,312.2h0M98,311.5h0M103.3,309.9h0M98.1,309.2h0M102.1,311.6h0M94.7,309.5h0M100.5,310.1h0M92.1,311.4h0M102.3,309.9h0M97.7,311.3h0" stroke="#f20b5e" stroke-width="0.9" stroke-linecap="round" fill="none" opacity="0.75"/>
<text x="5.6" y="321" font-size="5.8" fill="#111">Channel 2</text>
<path d="M79.1,320.1 79.8,320.1 80.6,320.1 81.3,320 82.1,320 82.8,319.9 83.5,319.9 84.3,319.8 85,319.8 85.8,319.7 86.5,319.7 87.3,319.6 88,319.6 88.8,319.4 89.5,319.5 90.3,319.3 91,319.4 91.8,319.4 92.6,319.4 93.3,319.2 94.1,319.2 94.9,319.1 95.6,318.9 96.4,319.2 97.2,318.9 97.9,318.9 98.7,319.1 99.5,319 100.2,319 101,318.7 101.7,318.7 102.5,318.4 103.2,318.5 104,318.1 104.7,318.1 105.5,318 106.2,317.8 107,317.7 107.6,317.7 108.3,317.2 109,316.9 109.7,316.7 110.4,316.8 111.2,316.8 111.9,315.9 112.7,316.4 113.4,316.3 114.1,316.9 114.8,316.6 115.5,317 116.2,317.3 116.9,316.7 117.7,317.3 118.4,317.4 119.2,317.3 119.9,317.7 120.7,318.3 121.4,318.4 122.2,318.5 122.9,318.6 123.6,319.1 124.4,319.4 125.1,319.6 125.8,319.7 126.5,319.9 127.1,320.1 127.1,321.4 126.5,321.5 125.8,321.7 125.1,321.9 124.4,322.1 123.6,322.3 122.9,322.9 122.2,323.2 121.4,323 120.7,323.1 119.9,323.8 119.2,324.1 118.4,323.9 117.7,324 116.9,324.5 116.2,324.9 115.5,324.6 114.8,324.6 114.1,324.5 113.4,324.6 112.7,325.7 111.9,325.7 111.2,324.8 110.4,325 109.7,324.6 109,323.8 108.3,324 107.6,323.8 107,323.7 106.2,323.3 105.5,323.3 104.7,323.1 104,323.3 103.2,322.9 102.5,322.8 101.7,323 101,322.5 100.2,322.6 99.5,322.7 98.7,322.3 97.9,322.7 97.2,322.6 96.4,322.5 95.6,322.2 94.9,322.2 94.1,322.2 93.3,322.2 92.6,322.3 91.8,322.3 91,322 90.3,322.1 89.5,321.9 88.8,322 88,322 87.3,321.9 86.5,321.8 85.8,321.7 85,321.7 84.3,321.6 83.5,321.6 82.8,321.5 82.1,321.5 81.3,321.5 80.6,321.4 79.8,321.4 79.1,321.4Z" fill="url(#g58)"/>
<path d="M100.6,320.1h0M100.6,321.1h0M104.1,320.7h0M99.5,321h0M105.8,322.5h0M105.5,319.7h0M105.4,319.8h0" stroke="#1c6bf0" stroke-width="0.9" stroke-linecap="round" fill="none" opacity="0.75"/>
<path d="M99,321.2h0M102,320.1h0M102.9,321.5h0M104.6,322.2h0M98.7,321.4h0M97.1,319.5h0M104.4,320.1h0M99.3,320.2h0M105.6,321.1h0M96.6,320.8h0M99.7,322.1h0" stroke="#f20b5e" stroke-width="0.9" stroke-linecap="round" fill="none" opacity="0.75"/>
<text x="5.6" y="332.2" font-size="5.8" fill="#111">Channel 7</text>
<path d="M77.8,329.8 89.3,329.6 90,329.4 90.7,329.1 91.4,328.9 92.1,328.8 92.8,328.7 93.5,328.6 94.3,328.3 95,327.9 95.8,328 96.6,327.7 97.4,327.2 98.2,327.1 99,326.1 99.7,326 100.5,325.9 101.2,326.5 102,325.7 102.7,326 103.5,326.3 104.2,325.8 105,325.7 105.7,326 106.4,326.5 107.2,326.2 107.9,326.3 108.6,326.3 109.3,326.7 110,326.7 110.8,326 111.5,326 112.2,326.9 112.9,326.4 113.6,327.1 114.3,327 115,326.5 115.7,327.4 116.5,327.5 117.2,327.4 118,327.8 118.8,328.1 119.6,328.4 120.4,328.8 121.2,329.2 121.9,329.1 122.7,329.1 123.5,329.3 124.3,329.4 125.1,329.5 125.9,329.6 131.9,329.9 131.9,331.2 125.9,331.5 125.1,331.5 124.3,331.5 123.5,331.8 122.7,331.7 121.9,331.9 121.2,331.8 120.4,332.4 119.6,332.7 118.8,332.8 118,333.2 117.2,334 116.5,333.6 115.7,334.1 115,333.8 114.3,334.3 113.6,334.3 112.9,334.4 112.2,334.9 111.5,334.3 110.8,335.1 110,334.5 109.3,335 108.6,334.3 107.9,334.9 107.2,334.5 106.4,335.4 105.7,335 105,334.4 104.2,334.6 103.5,334.9 102.7,335.2 102,335 101.2,334.8 100.5,334.8 99.7,335.2 99,334.6 98.2,334.8 97.4,333.7 96.6,333.8 95.8,333.6 95,333.1 94.3,332.5 93.5,332.4 92.8,332.5 92.1,332 91.4,331.9 90.7,331.9 90,331.7 89.3,331.5 77.8,331.2Z" fill="url(#g59)"/>
<line x1="55.9" x2="56.65" y1="330.52" y2="330.52" stroke="#fa0550" stroke-width="1.5" stroke-linecap="round"/>
<line x1="58.14" x2="62.38" y1="330.52" y2="330.52" stroke="#fa0550" stroke-width="1.5" stroke-linecap="round"/>
<line x1="66.86" x2="71.1" y1="330.52" y2="330.52" stroke="#fa0550" stroke-width="1.5" stroke-linecap="round"/>
<line x1="73.09" x2="75.83" y1="330.52" y2="330.52" stroke="#fa0550" stroke-width="1.5" stroke-linecap="round"/>
<path d="M110,332.3h0M105.9,328.3h0M108.8,329.3h0M110.4,332.1h0M111.7,333.9h0M115.5,328.9h0M118.1,328.6h0M116.9,331.4h0M101.1,333h0M115.9,330.5h0M108.1,330h0M112.7,331.8h0M110.4,329.2h0M116.7,330.7h0M104.1,329.4h0M96.8,330.1h0M113.9,328.2h0M99.4,329.3h0M98.5,332.1h0M98.1,330.1h0M108,332.4h0M112.7,331h0M109,327.6h0M103.5,327.9h0M105.3,328.9h0M113.9,328.2h0M101.6,331.6h0M97.2,330.5h0M102.4,329.7h0M103.8,329.9h0M112.7,330.5h0M101.8,333.3h0M104.9,327.4h0M98.4,332.2h0M114.5,332.5h0M111.3,328.7h0M98.9,332.5h0" stroke="#1c6bf0" stroke-width="0.9" stroke-linecap="round" fill="none" opacity="0.75"/>
<path d="M107,331.8h0M108.7,333.3h0M117.1,330.2h0M107.1,332.3h0M98.3,327.6h0M97.3,330.7h0M117.6,329.8h0M108.5,328.9h0M96.8,329.2h0M103.2,331.3h0M99.1,332.4h0M118.2,332.3h0M97.5,332.4h0M117.9,332.3h0M112.5,332.6h0M98.8,332.8h0M107.9,328.7h0M118,330.1h0M114.1,331h0M113.5,333.2h0M103.8,329.4h0M118.4,330.5h0M105.7,332.3h0M116,329.5h0M112.3,332.1h0M101.2,332h0M110.2,328.6h0M115.5,331.3h0M100.5,328.9h0M98,329.3h0M107.2,333.4h0M110.6,331.1h0M104.7,327h0M96.8,329.3h0M103.8,327.1h0M101.2,332.7h0M99.4,330.5h0M99.3,329.3h0M111.3,331.4h0M114.9,332.6h0M104.3,328.4h0M117,329.3h0M99.7,329h0M110.6,330.7h0" stroke="#f20b5e" stroke-width="0.9" stroke-linecap="round" fill="none" opacity="0.75"/>
<text x="5.6" y="343.4" font-size="5.8" fill="#111">Channel 4</text>
<path d="M85.5,340.2 86.3,340.2 87,340.1 87.7,340.1 88.4,340 89.2,340 89.9,339.9 90.6,339.9 91.4,339.8 92.1,339.8 92.8,339.7 93.5,339.6 94.3,339.6 95,339.4 95.8,339.3 96.6,338.6 97.4,338.8 98.2,338.2 99,338.3 99.7,337.8 100.4,338 101.1,337.7 101.8,337.2 102.5,336.7 103.3,337 104,336.3 104.7,336.6 105.4,336.8 106.1,336.7 106.8,337 107.5,337.3 108.2,337.8 109,337.9 109.7,337.8 110.4,337.7 111.1,337.6 111.8,337.8 112.6,337.9 113.3,337.8 114,338.3 114.7,338.3 115.4,338.4 116.1,338.5 116.9,338.8 117.6,338.8 118.3,338.8 119,339.1 119.7,339.1 120.5,339.3 121.2,339.4 121.9,339.5 122.7,339.7 123.4,339.7 124.1,339.7 124.9,339.7 125.6,339.8 126.4,339.8 127.1,339.9 127.9,339.9 128.6,340 135.1,340.2 135.1,341.5 128.6,341.6 127.9,341.7 127.1,341.8 126.4,341.8 125.6,341.9 124.9,341.9 124.1,342 123.4,342 122.7,342 121.9,342.2 121.2,342.4 120.5,342.4 119.7,342.7 119,342.5 118.3,342.7 117.6,342.9 116.9,343 116.1,342.9 115.4,343.1 114.7,343.4 114,343.2 113.3,343.5 112.6,343.6 111.8,343.5 111.1,344.1 110.4,344 109.7,343.8 109,344.1 108.2,344.3 107.5,344.2 106.8,344.1 106.1,345 105.4,344.8 104.7,344.9 104,345.5 103.3,344.8 102.5,344.5 101.8,344.3 101.1,344.3 100.4,344.2 99.7,343.9 99,343.4 98.2,343.4 97.4,343 96.6,342.9 95.8,342.5 95,342.2 94.3,341.9 93.5,341.9 92.8,341.9 92.1,341.9 91.4,341.8 90.6,341.8 89.9,341.7 89.2,341.7 88.4,341.6 87.7,341.6 87,341.5 86.3,341.5 85.5,341.5Z" fill="url(#g60)"/>
<path d="M110.5,340.5h0M110.5,341.5h0M108.7,340h0M110.4,341h0M98.6,341.9h0M100.7,339.6h0M110.7,339h0M108.3,338.6h0M108.1,342h0M99.3,342.6h0M104.1,339.2h0M104.3,337.9h0M99.7,340.7h0M107.3,340.9h0M109.1,343.1h0M98.4,342.4h0M100.9,338.9h0M105.4,340.6h0M99.6,341.9h0M109.9,343.2h0M102.9,340.5h0M107.6,343h0M103.7,338.2h0M104.6,342.7h0M101.4,343.5h0M105.8,338.4h0M103.3,343.6h0M109.3,339.5h0M98.9,339h0M110.6,340.1h0M98.2,340.9h0M99,341.2h0M102.1,342.8h0M99.3,339h0" stroke="#1c6bf0" stroke-width="0.9" stroke-linecap="round" fill="none" opacity="0.75"/>
<path d="M106.2,339.5h0M102.6,339.5h0M108.5,340.7h0M109.3,341.2h0M99.2,339.8h0M101.8,342.7h0M104.4,343.9h0" stroke="#f20b5e" stroke-width="0.9" stroke-linecap="round" fill="none" opacity="0.75"/>
<text x="5.6" y="352.8" font-size="5.8" fill="#111">Channel 6</text>
<path d="M91.8,350.3 92.5,350.3 93.2,350.2 93.9,350.2 94.7,350.1 95.4,350.1 96.1,350 96.8,349.9 97.5,349.9 98.3,349.9 99,349.6 99.7,349.4 100.4,349.1 101.1,349 101.8,348.7 102.5,348.7 103.2,347.9 104,347.2 104.8,347.5 105.7,346.8 106.4,346.3 107,346.5 107.7,346.9 108.4,347.6 109,347.2 109.7,347.5 110.5,348.1 111.3,348.6 112.1,348.9 112.9,349.2 113.7,349.2 114.4,349.5 115.1,349.4 115.8,349.6 116.5,349.6 117.2,349.9 118,349.9 118.7,350 126.9,350.3 126.9,351.6 118.7,351.9 118,352 117.2,352.1 116.5,352.2 115.8,352.3 115.1,352.3 114.4,352.5 113.7,352.6 112.9,352.6 112.1,353.2 111.3,353.3 110.5,354.1 109.7,354.1 109,354.8 108.4,354.8 107.7,355 107,355.4 106.4,354.8 105.7,355.1 104.8,355.3 104,354 103.2,354 102.5,353.2 101.8,352.9 101.1,353.1 100.4,352.7 99.7,352.3 99,352.3 98.3,352.1 97.5,352 96.8,351.9 96.1,351.9 95.4,351.8 94.7,351.8 93.9,351.7 93.2,351.6 92.5,351.6 91.8,351.6Z" fill="url(#g61)"/>
<line x1="130.87" x2="131.62" y1="350.94" y2="350.94" stroke="#fa0550" stroke-width="1.5" stroke-linecap="round"/>
<path d="M102.4,351h0M108.2,349.6h0M107.1,351.2h0M111.1,349.9h0M103.2,349.6h0M106.7,351.1h0M102.2,350.4h0M111,352.1h0M108.4,350.9h0M109.9,350.1h0M110.4,351.9h0M108.1,353.3h0" stroke="#1c6bf0" stroke-width="0.9" stroke-linecap="round" fill="none" opacity="0.75"/>
<path d="M105.3,350.8h0M107.9,352.9h0M109.5,350.9h0M104.6,353h0M108.2,348h0M108.7,350h0M108.7,348.9h0M109.7,351.9h0M102.5,351.5h0M111,351.2h0M106.6,353.9h0M108.1,351h0M102.5,351.7h0M106.5,353.2h0M102.6,349.4h0M107.4,348.8h0M111,352.5h0M109.9,348.7h0M102.8,351.2h0" stroke="#f20b5e" stroke-width="0.9" stroke-linecap="round" fill="none" opacity="0.75"/>
<text x="5.6" y="363.4" font-size="5.8" fill="#111">Channel 3</text>
<path d="M95.5,360.2 96.3,360.2 97,360.1 97.7,360 98.5,360 99.2,359.9 100,359.8 100.7,359.7 101.5,359.7 102.2,359.6 102.9,359.4 103.6,359 104.2,358.7 105,358.7 105.7,358 106.3,357.6 107,356.9 107.5,356.3 108.1,355.9 108.8,357.2 109.5,357.5 110.1,358.1 110.8,358.1 111.4,358.8 112.3,358.8 113.1,359.3 113.9,359.5 114.7,359.7 123.4,360.2 123.4,361.5 114.7,361.9 113.9,362.2 113.1,362.6 112.3,362.5 111.4,363 110.8,363.2 110.1,363.6 109.5,364 108.8,364.8 108.1,365.2 107.5,364.9 107,364.2 106.3,363.7 105.7,363.9 105,363.4 104.2,362.9 103.6,362.6 102.9,362.1 102.2,361.9 101.5,361.9 100.7,361.9 100,361.8 99.2,361.7 98.5,361.7 97.7,361.6 97,361.5 96.3,361.5 95.5,361.5Z" fill="url(#g62)"/>
<text x="5.6" y="373.2" font-size="5.8" fill="#111">Channel 5</text>
<path d="M99.7,369.9 100.6,369.6 101.4,369.3 102.2,368.9 103.1,368.1 104,367.5 104.8,367.3 105.7,366.8 106.5,366.3 107.3,366.4 108.1,366.5 109,366.7 109.8,367.4 110.5,368 111.2,368.6 111.9,368.8 112.7,369.4 113.4,369.7 115.9,370 115.9,371.3 113.4,371.6 112.7,372 111.9,372.4 111.2,373.2 110.5,373.4 109.8,374 109,374.3 108.1,374.7 107.3,375.4 106.5,374.4 105.7,374.1 104.8,374.1 104,373.6 103.1,372.7 102.2,372.5 101.4,371.9 100.6,371.6 99.7,371.3Z" fill="url(#g63)"/>
<line x1="91.77" x2="92.76" y1="370.62" y2="370.62" stroke="#5064ec" stroke-width="1.5" stroke-linecap="round"/>
<line x1="94.01" x2="95.26" y1="370.62" y2="370.62" stroke="#5064ec" stroke-width="1.5" stroke-linecap="round"/>
<line x1="96.5" x2="98.74" y1="370.62" y2="370.62" stroke="#5064ec" stroke-width="1.5" stroke-linecap="round"/>
<line x1="117.17" x2="118.67" y1="370.62" y2="370.62" stroke="#5064ec" stroke-width="1.5" stroke-linecap="round"/>
<line x1="119.91" x2="121.41" y1="370.62" y2="370.62" stroke="#873ecd" stroke-width="1.5" stroke-linecap="round"/>
<line x1="122.65" x2="123.65" y1="370.62" y2="370.62" stroke="#5064ec" stroke-width="1.5" stroke-linecap="round"/>
<line x1="124.89" x2="125.89" y1="370.62" y2="370.62" stroke="#5064ec" stroke-width="1.5" stroke-linecap="round"/>
<path d="M108,372.2h0M109.7,369.3h0M110,368.4h0M108.6,370.8h0M104.3,369.9h0M108.3,371.6h0M104,372.5h0M107,373.9h0" stroke="#1c6bf0" stroke-width="0.9" stroke-linecap="round" fill="none" opacity="0.75"/>
<path d="M105.6,372.5h0M109.7,370.8h0M106.2,367.9h0M108.6,370.6h0M105.4,369h0M106,373.4h0M110.7,369.6h0M107.2,373.9h0M106.2,369.2h0M103.9,372.2h0M104,372.7h0M106.4,370.1h0M107.4,373.2h0M105.9,367.5h0M108.2,367.8h0M109,368.6h0M110.7,372.1h0" stroke="#f20b5e" stroke-width="0.9" stroke-linecap="round" fill="none" opacity="0.75"/>
<rect x="166.85" y="280.6" width="1.3" height="99" fill="url(#cb)"/>
<text x="170.6" y="283.31" font-size="5.5" fill="#111">High</text>
<text x="170.6" y="382.51" font-size="5.5" fill="#111">Low</text>
<text transform="translate(180.55,331) rotate(-90)" font-size="4.35" text-anchor="middle" class="sf" fill="#000">Feature value</text>
<line x1="286.21" x2="286.21" y1="279.21" y2="381.82" stroke="#c0c0c0" stroke-width="0.6"/>
<line x1="220.71" x2="341.51" y1="381.82" y2="381.82" stroke="#888" stroke-width="0.6"/>
<line x1="221.71" x2="221.71" y1="381.82" y2="382.92" stroke="#aaa" stroke-width="0.5"/>
<text x="221.71" y="389.19" font-size="5.7" text-anchor="middle" fill="#111">400</text>
<text x="217.03" y="389.19" font-size="5.7" text-anchor="end" fill="#555">-</text>
<line x1="237.65" x2="237.65" y1="381.82" y2="382.92" stroke="#aaa" stroke-width="0.5"/>
<text x="237.65" y="389.19" font-size="5.7" text-anchor="middle" fill="#111">300</text>
<text x="232.97" y="389.19" font-size="5.7" text-anchor="end" fill="#555">-</text>
<line x1="254.33" x2="254.33" y1="381.82" y2="382.92" stroke="#aaa" stroke-width="0.5"/>
<text x="254.33" y="389.19" font-size="5.7" text-anchor="middle" fill="#111">200</text>
<text x="249.66" y="389.19" font-size="5.7" text-anchor="end" fill="#555">-</text>
<line x1="270.27" x2="270.27" y1="381.82" y2="382.92" stroke="#aaa" stroke-width="0.5"/>
<text x="270.27" y="389.19" font-size="5.7" text-anchor="middle" fill="#111">100</text>
<text x="265.6" y="389.19" font-size="5.7" text-anchor="end" fill="#555">-</text>
<line x1="286.21" x2="286.21" y1="381.82" y2="382.92" stroke="#aaa" stroke-width="0.5"/>
<text x="286.21" y="389.19" font-size="5.7" text-anchor="middle" fill="#111">0</text>
<line x1="302.65" x2="302.65" y1="381.82" y2="382.92" stroke="#aaa" stroke-width="0.5"/>
<text x="302.65" y="389.19" font-size="5.7" text-anchor="middle" fill="#111">100</text>
<line x1="319.09" x2="319.09" y1="381.82" y2="382.92" stroke="#aaa" stroke-width="0.5"/>
<text x="319.09" y="389.19" font-size="5.7" text-anchor="middle" fill="#111">200</text>
<line x1="335.28" x2="335.28" y1="381.82" y2="382.92" stroke="#aaa" stroke-width="0.5"/>
<text x="335.28" y="389.19" font-size="5.7" text-anchor="middle" fill="#111">300</text>
<text x="184.8" y="291.32" font-size="5.4" fill="#111">Observation</text>
<path d="M226.4,288.8 242.6,288.6 243.4,288.6 244.2,288.6 244.9,288.5 245.7,288.5 246.4,288.4 247.2,288.4 248,288.3 248.7,288.3 249.5,288.2 250.2,288.2 251,288.3 251.8,288.1 252.5,288.2 253.3,288.2 254.1,288.1 254.8,287.9 255.6,288 256.3,287.9 257.1,287.8 257.8,287.5 258.6,287.6 259.3,287.7 260.1,287.4 260.8,287.4 261.6,287 262.3,287 263.1,287 263.8,287.1 264.5,286.6 265.2,286.7 265.9,286.4 266.6,285.9 267.4,286.4 268.1,286 268.8,286.1 269.5,285.7 270.2,285.7 270.9,285.6 271.6,285.5 272.3,285.3 273,285.3 273.7,284.9 274.5,284.7 275.2,285.4 275.9,285.5 276.6,285.5 277.3,285.5 278.1,285.7 278.8,285.8 279.5,285.4 280.2,285.9 281,285.8 281.7,286.2 282.5,286.7 283.2,287 284.2,287.2 285.1,287.5 286,287.3 287,287.7 287.7,287.5 288.5,287.4 289.2,287 290,286.5 290.9,286.3 291.7,286.7 292.4,285.9 293.1,286.1 293.9,286.1 294.6,286.3 295.3,286.1 296,285.5 296.8,285.4 297.5,285.6 298.2,285.2 298.9,285.3 299.7,285.5 300.4,285.4 301.1,285 301.8,285.7 302.5,285 303.3,285.2 304,285.8 304.7,285.4 305.4,285.4 306.1,285.5 306.9,285.6 307.6,286.2 308.3,285.9 309,286.3 309.7,286 310.4,286.6 311.1,286.6 311.8,287.2 312.5,287.3 313.2,287.5 313.9,287.6 314.6,287.6 315.3,287.8 316,288.2 316.8,288.2 317.6,288.4 318.5,288.6 319.3,288.7 320.1,288.8 320.1,290.1 319.3,290.2 318.5,290.4 317.6,290.6 316.8,290.9 316,291.1 315.3,291.1 314.6,291.5 313.9,291.6 313.2,291.5 312.5,292 311.8,292.3 311.1,292.1 310.4,292.6 309.7,293 309,292.6 308.3,292.9 307.6,293.6 306.9,293.4 306.1,293.7 305.4,294.1 304.7,293.2 304,293.8 303.3,293.2 302.5,293.4 301.8,293.4 301.1,293.3 300.4,293.7 299.7,293.2 298.9,293.6 298.2,293.2 297.5,293.1 296.8,293.1 296,293.2 295.3,292.8 294.6,293 293.9,292.8 293.1,292.9 292.4,293 291.7,292.4 290.9,292.6 290,292.4 289.2,292.2 288.5,291.9 287.7,291.4 287,291.4 286,291.5 285.1,291.8 284.2,291.9 283.2,292.3 282.5,292.1 281.7,292.8 281,292.9 280.2,293.6 279.5,293.5 278.8,293.2 278.1,293.3 277.3,294.1 276.6,294 275.9,293.6 275.2,293.6 274.5,294 273.7,294.2 273,293.9 272.3,294 271.6,293.9 270.9,293.6 270.2,293.4 269.5,293.8 268.8,293.5 268.1,293.3 267.4,293 266.6,292.5 265.9,292.4 265.2,292.3 264.5,292.1 263.8,291.9 263.1,291.7 262.3,291.6 261.6,291.5 260.8,291.4 260.1,291.7 259.3,291.3 258.6,291.4 257.8,291.2 257.1,291.2 256.3,291.2 255.6,291.1 254.8,290.9 254.1,290.8 253.3,290.8 252.5,291 251.8,290.9 251,290.7 250.2,290.7 249.5,290.7 248.7,290.7 248,290.7 247.2,290.6 246.4,290.5 245.7,290.5 244.9,290.5 244.2,290.4 243.4,290.4 242.6,290.3 226.4,290.1Z" fill="url(#g64)"/>
<path d="M269.2,291.6h0M271.9,288.8h0M271.3,290.8h0M279.7,292.3h0M269,286.5h0M270.1,291.7h0M282.4,288.2h0M280.4,290.6h0M276.5,289.8h0M275,290.9h0M277.1,288.5h0M271.5,288.4h0M279.9,289.2h0M282.1,289h0M272,289.4h0M274.2,290.7h0M268.7,292.3h0M277.1,292.6h0M269.5,287.6h0M281.9,289.6h0M272.8,289.6h0M273.3,292.4h0M272.2,290.2h0M276.7,290.5h0M271.4,287.4h0M281.2,287.1h0M272.9,290.3h0M271.2,291.8h0M274.3,292.9h0M283.5,288.3h0M268.6,287.2h0M269.9,289.3h0M271.2,288.3h0M271.6,290.3h0" stroke="#1c6bf0" stroke-width="0.9" stroke-linecap="round" fill="none" opacity="0.75"/>
<path d="M277.6,287.6h0M279.2,288.8h0M281.5,290.9h0M272.6,292.4h0M283.4,288.9h0M279.2,291.7h0M275.7,288.7h0M278.8,289.8h0M277.9,289.8h0M279.4,292.2h0M270,289.7h0M282.1,288h0M281.2,289.4h0M277.1,288.2h0M278.2,292.2h0M273,289.3h0M277.3,291.2h0M276,289.7h0M273.4,292h0M280.5,287.5h0M280.1,289.5h0M281.8,287.8h0M282.6,289.8h0" stroke="#f20b5e" stroke-width="0.9" stroke-linecap="round" fill="none" opacity="0.75"/>
<text x="184.8" y="300.92" font-size="5.4" fill="#111">McClear</text>
<path d="M249.1,299 267,298.6 267.8,298.5 268.5,298.3 269.2,298.2 270,298.2 270.7,298.1 271.4,298 272.2,298.1 272.9,297.8 273.6,297.7 274.4,297.2 275.3,297 276,296.2 276.7,295.9 277.3,295.5 277.9,295.5 279,295.9 279.7,296.3 280.3,297.2 281,297.7 281.7,297.5 282.5,297.8 283.2,297.9 284,297.8 284.8,298.1 285.5,297.8 286.3,297.9 287,297.8 287.8,297.8 288.6,297.8 289.3,298 290.1,297.8 290.9,297.8 291.6,297.8 292.4,298 293.2,297.9 293.9,298 294.7,297.8 295.4,297.9 296.2,297.9 296.9,298.1 297.7,297.8 298.4,298 299.2,298.1 299.9,298.2 300.7,297.9 301.4,298.1 302.2,298.1 302.9,297.9 303.6,298 304.4,298.2 305.1,298.2 305.9,298.1 306.6,298 307.4,298 308.1,298.1 308.9,298 309.6,298.1 310.4,298.2 311.1,298.2 311.9,298.1 312.6,298.3 313.4,298.4 314.2,298.2 314.9,298.1 315.7,298.2 316.5,298.4 317.2,298.2 318,298.4 318.7,298.5 319.5,298.5 320.3,298.5 321,298.4 321.8,298.6 322.5,298.6 323.3,298.6 324.1,298.6 329.1,299 329.1,300.3 324.1,300.7 323.3,300.7 322.5,300.7 321.8,300.9 321,300.8 320.3,300.8 319.5,300.8 318.7,301 318,301 317.2,301 316.5,301 315.7,301.1 314.9,300.9 314.2,300.9 313.4,300.9 312.6,301.1 311.9,301 311.1,301.2 310.4,301 309.6,301.2 308.9,301.3 308.1,301 307.4,301.1 306.6,301.1 305.9,301.4 305.1,301.3 304.4,301.1 303.6,301.1 302.9,301.3 302.2,301.2 301.4,301.4 300.7,301.4 299.9,301.4 299.2,301.4 298.4,301.1 297.7,301.2 296.9,301.3 296.2,301.4 295.4,301.3 294.7,301.4 293.9,301.5 293.2,301.2 292.4,301.3 291.6,301.4 290.9,301.4 290.1,301.5 289.3,301.5 288.6,301.4 287.8,301.2 287,301.2 286.3,301.5 285.5,301.2 284.8,301.4 284,301.4 283.2,301.2 282.5,301.5 281.7,301.5 281,302 280.3,302.3 279.7,302.8 279,303 277.9,303.8 277.3,303.5 276.7,303.1 276,302.5 275.3,302.3 274.4,301.8 273.6,301.5 272.9,301.2 272.2,301.2 271.4,301.2 270.7,301.1 270,300.9 269.2,300.9 268.5,300.7 267.8,300.8 267,300.7 249.1,300.3Z" fill="url(#g65)"/>
<line x1="331.05" x2="332.04" y1="299.63" y2="299.63" stroke="#fa0550" stroke-width="1.5" stroke-linecap="round"/>
<line x1="336.03" x2="336.77" y1="299.63" y2="299.63" stroke="#fa0550" stroke-width="1.5" stroke-linecap="round"/>
<text x="184.8" y="311.52" font-size="5.4" fill="#111">Channel 1</text>
<path d="M242.1,309.3 242.9,309.3 243.6,309.3 244.4,309.3 245.2,309.3 245.9,309.2 246.7,309.2 247.4,309.2 248.2,309.1 249,309.1 249.7,309.1 250.5,309.1 251.2,309 252,309 252.7,309 253.5,308.9 254.3,308.9 255,308.9 255.8,308.9 256.5,308.8 257.3,308.7 258.1,308.8 258.8,308.7 259.6,308.8 260.3,308.7 261.1,308.6 261.9,308.5 262.6,308.4 263.4,308.5 264.2,308.5 264.9,308.2 265.7,308.4 266.5,308.1 267.2,308 268,308.3 268.8,308.1 269.5,308 270.2,307.7 270.9,307.8 271.7,307.6 272.4,307.5 273.1,306.8 273.8,306.6 274.5,306.6 275.3,306.2 276,306.8 276.7,306.5 277.4,305.9 278.1,306.4 278.8,306.2 279.6,305.6 280.3,305.7 281,305.1 281.7,305.3 282.4,306 283.1,305.1 283.9,305.3 284.6,305.1 285.3,305.6 286,305.7 286.7,305.3 287.5,305.1 288.2,305.4 288.9,305.5 289.7,305.6 290.4,305.3 291.1,305.6 291.9,306.3 292.6,306.2 293.3,306.2 294.1,305.8 294.9,306.5 295.7,306.2 296.5,306.6 297.3,307 298.1,306.8 298.9,307.5 299.7,307.4 300.5,307.4 301.3,307.2 302.1,307.3 302.9,307.6 303.6,307.7 304.4,307.7 305.1,307.8 305.9,307.7 306.6,307.5 307.4,307.9 308.1,307.5 308.9,307.8 309.6,307.6 310.4,307.5 311.1,307.8 311.8,308 312.5,307.8 313.2,308 313.9,308 314.6,308.2 315.3,308.5 316,308.6 316.7,308.8 317.4,308.9 318.1,309.2 318.8,309.3 318.8,310.6 318.1,310.7 317.4,311 316.7,311.1 316,311.4 315.3,311.4 314.6,311.7 313.9,311.8 313.2,311.6 312.5,311.7 311.8,312 311.1,311.9 310.4,312.2 309.6,312 308.9,312.1 308.1,312.4 307.4,312.4 306.6,312.2 305.9,312.1 305.1,312.4 304.4,312.3 303.6,312.3 302.9,312.1 302.1,312.2 301.3,312.7 300.5,312.6 299.7,312.4 298.9,312.9 298.1,312.7 297.3,313.3 296.5,313.5 295.7,313 294.9,313.6 294.1,313.8 293.3,313.5 292.6,313.7 291.9,313.7 291.1,314.2 290.4,314.2 289.7,314.4 288.9,314.3 288.2,314.5 287.5,314.2 286.7,315 286,313.9 285.3,314.5 284.6,314.5 283.9,314.4 283.1,314.5 282.4,314.8 281.7,314.5 281,314.5 280.3,313.9 279.6,313.8 278.8,314.2 278.1,314 277.4,313.3 276.7,314 276,313.9 275.3,313 274.5,313 273.8,313.3 273.1,312.5 272.4,312.9 271.7,312.3 270.9,312.2 270.2,312 269.5,312 268.8,311.6 268,311.6 267.2,311.6 266.5,311.8 265.7,311.7 264.9,311.4 264.2,311.6 263.4,311.3 262.6,311.3 261.9,311.4 261.1,311.3 260.3,311.3 259.6,311.2 258.8,311.2 258.1,311.2 257.3,311 256.5,311.1 255.8,311 255,311 254.3,311 253.5,310.9 252.7,310.9 252,310.9 251.2,310.9 250.5,310.8 249.7,310.8 249,310.8 248.2,310.7 247.4,310.7 246.7,310.7 245.9,310.7 245.2,310.6 244.4,310.6 243.6,310.6 242.9,310.6 242.1,310.6Z" fill="url(#g66)"/>
<path d="M279.6,313.1h0M290.4,308.8h0M289.7,307.8h0M276.8,311.3h0M288.7,311.3h0M293.1,310.9h0M289.8,309.9h0M285.1,309.3h0M281.9,307.9h0M289.3,312.7h0M289.3,311.9h0M287.3,308.8h0M285.8,310.7h0M287.6,308.1h0M275.4,311.5h0M286.7,310.2h0M280.8,307.9h0M282.5,311.1h0M282.4,306.5h0M290.6,307.3h0M284.6,310.1h0M275.9,310.9h0M275.5,309.8h0M294.7,307.4h0M286.3,308.1h0M290.7,311.5h0M273.8,308.4h0M281,311.7h0M290,307.5h0M287.8,309.5h0M283.4,307.2h0M280.1,312.2h0M287,308.7h0M284.7,310.4h0M285.1,307.2h0M281.6,307.3h0M274.8,310.5h0" stroke="#1c6bf0" stroke-width="0.9" stroke-linecap="round" fill="none" opacity="0.75"/>
<path d="M277.2,312.5h0M276.5,309.2h0M275.6,311.6h0M275.6,311.2h0M278,312.2h0M283.4,308.2h0M274.4,310.7h0M273.7,311.6h0M281.2,310.1h0M291.4,307.5h0M277.1,312.7h0M285.6,309.2h0M287.6,311.9h0M289.5,307.4h0M275.4,311.1h0M289.8,310.9h0M282.4,311.2h0M275.1,310h0M276,312.2h0M278.2,309.4h0M293.3,310.3h0M275.1,310.2h0M290,307.3h0M281.1,313.4h0M284.7,309h0M275.4,309.5h0M282,310h0M288.6,307.8h0M292.1,307.3h0M293.6,310.6h0M293.4,309.6h0M274.2,311.4h0M284.6,310.7h0M277.3,310.4h0M278.9,312h0M279.4,307.7h0M281.2,312.6h0M292.5,312.4h0M283,308.1h0M285,313.5h0M281.1,313.2h0M290.2,309.8h0M293,310.7h0M274.8,308.2h0M278.1,310.8h0" stroke="#f20b5e" stroke-width="0.9" stroke-linecap="round" fill="none" opacity="0.75"/>
<text x="184.8" y="321.92" font-size="5.4" fill="#111">Channel 7</text>
<path d="M242.9,319.5 258.8,319.1 259.6,319.1 260.3,319 261,319.1 261.8,319 262.5,319 263.2,319 264,318.9 264.7,318.9 265.4,318.7 266.2,318.8 266.9,318.7 267.6,318.8 268.4,318.7 269.1,318.6 269.8,318.7 270.6,318.8 271.3,318.6 272,318.5 272.7,318.6 273.5,318.1 274.2,318.3 274.9,318.1 275.6,318.1 276.3,317.8 277.1,317.8 277.8,317.2 278.5,317.1 279.2,317.1 279.9,317.2 280.6,316.5 281.3,316.9 282.1,316.7 282.8,315.9 283.5,315.5 284.2,316.2 284.9,316.2 285.6,315.7 286.4,315.5 287.1,315.9 287.8,315.2 288.5,315.6 289.2,315.3 290,315.1 290.8,315 291.6,315.4 292.4,315.1 293.2,316 294,316.1 294.9,315.2 295.7,315.3 296.6,315.7 297.3,316.3 298.1,315.9 298.9,316.6 299.7,316.5 300.4,316.2 301.1,316.5 301.8,316.9 302.5,317.1 303.2,317.1 303.9,317.6 304.6,317.8 305.4,317.7 306.1,318 306.9,318 307.6,318.1 308.3,318.5 309,318.5 309.7,318.7 310.4,318.8 311.1,319 311.9,319 312.7,319.2 313.5,319.3 314.3,319.4 315.1,319.5 315.1,320.8 314.3,320.8 313.5,320.9 312.7,321.1 311.9,321.2 311.1,321.3 310.4,321.4 309.7,321.6 309,321.6 308.3,322 307.6,322.1 306.9,322 306.1,322.5 305.4,322.6 304.6,322.3 303.9,322.9 303.2,323.2 302.5,323 301.8,323.3 301.1,323.8 300.4,323.8 299.7,323.7 298.9,324.1 298.1,324.1 297.3,323.8 296.6,324.4 295.7,324.5 294.9,324.7 294,325.1 293.2,325.2 292.4,324.5 291.6,325.3 290.8,324.8 290,324.9 289.2,324.6 288.5,324.2 287.8,324.1 287.1,324.7 286.4,324.5 285.6,324.4 284.9,324.5 284.2,324 283.5,324.7 282.8,324 282.1,324.3 281.3,323.5 280.6,323.5 279.9,323.1 279.2,322.9 278.5,322.6 277.8,323.1 277.1,322.7 276.3,322.7 275.6,322.2 274.9,322.4 274.2,322.2 273.5,321.8 272.7,321.8 272,321.5 271.3,321.5 270.6,321.7 269.8,321.5 269.1,321.6 268.4,321.5 267.6,321.3 266.9,321.3 266.2,321.4 265.4,321.5 264.7,321.4 264,321.5 263.2,321.3 262.5,321.1 261.8,321.2 261,321.3 260.3,321.2 259.6,321.2 258.8,321.1 242.9,320.8Z" fill="url(#g67)"/>
<path d="M268.7,319.1h0M253,320.1h0" stroke="#1c6bf0" stroke-width="0.9" stroke-linecap="round" fill="none" opacity="0.75"/>
<path d="M265.2,320.5h0M247.8,320.2h0M248.3,320.5h0M249.1,320.2h0M260.8,320.6h0M270.8,320.5h0M250.3,320.4h0M270.3,320.7h0M266.2,319.9h0M266.9,319.3h0M261.5,320.4h0M262.5,320.5h0M264.3,320.8h0M260.5,320.1h0M254.1,319.9h0M263.6,319.5h0M259.9,320.4h0M248,320h0M249.6,320.6h0M258.8,319.4h0" stroke="#f20b5e" stroke-width="0.9" stroke-linecap="round" fill="none" opacity="0.75"/>
<path d="M286.9,321.2h0M287.2,322.6h0M289.2,319.8h0M293,316.8h0M299.5,318.8h0M300.5,318h0M283.4,319.7h0M294,322.9h0M282.6,319.7h0M288.6,321.2h0M294.5,322h0M296.6,318.9h0M300.2,319.3h0M289.7,322.8h0M286.2,323.1h0M294,320h0M297.3,321.8h0M291.6,322.4h0M287.7,321.4h0M287.8,319h0M295,321.9h0M295,318.1h0M290.6,319.1h0M300.4,322.5h0M291.7,321.9h0M287.4,319.5h0M291.6,321.2h0M295.9,322.7h0M290.3,318h0M297.8,321h0M293.3,317.8h0M287.3,320.6h0M291.2,318.8h0M295.6,319.2h0M282.5,322.3h0M285.1,316.9h0" stroke="#1c6bf0" stroke-width="0.9" stroke-linecap="round" fill="none" opacity="0.75"/>
<path d="M290,318.4h0M294.3,320.2h0M292.9,317h0M290,322h0M293.5,316.4h0M287.6,318.2h0M292,319.2h0M280.3,318.1h0M295.1,323.4h0M292.7,323h0M282.7,318h0M292.8,316.5h0M295.3,323.6h0M287.5,318.9h0M300.8,319.7h0M286.3,321.7h0M288.7,322.3h0M295.7,321.5h0M299.2,322.9h0M287.9,316.5h0M287.3,316.5h0M287.4,322.1h0M289.8,320h0M295.3,318.9h0M298.8,322.9h0M292.5,316.6h0M299.4,317.4h0M291.9,323.8h0M282.2,322.3h0M289.4,323.7h0M296.1,319.3h0M294.1,319.2h0M290.2,321.2h0M285.7,316.7h0M290.9,321.2h0M298.6,319.4h0M288,321.7h0M287,319.5h0M281,322.8h0M295.4,319.1h0M297.6,320.4h0M294.3,320.5h0M279.9,322.5h0M288.4,323.1h0M292.4,316.4h0M288.5,320.6h0M285.4,320.3h0" stroke="#f20b5e" stroke-width="0.9" stroke-linecap="round" fill="none" opacity="0.75"/>
<text x="184.8" y="332.32" font-size="5.4" fill="#111">Channel 4</text>
<path d="M266.8,329.7 267.5,329.7 268.3,329.7 269,329.7 269.8,329.7 270.5,329.7 271.3,329.6 272,329.6 272.8,329.6 273.5,329.5 274.3,329.5 275,329.5 275.8,329.4 276.5,329.4 277.2,329.4 278,329.4 278.7,329.3 279.5,329.4 280.2,329.3 281,329.3 281.7,329.3 282.6,328.9 283.4,328.9 284.3,328.4 285.1,328 285.8,327.9 286.5,327.5 287.1,326.6 287.7,325.3 288.5,326.4 289.2,327.2 290,327.8 290.7,328.2 291.5,328.6 292.3,328.5 293.1,328.9 293.9,329.2 294.7,329.3 309.4,329.7 309.4,331.1 294.7,331.5 293.9,331.6 293.1,331.8 292.3,332 291.5,332.3 290.7,332.4 290,333 289.2,333.7 288.5,334.4 287.7,335.3 287.1,334.7 286.5,333.3 285.8,333 285.1,332.7 284.3,332.1 283.4,331.9 282.6,331.9 281.7,331.5 281,331.6 280.2,331.6 279.5,331.4 278.7,331.5 278,331.4 277.2,331.4 276.5,331.4 275.8,331.3 275,331.3 274.3,331.3 273.5,331.2 272.8,331.2 272,331.2 271.3,331.2 270.5,331.1 269.8,331.1 269,331.1 268.3,331 267.5,331 266.8,331Z" fill="url(#g68)"/>
<line x1="314.36" x2="315.85" y1="330.39" y2="330.39" stroke="#fa0550" stroke-width="1.5" stroke-linecap="round"/>
<line x1="317.6" x2="320.09" y1="330.39" y2="330.39" stroke="#fa0550" stroke-width="1.5" stroke-linecap="round"/>
<text x="184.8" y="342.52" font-size="5.4" fill="#111">Channel 6</text>
<path d="M267.9,340.3 268.7,340.3 269.4,340.3 270.2,340.3 271,340.2 271.8,340.2 272.5,340.2 273.3,340.1 274.1,340.1 274.8,340.1 275.6,340 276.4,340 277.2,339.9 277.9,339.9 278.7,339.8 279.5,339.8 280.2,339.8 281,339.7 281.9,339.4 282.7,339 283.5,338.9 284.2,338.4 285,337.5 285.6,337.3 286.2,336.9 286.8,336.7 287.5,337.9 288.2,338.1 288.9,338.8 289.6,338.9 290.3,339.1 291,339.3 291.7,339.7 292.4,339.9 293.2,339.8 294,339.9 294.7,339.9 295.5,339.9 296.3,340 297,340 297.8,340.1 298.5,340.1 299.3,340.1 300.1,340.2 300.8,340.2 301.6,340.2 302.4,340.3 303.1,340.3 303.9,340.3 304.6,340.3 304.6,341.6 303.9,341.6 303.1,341.6 302.4,341.7 301.6,341.7 300.8,341.7 300.1,341.8 299.3,341.8 298.5,341.9 297.8,341.9 297,341.9 296.3,342 295.5,342 294.7,342.1 294,342 293.2,342.1 292.4,342.3 291.7,342.4 291,342.5 290.3,342.8 289.6,343 288.9,342.9 288.2,343.5 287.5,343.9 286.8,344.4 286.2,345.4 285.6,344.7 285,344.4 284.2,343.9 283.5,343 282.7,342.8 281.9,342.7 281,342.4 280.2,342.2 279.5,342.1 278.7,342 277.9,342.1 277.2,342 276.4,342 275.6,341.9 274.8,341.9 274.1,341.9 273.3,341.8 272.5,341.8 271.8,341.7 271,341.7 270.2,341.7 269.4,341.6 268.7,341.6 267.9,341.6Z" fill="url(#g69)"/>
<text x="184.8" y="353.12" font-size="5.4" fill="#111">Channel 5</text>
<path d="M274.1,350.3 274.9,350.3 275.7,350.2 276.4,350.1 277.2,350 277.9,350 278.7,349.9 279.5,349.8 280.2,349.8 281,349.6 281.7,349.1 282.5,348.5 283.1,348.4 283.7,347.7 284.4,346.8 285.1,346.2 285.8,347.1 286.5,347.7 287.1,347.9 287.7,348.6 288.4,348.7 289.2,348.9 290,349.1 290.9,349.6 291.7,349.7 292.4,349.9 293.2,349.9 293.9,350 294.7,350.1 295.4,350.1 296.2,350.2 296.9,350.3 297.7,350.3 297.7,351.6 296.9,351.6 296.2,351.7 295.4,351.7 294.7,351.8 293.9,351.9 293.2,352 292.4,352 291.7,352.1 290.9,352.3 290,352.4 289.2,352.9 288.4,353.2 287.7,353.7 287.1,353.8 286.5,353.8 285.8,354.8 285.1,355.1 284.4,354.9 283.7,354.1 283.1,353.7 282.5,353.3 281.7,352.7 281,352.3 280.2,352.1 279.5,352.2 278.7,352 277.9,351.9 277.2,351.8 276.4,351.8 275.7,351.7 274.9,351.6 274.1,351.6Z" fill="url(#g70)"/>
<text x="184.8" y="363.32" font-size="5.4" fill="#111">Channel 2</text>
<path d="M274.9,360.1 283.5,359.8 284.1,359.4 284.7,358.9 285.7,358 286.7,356.6 287.7,357.9 288.5,358.3 289.2,358.9 290,359.1 290.8,359.4 291.6,359.4 292.4,359.8 298.9,360.1 298.9,361.4 292.4,361.8 291.6,361.9 290.8,362.1 290,362.6 289.2,362.5 288.5,363.1 287.7,363.7 286.7,364.8 285.7,364 284.7,362.7 284.1,362.3 283.5,361.8 274.9,361.4Z" fill="url(#g71)"/>
<text x="184.8" y="373.52" font-size="5.4" fill="#111">Channel 3</text>
<path d="M276.1,371.1 276.8,371 277.5,370.9 278.2,370.8 278.9,370.7 279.6,370.6 280.3,370.5 281,370.5 281.7,370.1 282.5,369.7 283.2,369.5 283.8,369 284.5,368.7 285.2,368 285.9,367.3 286.7,367.2 287.5,368.3 288.3,368.9 289.2,369 290,369.5 290.9,370.3 291.7,370.6 292.4,370.6 293.2,370.7 293.9,370.8 294.7,370.9 295.4,371 296.2,371 296.9,371.1 296.9,372.4 296.2,372.4 295.4,372.5 294.7,372.6 293.9,372.6 293.2,372.7 292.4,372.8 291.7,373 290.9,373.5 290,373.6 289.2,374.1 288.3,374.5 287.5,374.8 286.7,375.9 285.9,376.2 285.2,376.2 284.5,374.9 283.8,374.4 283.2,374.1 282.5,373.5 281.7,373.3 281,373.1 280.3,373 279.6,372.9 278.9,372.7 278.2,372.6 277.5,372.5 276.8,372.4 276.1,372.4Z" fill="url(#g72)"/>
<line x1="272.02" x2="272.76" y1="371.71" y2="371.71" stroke="#046ef2" stroke-width="1.5" stroke-linecap="round"/>
<line x1="273.76" x2="274.51" y1="371.71" y2="371.71" stroke="#046ef2" stroke-width="1.5" stroke-linecap="round"/>
<rect x="349.35" y="281" width="1.3" height="99.6" fill="url(#cb)"/>
<text x="352.8" y="282.71" font-size="5.15" fill="#111">High</text>
<text x="352.8" y="383.91" font-size="5.15" fill="#111">Low</text>
<text transform="translate(363.75,331) rotate(-90)" font-size="4.35" text-anchor="middle" class="sf" fill="#000">Feature value</text>
<line x1="479.43" x2="479.43" y1="279.21" y2="381.33" stroke="#c0c0c0" stroke-width="0.6"/>
<line x1="403.46" x2="523.76" y1="381.33" y2="381.33" stroke="#888" stroke-width="0.6"/>
<line x1="423.26" x2="423.26" y1="381.33" y2="382.43" stroke="#aaa" stroke-width="0.5"/>
<text x="423.26" y="388.19" font-size="5.7" text-anchor="middle" fill="#111">300</text>
<text x="418.59" y="388.19" font-size="5.7" text-anchor="end" fill="#555">-</text>
<line x1="442.19" x2="442.19" y1="381.33" y2="382.43" stroke="#aaa" stroke-width="0.5"/>
<text x="442.19" y="388.19" font-size="5.7" text-anchor="middle" fill="#111">200</text>
<text x="437.52" y="388.19" font-size="5.7" text-anchor="end" fill="#555">-</text>
<line x1="461.24" x2="461.24" y1="381.33" y2="382.43" stroke="#aaa" stroke-width="0.5"/>
<text x="461.24" y="388.19" font-size="5.7" text-anchor="middle" fill="#111">100</text>
<text x="456.57" y="388.19" font-size="5.7" text-anchor="end" fill="#555">-</text>
<line x1="479.43" x2="479.43" y1="381.33" y2="382.43" stroke="#aaa" stroke-width="0.5"/>
<text x="479.43" y="388.19" font-size="5.7" text-anchor="middle" fill="#111">0</text>
<line x1="498.6" x2="498.6" y1="381.33" y2="382.43" stroke="#aaa" stroke-width="0.5"/>
<text x="498.6" y="388.19" font-size="5.7" text-anchor="middle" fill="#111">100</text>
<line x1="517.03" x2="517.03" y1="381.33" y2="382.43" stroke="#aaa" stroke-width="0.5"/>
<text x="517.03" y="388.19" font-size="5.7" text-anchor="middle" fill="#111">200</text>
<text x="367.4" y="292.34" font-size="5.45" fill="#111">Channel 7</text>
<path d="M409.2,289.5 442.8,289.3 443.6,289.2 444.3,289.1 445.1,288.9 445.8,288.7 446.5,288.6 447.3,288.8 448,288.6 448.8,288.8 449.5,288.5 450.3,288.7 451,288.5 451.8,288.3 452.5,288.2 453.3,288.4 454,288.3 454.8,288.1 455.5,288.3 456.3,288.1 457,288.1 457.8,288 458.5,288 459.3,287.9 460,288.3 460.7,288 461.5,287.8 462.2,288 463,287.7 463.7,287.7 464.5,287.8 465.2,287.6 466,287.8 466.7,288 467.5,288 468.2,287.8 469,287.5 469.7,287.5 470.5,287.6 471.2,287.3 471.9,287.7 472.6,287.6 473.3,287.1 474,286.9 474.7,287.3 475.5,286.8 476.3,287 477.1,287.5 477.8,287.4 478.6,288 479.4,287.9 480.1,288.1 480.9,288 481.6,288 482.3,287.9 483,287.9 483.7,287.5 484.5,287.4 485.2,287.3 485.9,287.3 486.6,287.1 487.3,287.2 488.1,287.3 488.8,286.9 489.5,287.2 490.2,286.4 490.9,286.7 491.7,286.8 492.4,286 493.1,286.5 493.8,286.5 494.5,285.9 495.2,285.8 495.8,285.1 496.5,286.1 497.2,285.5 497.9,285.4 498.7,286.5 499.4,286.3 500.1,286.3 500.8,286.7 501.5,286.5 502.2,286.6 502.9,286.9 503.6,287.2 504.3,286.9 505,287.4 505.8,287.2 506.5,287 507.2,287.3 507.9,287.3 508.7,287.6 509.4,287.5 510.1,287.8 510.9,287.7 511.6,288 512.3,288.3 513.1,288.4 513.8,288.4 514.5,288.5 515.3,288.9 516,289 516.8,289.2 517.5,289.4 518.3,289.5 518.3,290.8 517.5,290.9 516.8,291.1 516,291.4 515.3,291.5 514.5,291.7 513.8,292 513.1,292.2 512.3,292.3 511.6,292.4 510.9,292.2 510.1,292.6 509.4,292.7 508.7,292.5 507.9,293 507.2,292.8 506.5,292.8 505.8,293.1 505,293.3 504.3,293.6 503.6,293.2 502.9,293.8 502.2,293.2 501.5,293.8 500.8,293.6 500.1,293.6 499.4,294.1 498.7,294.8 497.9,293.9 497.2,294.2 496.5,294.3 495.8,294.7 495.2,294.9 494.5,294.6 493.8,294 493.1,293.9 492.4,294.2 491.7,293.5 490.9,293.7 490.2,293.6 489.5,293.2 488.8,293.3 488.1,293.3 487.3,293.5 486.6,292.9 485.9,293.2 485.2,292.7 484.5,292.8 483.7,292.6 483,292.7 482.3,292.9 481.6,292.7 480.9,292.4 480.1,292.4 479.4,292.2 478.6,292.4 477.8,292.8 477.1,293 476.3,293.2 475.5,293.2 474.7,293.6 474,293.3 473.3,292.9 472.6,292.7 471.9,293.1 471.2,292.8 470.5,292.9 469.7,292.6 469,292.8 468.2,292.5 467.5,292.6 466.7,292.6 466,292.2 465.2,292.6 464.5,292.6 463.7,292.5 463,292.2 462.2,292.3 461.5,292.2 460.7,292.2 460,292.1 459.3,292.3 458.5,292 457.8,292.2 457,292.2 456.3,292.2 455.5,291.8 454.8,292.2 454,292 453.3,291.8 452.5,292 451.8,291.8 451,291.6 450.3,291.6 449.5,291.6 448.8,291.7 448,291.7 447.3,291.6 446.5,291.6 445.8,291.5 445.1,291.3 444.3,291.2 443.6,291.1 442.8,291 409.2,290.8Z" fill="url(#g73)"/>
<path d="M459.8,291.4h0M463.5,288.9h0M455.4,288.8h0M464.3,290.8h0M456.8,288.7h0M459.2,291.7h0M455,289.7h0M468.7,290.5h0M458.6,289.8h0M452,291h0M453.1,288.8h0M466.2,288.5h0M455.3,291.2h0M454.2,289.9h0M470,289.3h0M462.9,289.3h0M471.4,290.2h0M457.5,290.4h0M458.8,290.3h0M451.7,291.1h0M464.3,289.8h0M476.1,289.3h0M452.3,291.1h0M471.6,289.7h0M450.9,289.8h0M449.1,290.5h0M469.5,289.4h0M454.7,290.8h0M477.1,289.8h0M462.4,290h0M453.2,290.8h0M450.5,290.3h0M458.6,290h0M451.3,290.6h0M448.1,291.2h0M453.1,289.6h0M462.4,291.5h0M465.3,290.6h0M472.4,290.1h0M457.8,291.1h0M458.9,290.6h0M467.9,290.8h0M459.9,291.3h0M463.8,289.6h0M469.5,292.1h0M458.1,290.7h0M458.1,291.5h0M469.5,291.4h0" stroke="#1c6bf0" stroke-width="0.9" stroke-linecap="round" fill="none" opacity="0.75"/>
<path d="M466.9,289.8h0M474.9,288.4h0M458.5,290.7h0M474.2,292.4h0M474.8,288.2h0M460.7,290.8h0M448.3,289.1h0M476.9,288.4h0M469.4,290.4h0M476.9,290h0M473.5,289h0M476,291.5h0M479.6,288.5h0M463.9,288.6h0M457.7,290h0M458.9,289.7h0M461.6,289.7h0M464.2,289.3h0M457.2,290.3h0M466.9,288.8h0" stroke="#f20b5e" stroke-width="0.9" stroke-linecap="round" fill="none" opacity="0.75"/>
<path d="M496.7,290.1h0M497.4,292.3h0M496.1,287.3h0M487.1,288.3h0M488.6,289.1h0M493.3,288.3h0M505.7,291.5h0M506.1,290.9h0M502.6,288.2h0M508.3,288.7h0M492.6,289.5h0M495,288.9h0" stroke="#1c6bf0" stroke-width="0.9" stroke-linecap="round" fill="none" opacity="0.75"/>
<path d="M501.5,291h0M504.5,290.3h0M509.9,291.1h0M506.3,291h0M509,291.7h0M507.4,291.6h0M495.9,288.3h0M494.8,290.9h0M506.2,290h0M507.6,288.2h0M497.6,290.7h0M501.7,290.9h0M505.5,289.1h0M500.3,292.2h0M500.7,289.7h0M499,289.2h0M497.6,287.9h0M496,292.1h0M498.4,291.4h0M494.2,286.9h0M490.3,290.7h0M503.5,288.2h0M504.1,292h0M503.4,289.5h0M502.9,289.7h0M496.8,289.9h0M490,292.3h0M507.4,288.6h0M500.4,288.6h0M491.1,291.4h0M500.2,287.6h0M499.3,292.9h0M501.9,291.9h0M493.3,287.3h0M502.2,290.9h0M497.2,293.2h0M489.7,292.6h0M507.6,292.2h0M490.1,290.1h0M495.6,292.2h0M509.4,289h0M506,288.9h0M492.9,289.6h0M492.2,292.1h0M496.8,291.9h0M509.1,292h0M495.7,292h0M490.8,290.4h0M501.7,288h0M491.8,292h0M496.9,292.9h0M497,293.6h0M499.2,291.1h0M501.3,289.7h0M499.6,291.6h0M502.9,289.6h0M504.6,290.3h0M503.1,287.9h0M503.4,287.8h0M498.4,293.3h0M496.1,289h0M504.6,290h0M509.9,291.1h0M504,290.1h0M496.3,293.4h0" stroke="#f20b5e" stroke-width="0.9" stroke-linecap="round" fill="none" opacity="0.75"/>
<text x="367.4" y="301.94" font-size="5.45" fill="#111">McClear</text>
<path d="M456,299.3 456.7,299.3 457.5,299.3 458.2,299.2 458.9,299.2 459.7,299.1 460.4,299.1 461.1,299 461.8,299 462.6,299 463.3,298.9 464,298.8 464.8,298.9 465.5,298.6 466.2,298.5 466.9,298.4 467.6,298.3 468.3,298.4 469,298.1 469.7,298 470.5,297.7 471.1,297.8 471.8,297.2 472.5,296.8 473.2,296.9 473.9,296.7 474.6,295.9 475.3,295.5 476.1,295.5 476.9,295.8 477.7,296.8 478.5,296.6 479.3,296.8 480.2,297 481,296.9 481.9,297.3 482.7,297.1 483.5,297.6 484.3,297.6 485.1,297.8 485.9,298 486.7,297.9 487.4,298 488.2,298 489,297.7 489.7,298 490.5,298 491.2,298.1 492,297.8 492.8,297.8 493.5,298.1 494.3,298.2 495.1,298 495.8,298 496.6,298 497.4,298.3 498.1,298.3 498.9,298.1 499.6,298.3 500.4,298.4 501.1,298.4 501.9,298.5 502.7,298.6 503.4,298.5 504.2,298.4 504.9,298.7 505.7,298.6 506.4,298.8 507.2,298.7 508,298.9 508.8,299 509.6,299.1 510.4,299.2 511.2,299.3 512.1,299.3 512.1,300.6 511.2,300.6 510.4,300.7 509.6,300.8 508.8,300.9 508,301 507.2,301.2 506.4,301.3 505.7,301.3 504.9,301.2 504.2,301.2 503.4,301.3 502.7,301.5 501.9,301.4 501.1,301.6 500.4,301.7 499.6,301.5 498.9,301.7 498.1,301.9 497.4,301.9 496.6,301.8 495.8,301.7 495.1,301.8 494.3,302 493.5,301.7 492.8,302.1 492,302.1 491.2,301.9 490.5,302 489.7,302.2 489,302 488.2,301.8 487.4,302.1 486.7,302.2 485.9,302.2 485.1,302.4 484.3,302.1 483.5,302.3 482.7,302.4 481.9,302.9 481,303 480.2,302.6 479.3,303.2 478.5,303.1 477.7,303.6 476.9,303.8 476.1,304 475.3,303.9 474.6,303.6 473.9,303.6 473.2,303.2 472.5,303.1 471.8,302.6 471.1,302.2 470.5,302 469.7,302 469,301.7 468.3,301.8 467.6,301.7 466.9,301.4 466.2,301.2 465.5,301.1 464.8,301.1 464,301.1 463.3,301 462.6,301 461.8,300.9 461.1,300.9 460.4,300.8 459.7,300.8 458.9,300.7 458.2,300.7 457.5,300.6 456.7,300.6 456,300.6Z" fill="url(#g74)"/>
<line x1="513.55" x2="514.54" y1="299.96" y2="299.96" stroke="#fa0550" stroke-width="1.5" stroke-linecap="round"/>
<line x1="515.29" x2="516.29" y1="299.96" y2="299.96" stroke="#fa0550" stroke-width="1.5" stroke-linecap="round"/>
<path d="M473.2,299.6h0M471.6,301.5h0M472.1,298.8h0M474.3,300.3h0M471.5,300.5h0M476.8,302.2h0M470.3,300.2h0M470,300.6h0M471.2,299.8h0M472,300.4h0M469.4,298.8h0M470.4,300.1h0M474.4,299.5h0M472.7,297.7h0M474.4,301.6h0M469.2,300.6h0M477.5,300.3h0M474.2,301.6h0M478.5,297.7h0" stroke="#1c6bf0" stroke-width="0.9" stroke-linecap="round" fill="none" opacity="0.75"/>
<path d="M477.9,301.8h0M470.4,299.7h0M471.7,298.9h0M478.1,299.2h0M475.2,302.6h0M476.7,297.6h0M478.2,300.4h0M473.8,301.1h0M477.9,300.1h0M474.9,301.1h0" stroke="#f20b5e" stroke-width="0.9" stroke-linecap="round" fill="none" opacity="0.75"/>
<text x="367.4" y="313.34" font-size="5.45" fill="#111">Channel 1</text>
<path d="M459,309.3 459.7,309.3 460.5,309.3 461.2,309.2 462,309.2 462.7,309.1 463.5,309.1 464.2,309 465,309 465.7,308.9 466.5,308.9 467.2,308.7 468,308.9 468.7,308.8 469.4,308.5 470.1,308.4 470.9,308 471.6,307.6 472.3,307.7 473,307.2 473.7,307.2 474.4,306.8 475.2,306.5 475.9,306.7 476.7,305.7 477.4,306.2 478.2,305.6 478.9,305.8 479.7,306.2 480.4,306.3 481.2,305.5 481.9,305.7 482.7,305.9 483.4,306.7 484.3,306.5 485.1,307.2 486,307.4 486.8,307.8 487.6,308.2 488.4,308 489.1,308.1 489.8,308.2 490.5,308.5 491.2,308.3 492,308.3 492.7,308.3 493.4,308.6 494.1,308.5 494.9,308.7 495.6,308.8 496.3,308.8 497,308.8 497.8,308.9 498.5,308.9 499.2,309 500,309 500.7,309.1 501.4,309.1 502.2,309.2 502.9,309.2 503.6,309.3 504.3,309.3 505.1,309.3 505.1,310.6 504.3,310.6 503.6,310.6 502.9,310.7 502.2,310.7 501.4,310.8 500.7,310.8 500,310.9 499.2,310.9 498.5,311 497.8,311 497,311 496.3,311.2 495.6,311.1 494.9,311.1 494.1,311.3 493.4,311.5 492.7,311.4 492,311.4 491.2,311.7 490.5,311.4 489.8,311.5 489.1,311.8 488.4,311.6 487.6,311.7 486.8,312.1 486,312.7 485.1,312.9 484.3,312.8 483.4,313.6 482.7,313.9 481.9,313.6 481.2,314.1 480.4,314.1 479.7,314.5 478.9,314.7 478.2,314.7 477.4,313.8 476.7,314.2 475.9,313.2 475.2,313.5 474.4,312.9 473.7,312.5 473,312.6 472.3,312.1 471.6,311.9 470.9,311.7 470.1,311.7 469.4,311.5 468.7,311.1 468,311.1 467.2,311 466.5,311 465.7,310.9 465,310.9 464.2,310.9 463.5,310.8 462.7,310.8 462,310.7 461.2,310.7 460.5,310.6 459.7,310.6 459,310.6Z" fill="url(#g75)"/>
<path d="M480.2,309.1h0M471.5,310.1h0M477.6,310.2h0M480.7,313h0M476.9,313.1h0M479.8,308.8h0M480.9,313h0M478.2,311.2h0M478.6,308.9h0M472.5,310.1h0M479.6,310.1h0M475,308.3h0M472.3,309.1h0M475.6,310.4h0M478.9,309h0M471.8,311.6h0M474,311.9h0M479.3,313.2h0M472.3,308.9h0" stroke="#1c6bf0" stroke-width="0.9" stroke-linecap="round" fill="none" opacity="0.75"/>
<path d="M477,306.8h0M479.8,313.1h0M476.9,309.4h0M473.1,308.8h0M471.5,309.6h0M472.4,310h0M474.8,310.7h0M474.3,309h0M475.6,312.7h0M476.9,309.3h0M479,309.6h0M475.7,311.6h0M472.7,310.1h0M475.5,309.6h0" stroke="#f20b5e" stroke-width="0.9" stroke-linecap="round" fill="none" opacity="0.75"/>
<text x="367.4" y="322.34" font-size="5.45" fill="#111">Observation</text>
<path d="M451,319.5 467.2,319.1 467.9,319 468.6,318.7 469.3,318.8 470,318.6 470.7,318.7 471.4,318.5 472.1,318.4 473,317.7 473.8,317.7 474.7,317.1 475.4,316.6 476.2,316.5 476.9,316 477.6,316.4 478.3,316.8 478.9,317.4 479.6,317.8 480.2,318.3 481,318.1 481.9,318.4 482.7,318.6 483.5,318.6 484.3,318.5 485.1,318.2 485.9,317.9 486.7,318 487.5,317.9 488.4,317.6 489.3,317.8 490.1,318.2 490.9,318.1 491.6,318.3 492.4,318.7 493.1,318.7 493.9,318.9 494.6,319 495.4,319.1 496.1,319.3 496.9,319.4 497.6,319.5 497.6,320.8 496.9,320.8 496.1,320.9 495.4,321.1 494.6,321.3 493.9,321.2 493.1,321.6 492.4,321.5 491.6,321.8 490.9,322.2 490.1,322 489.3,322.4 488.4,322.4 487.5,322.6 486.7,322.3 485.9,322.3 485.1,321.8 484.3,321.8 483.5,321.6 482.7,321.7 481.9,321.7 481,322 480.2,321.9 479.6,322.6 478.9,322.9 478.3,323.3 477.6,323.8 476.9,324.7 476.2,324 475.4,323.4 474.7,323.2 473.8,322.6 473,322.1 472.1,321.9 471.4,321.9 470.7,321.6 470,321.6 469.3,321.6 468.6,321.3 467.9,321.3 467.2,321.1 451,320.8Z" fill="url(#g76)"/>
<path d="M475.1,317.7h0M478.2,321.1h0M474.5,319.6h0M472.9,321.5h0M478.1,321h0M474.6,320.5h0M476.9,318.8h0" stroke="#1c6bf0" stroke-width="0.9" stroke-linecap="round" fill="none" opacity="0.75"/>
<path d="M477.5,319.5h0M474.3,318h0M478.5,321.1h0M474.1,318.3h0M478.1,318.2h0M474.2,321.8h0M478.6,319.6h0M474.7,319.4h0M478.7,322.3h0M475.7,321h0M475.4,322.3h0" stroke="#f20b5e" stroke-width="0.9" stroke-linecap="round" fill="none" opacity="0.75"/>
<text x="367.4" y="332.94" font-size="5.45" fill="#111">Channel 3</text>
<path d="M448.3,329.7 467.2,329.4 467.9,329.3 468.6,329.1 469.3,329.1 470,329 470.7,328.6 471.4,328.7 472.1,328.5 472.8,328 473.4,327.6 474.1,326.8 474.8,326.2 475.5,326.4 476.2,327.1 477,328.1 477.8,328.3 478.6,328.6 479.5,328.6 480.3,328.8 481.1,328.7 481.9,328.8 482.7,328.9 483.4,328.8 484.2,328.9 484.9,328.8 485.7,328.8 486.4,329 487.1,328.9 487.9,328.8 488.6,328.8 489.4,328.8 490.1,328.9 490.9,328.8 491.6,329 492.3,329.1 493,329.1 493.8,329.1 494.5,329.2 495.2,329.3 495.9,329.4 496.6,329.5 497.4,329.5 499.8,329.7 499.8,331 497.4,331.2 496.6,331.3 495.9,331.4 495.2,331.5 494.5,331.5 493.8,331.7 493,331.8 492.3,331.9 491.6,331.9 490.9,332 490.1,331.8 489.4,331.9 488.6,331.8 487.9,331.8 487.1,332 486.4,332.1 485.7,332.1 484.9,332 484.2,332 483.4,332 482.7,331.8 481.9,331.9 481.1,332 480.3,332.2 479.5,332 478.6,332.2 477.8,332.5 477,332.8 476.2,333.5 475.5,334.3 474.8,334.5 474.1,334.2 473.4,333.2 472.8,332.6 472.1,332.2 471.4,332.2 470.7,332.1 470,332 469.3,331.7 468.6,331.6 467.9,331.5 467.2,331.4 448.3,331Z" fill="url(#g77)"/>
<text x="367.4" y="343.14" font-size="5.45" fill="#111">Channel 4</text>
<path d="M454.3,340.2 455,340.2 455.8,340.2 456.5,340.1 457.3,340.1 458,340.1 458.8,340 459.5,340 460.2,340 461,339.9 461.7,339.9 462.5,339.8 463.2,339.8 464,339.8 464.7,339.7 465.5,339.7 466.2,339.7 467,339.7 467.7,339.5 468.5,339.2 469.3,339.2 470.1,338.9 470.9,338.5 471.7,338.6 472.5,338.6 473.2,338 473.9,338 474.7,337 475.4,336.9 476,336.7 476.7,336.9 477.5,336.6 478.3,336.7 479.1,336.3 479.9,336.8 480.7,337 481.5,336.3 482.4,336.9 483.2,337.6 484,337.8 484.9,338.4 485.7,338.7 486.5,338.6 487.3,339.1 488.1,339.1 488.9,339.3 489.7,339.2 490.4,339.4 491.2,339.5 491.9,339.4 492.7,339.6 493.5,339.6 494.2,339.6 495,339.5 495.8,339.7 496.5,339.7 497.3,339.7 498.1,339.7 498.8,339.8 499.6,339.8 500.3,339.9 501.8,340.2 501.8,341.5 500.3,341.7 499.6,341.8 498.8,341.8 498.1,341.9 497.3,341.9 496.5,342 495.8,341.9 495,342 494.2,342.1 493.5,342.1 492.7,342.1 491.9,342.2 491.2,342.1 490.4,342.2 489.7,342.4 488.9,342.3 488.1,342.7 487.3,342.7 486.5,342.8 485.7,342.9 484.9,343.2 484,343.7 483.2,343.8 482.4,344.2 481.5,344.9 480.7,344.6 479.9,345.1 479.1,345.1 478.3,344.8 477.5,345.4 476.7,345.1 476,344.8 475.4,344.7 474.7,344.1 473.9,343.9 473.2,343.5 472.5,343.5 471.7,343 470.9,343 470.1,342.7 469.3,342.4 468.5,342.3 467.7,342.1 467,341.9 466.2,341.9 465.5,341.9 464.7,341.9 464,341.8 463.2,341.8 462.5,341.8 461.7,341.7 461,341.7 460.2,341.7 459.5,341.6 458.8,341.6 458,341.5 457.3,341.5 456.5,341.5 455.8,341.5 455,341.5 454.3,341.5Z" fill="url(#g78)"/>
<line x1="503.09" x2="503.83" y1="340.8" y2="340.8" stroke="#046ef2" stroke-width="1.5" stroke-linecap="round"/>
<line x1="506.57" x2="507.32" y1="340.8" y2="340.8" stroke="#046ef2" stroke-width="1.5" stroke-linecap="round"/>
<path d="M478.2,339.9h0M476.2,339.7h0M476.6,340.7h0M475.3,338.5h0M476.5,341h0M476.4,340h0M477.8,339.3h0M478.1,339.2h0M477.4,338.2h0M472.2,341.6h0M472.6,341.6h0M474.5,339.8h0M473.2,339.8h0M477.9,340h0M477.4,342h0" stroke="#1c6bf0" stroke-width="0.9" stroke-linecap="round" fill="none" opacity="0.75"/>
<path d="M477.3,338.4h0M473.1,339.3h0M476.2,340.3h0M472.5,338.9h0M473.5,339.6h0M474.5,338.8h0M475.1,343.6h0M471.4,342.1h0M474.4,343.3h0M478.5,343.7h0" stroke="#f20b5e" stroke-width="0.9" stroke-linecap="round" fill="none" opacity="0.75"/>
<text x="367.4" y="353.94" font-size="5.45" fill="#111">Channel 5</text>
<path d="M456.3,350.3 457,350.3 457.8,350.3 458.6,350.3 459.3,350.2 460.1,350.2 460.9,350.2 461.6,350.1 462.4,350.1 463.2,350.1 463.9,350 464.7,350 465.5,350 466.2,349.9 467,349.9 467.8,349.8 468.6,349.9 469.3,349.7 470.1,349.8 470.9,349.4 471.7,349 472.6,348.5 473.4,348.2 474.2,347.9 474.9,347.9 475.5,348 476.2,347.1 476.9,347.4 477.6,347 478.3,347 478.9,347.3 479.5,347.5 480.2,347.5 480.9,347.9 481.7,348.5 482.4,348.4 483.2,348.9 484,349 484.8,349.2 485.6,349.3 486.4,349.4 487.1,349.5 487.8,349.7 488.5,349.8 489.2,350 490,350.1 490.7,350.2 491.4,350.3 491.4,351.6 490.7,351.6 490,351.8 489.2,351.9 488.5,351.9 487.8,352.1 487.1,352.3 486.4,352.4 485.6,352.7 484.8,352.7 484,352.8 483.2,353.4 482.4,353.2 481.7,353.6 480.9,353.6 480.2,354 479.5,354.8 478.9,354.6 478.3,355.5 477.6,354.4 476.9,354.9 476.2,354.3 475.5,354.4 474.9,354 474.2,353.5 473.4,353.1 472.6,353 471.7,352.9 470.9,352.6 470.1,352.2 469.3,352 468.6,352.1 467.8,352 467,352 466.2,352 465.5,351.9 464.7,351.9 463.9,351.9 463.2,351.8 462.4,351.8 461.6,351.8 460.9,351.7 460.1,351.7 459.3,351.7 458.6,351.6 457.8,351.6 457,351.6 456.3,351.6Z" fill="url(#g79)"/>
<line x1="493.37" x2="494.12" y1="350.94" y2="350.94" stroke="#046ef2" stroke-width="1.5" stroke-linecap="round"/>
<path d="M473.8,350.7h0M474.9,351.4h0M478.3,350.9h0M476,348.2h0M479.9,348.7h0M474,352.9h0M477.2,351.6h0M478.4,352.1h0M475.7,351h0M477,353.2h0M475.5,353.2h0M473.5,351.8h0" stroke="#1c6bf0" stroke-width="0.9" stroke-linecap="round" fill="none" opacity="0.75"/>
<path d="M480,349.4h0M477.6,352.7h0M480.5,350.7h0M475.2,349.9h0M480.4,348.7h0M477.9,347.9h0M476.5,352.4h0M478.7,348.4h0M474.5,349.4h0M477.5,352.4h0M475.4,349.5h0M474.5,352.9h0M475.8,350.2h0" stroke="#f20b5e" stroke-width="0.9" stroke-linecap="round" fill="none" opacity="0.75"/>
<text x="367.4" y="363.94" font-size="5.45" fill="#111">Channel 2</text>
<path d="M455.3,360 475.2,359.8 475.9,359.6 476.7,359.3 477.4,359.4 478.1,358.6 478.7,358.5 479.7,357.3 480.7,356.1 481.3,357.3 481.9,357.4 482.5,358.3 483.2,359 484,359.1 484.8,359.4 485.6,359.4 486.4,359.5 487.1,359.6 487.9,359.7 488.6,359.7 489.4,359.8 490.1,359.8 490.9,359.9 491.6,359.9 492.4,360 493.1,360 493.9,360.1 494.6,360.1 495.4,360.1 495.4,361.4 494.6,361.4 493.9,361.5 493.1,361.5 492.4,361.6 491.6,361.6 490.9,361.7 490.1,361.7 489.4,361.8 488.6,361.8 487.9,361.9 487.1,361.8 486.4,361.8 485.6,362.3 484.8,362.2 484,362.6 483.2,362.5 482.5,363.4 481.9,363.8 481.3,364.9 480.7,365.1 479.7,364 478.7,363.4 478.1,362.9 477.4,362.2 476.7,362.2 475.9,361.8 475.2,361.7 455.3,361.6Z" fill="url(#g80)"/>
<line x1="448.79" x2="450.04" y1="360.78" y2="360.78" stroke="#fa0550" stroke-width="1.5" stroke-linecap="round"/>
<line x1="451.03" x2="453.52" y1="360.78" y2="360.78" stroke="#fa0550" stroke-width="1.5" stroke-linecap="round"/>
<text x="367.4" y="374.74" font-size="5.45" fill="#111">Channel 6</text>
<path d="M463.5,370.2 464.3,370.2 465,370.1 465.8,370.1 466.5,370 467.3,370 468.1,369.9 468.8,369.9 469.6,369.9 470.4,369.8 471.1,369.8 471.9,369.7 472.7,369.6 473.4,369.5 474.2,369.7 475.1,369.2 475.9,368.9 476.7,368.2 477.4,368 478.1,367.1 478.7,366.5 479.3,366.3 479.9,366.2 480.8,366.5 481.7,367.3 482.4,367.7 483.2,367.5 484,368.3 484.9,368.6 485.7,369.2 486.4,369.5 487.2,369.4 488,369.5 488.7,369.6 489.5,369.8 490.3,369.8 491.1,369.8 491.8,369.9 492.6,370 498.7,370.3 498.7,371.6 492.6,371.9 491.8,371.9 491.1,372 490.3,372 489.5,372.1 488.7,372.4 488,372.2 487.2,372.5 486.4,372.6 485.7,372.7 484.9,373.1 484,373.3 483.2,374.2 482.4,374.2 481.7,374.9 480.8,374.8 479.9,375.5 479.3,374.7 478.7,374.9 478.1,374.5 477.4,374.1 476.7,373.6 475.9,373.3 475.1,372.9 474.2,372.4 473.4,372.2 472.7,372.1 471.9,372.2 471.1,372 470.4,372 469.6,372 468.8,371.9 468.1,371.9 467.3,371.8 466.5,371.8 465.8,371.7 465,371.7 464.3,371.7 463.5,371.6Z" fill="url(#g81)"/>
<line x1="459.75" x2="460.5" y1="370.91" y2="370.91" stroke="#fa0550" stroke-width="1.5" stroke-linecap="round"/>
<line x1="461.24" x2="461.99" y1="370.91" y2="370.91" stroke="#fa0550" stroke-width="1.5" stroke-linecap="round"/>
<rect x="530.35" y="279.9" width="1.3" height="100.8" fill="url(#cb)"/>
<text x="533.7" y="283.41" font-size="5.15" fill="#111">High</text>
<text x="533.7" y="383.31" font-size="5.15" fill="#111">Low</text>
<text transform="translate(545.05,330.9) rotate(-90)" font-size="4.35" text-anchor="middle" class="sf" fill="#000">Feature value</text>
<line x1="40.46" x2="159.51" y1="458.76" y2="458.76" stroke="#e2e2e2" stroke-width="0.5"/>
<line x1="99.99" x2="99.99" y1="406.96" y2="509.07" stroke="#808080" stroke-width="0.6" stroke-dasharray="1.2 0.8"/>
<line x1="40.46" x2="159.51" y1="509.07" y2="509.07" stroke="#888" stroke-width="0.6"/>
<line x1="47.93" x2="47.93" y1="509.07" y2="510.17" stroke="#aaa" stroke-width="0.5"/>
<text x="47.93" y="515.07" font-size="5.7" text-anchor="middle" fill="#111">300</text>
<text x="43.26" y="515.07" font-size="5.7" text-anchor="end" fill="#555">-</text>
<line x1="68.85" x2="68.85" y1="509.07" y2="510.17" stroke="#aaa" stroke-width="0.5"/>
<text x="68.85" y="515.07" font-size="5.7" text-anchor="middle" fill="#111">200</text>
<text x="64.18" y="515.07" font-size="5.7" text-anchor="end" fill="#555">-</text>
<line x1="90.27" x2="90.27" y1="509.07" y2="510.17" stroke="#aaa" stroke-width="0.5"/>
<text x="90.27" y="515.07" font-size="5.7" text-anchor="middle" fill="#111">100</text>
<text x="85.6" y="515.07" font-size="5.7" text-anchor="end" fill="#555">-</text>
<line x1="110.7" x2="110.7" y1="509.07" y2="510.17" stroke="#aaa" stroke-width="0.5"/>
<text x="110.7" y="515.07" font-size="5.7" text-anchor="middle" fill="#111">0</text>
<line x1="132.12" x2="132.12" y1="509.07" y2="510.17" stroke="#aaa" stroke-width="0.5"/>
<text x="132.12" y="515.07" font-size="5.7" text-anchor="middle" fill="#111">100</text>
<line x1="152.79" x2="152.79" y1="509.07" y2="510.17" stroke="#aaa" stroke-width="0.5"/>
<text x="152.79" y="515.07" font-size="5.7" text-anchor="middle" fill="#111">200</text>
<text x="5.2" y="419.8" font-size="5.8" fill="#111">Channel 1</text>
<path d="M54.4,417.5 64.6,417.1 65.4,417.1 66.1,417 66.9,417.1 67.7,417.1 68.4,417 69.2,417 70,416.9 70.7,417 71.5,416.8 72.3,416.8 73,416.7 73.8,416.7 74.5,416.8 75.3,416.6 76.1,416.7 76.9,416.3 77.7,416.2 78.4,416.2 79.2,416.1 80,415.7 80.8,415.5 81.5,415.5 82.2,415.4 83,415.1 83.7,415.5 84.4,414.7 85.1,414.8 85.8,414.7 86.5,414.3 87.3,414.5 88,415 88.7,414.9 89.4,414.8 90.1,415.3 90.8,415.4 91.6,415.4 92.3,415.2 93,415.3 93.8,415.1 94.5,415.2 95.3,415.4 96,415.3 96.7,415.8 97.5,415.4 98.2,415.7 99,415.7 99.7,415.4 100.4,415.6 101.1,415.2 101.9,415 102.6,415.3 103.3,415.3 104,415.3 104.7,414.9 105.5,414.9 106.3,414.3 107.1,414.2 107.9,414.2 108.7,414.3 109.5,414.1 110.3,413.7 111.1,413.6 111.9,413.9 112.7,413.9 113.4,413.6 114.1,414 114.8,413.5 115.5,413.9 116.2,413.3 116.9,413.6 117.6,413.8 118.3,414.3 119,413.6 119.7,414.6 120.4,414.5 121.2,414.7 121.9,414.8 122.7,414.2 123.4,414.6 124.1,414.4 124.9,414.3 125.6,413.9 126.4,414 127.1,413.6 127.8,413.4 128.4,414.2 129.1,413.7 130,413.3 130.8,414.1 131.6,414.1 132.4,414.7 133.3,415 134.1,415.2 134.8,415.3 135.5,415 136.3,415.3 137,415.2 137.7,415.5 138.4,415.9 139.1,415.5 139.9,416 140.6,416.2 141.3,415.9 142.1,416.3 142.8,416 143.5,416.4 144.3,416.3 145,416.2 145.7,416.6 146.5,416.5 147.2,416.8 147.9,416.6 148.6,416.9 149.3,417 150,417.1 150.8,417.2 151.5,417.3 152.2,417.4 152.9,417.5 152.9,418.8 152.2,418.8 151.5,418.9 150.8,419.1 150,419.2 149.3,419.2 148.6,419.3 147.9,419.4 147.2,419.6 146.5,419.8 145.7,420 145,420 144.3,419.8 143.5,420.2 142.8,420.2 142.1,420.4 141.3,420.1 140.6,420.5 139.9,420.4 139.1,420.4 138.4,420.5 137.7,420.5 137,421.1 136.3,420.7 135.5,421.2 134.8,421.4 134.1,421.6 133.3,421.7 132.4,421.4 131.6,421.6 130.8,421.9 130,422.7 129.1,422.4 128.4,422.8 127.8,422.7 127.1,422.4 126.4,421.6 125.6,421.8 124.9,421.6 124.1,421.3 123.4,421.4 122.7,421.4 121.9,421.6 121.2,422.1 120.4,422.3 119.7,421.9 119,422.6 118.3,422.3 117.6,422.4 116.9,422.8 116.2,423 115.5,422.8 114.8,423 114.1,423 113.4,423.1 112.7,422.5 111.9,422.8 111.1,422.5 110.3,421.8 109.5,422 108.7,421.9 107.9,422 107.1,422.1 106.3,421.6 105.5,422 104.7,421.1 104,421.3 103.3,421.5 102.6,421.1 101.9,421 101.1,420.8 100.4,420.6 99.7,420.5 99,420.8 98.2,420.5 97.5,420.9 96.7,420.4 96,420.9 95.3,421.1 94.5,420.9 93.8,421 93,420.6 92.3,421 91.6,421 90.8,421.1 90.1,421.3 89.4,421.1 88.7,421.6 88,421.6 87.3,421.2 86.5,421.8 85.8,421.8 85.1,421.5 84.4,421.3 83.7,421.1 83,420.9 82.2,421 81.5,420.5 80.8,420.4 80,420.2 79.2,420.5 78.4,420.2 77.7,420.1 76.9,419.7 76.1,419.5 75.3,419.5 74.5,419.4 73.8,419.4 73,419.4 72.3,419.6 71.5,419.3 70.7,419.4 70,419.4 69.2,419.4 68.4,419.2 67.7,419.4 66.9,419.3 66.1,419.2 65.4,419.2 64.6,419.2 54.4,418.8Z" fill="url(#g82)"/>
<path d="M97,420.1h0M85.6,419.7h0M88.8,419.1h0M92.6,417.7h0M90.3,416.5h0M96.1,419.6h0M86.8,416.2h0M93.5,419.9h0M96.6,417.5h0M84.1,416.9h0M89,418.2h0" stroke="#1c6bf0" stroke-width="0.9" stroke-linecap="round" fill="none" opacity="0.75"/>
<path d="M94.7,417.9h0M87.4,419.7h0M97.4,417.5h0M85.5,419.3h0M88.4,419.3h0M83.5,416.6h0M94.4,418.9h0M95.1,417h0M81.1,417.5h0M82.9,418.8h0M92.9,419.7h0M94.6,419.6h0M82.6,416.4h0M86.2,418.5h0M85.7,420.2h0M84.4,418.6h0M82.2,416.9h0M81.2,416.2h0M81.5,419.6h0M87.1,419.2h0M85,418.3h0M89.6,418.1h0M83.1,417.8h0M83.5,418.3h0M91,417.4h0M94.7,420.2h0M89.5,417.9h0M91.9,418.4h0M98.1,418.4h0M96.6,417.8h0M94,419.7h0M89.4,417.8h0M88.5,416.6h0M86.4,416.8h0M87.1,418.8h0M83,419.4h0" stroke="#f20b5e" stroke-width="0.9" stroke-linecap="round" fill="none" opacity="0.75"/>
<path d="M112,418.9h0M110,419h0M100.7,419.6h0M104.5,416.8h0M109.8,418.1h0M103.3,417h0M112.2,416.2h0M108.7,417.5h0M106.2,416.3h0M110.9,418.2h0M115.7,418.4h0M106.8,419.9h0M110.2,416.7h0M106.8,420.2h0M110.8,419.6h0M116.6,417.1h0M103.3,416.5h0M105,417.7h0M107.8,415.4h0M108.6,415.5h0M114.7,418.1h0M109.1,417.9h0M105.3,417.7h0M113.8,417.7h0M108,416.1h0M100.6,417.6h0M116.4,419.5h0M111.3,416.8h0M110.9,421h0M117.1,418.4h0M103.3,416.8h0M103.4,416.8h0M103.9,419h0M104.4,417.7h0M100.6,416.4h0M111.5,415.1h0M115.2,419h0M106.7,417.7h0" stroke="#1c6bf0" stroke-width="0.9" stroke-linecap="round" fill="none" opacity="0.75"/>
<path d="M108.5,420.1h0M104.2,417.6h0M111.9,420.7h0M105.5,416h0M115.6,416.3h0M109.1,416.8h0M112.4,419.1h0M104.3,417.5h0M105,417.6h0M114.7,417.7h0M106.6,416.8h0M112.1,421.3h0M115.1,420.5h0M107.3,417.6h0M115.5,419.2h0M100.8,418.5h0M105.5,416.1h0M109.4,418.6h0M115.5,415.1h0M99.8,416.7h0M109.2,421.1h0M100.6,416.6h0M102.9,419.2h0" stroke="#f20b5e" stroke-width="0.9" stroke-linecap="round" fill="none" opacity="0.75"/>
<text x="5.2" y="429.4" font-size="5.8" fill="#111">Channel 7</text>
<path d="M89,427.8 89.7,427.6 90.5,427.5 91.2,427.4 91.9,427.4 92.6,427.3 93.3,427.1 94,426.9 94.7,426.8 95.4,426.7 96.2,426.5 96.9,426.6 97.6,426.3 98.3,426.4 99,426.3 99.8,426.1 100.5,425.8 101.3,425.9 102.1,425.7 103,424.9 103.8,425.2 104.6,424.7 105.4,424.7 106.3,425.2 107.1,424.2 108,424.1 108.8,424.5 109.7,424.3 110.4,424.3 111.2,423.5 111.9,424 112.6,423.6 113.3,424.1 114,423.9 114.8,423.8 115.5,424.2 116.2,423.4 116.9,423.5 117.7,423.9 118.5,423.8 119.3,424.1 120.1,423.9 120.9,424.5 121.7,424.5 122.6,424.9 123.4,425.1 124.3,424.8 125,425.5 125.7,425.2 126.5,425.5 127.2,425.5 127.9,425.8 128.7,426 129.4,425.8 130.1,426 130.9,426.4 131.6,426.3 132.3,426.3 133,426.7 133.7,426.8 134.5,426.7 135.2,426.8 135.9,427 136.6,427.1 137.3,427.1 138.1,427.2 138.8,427.2 139.5,427.4 140.2,427.4 141,427.5 141.7,427.6 142.4,427.6 143.1,427.7 143.8,427.8 144.6,427.8 144.6,429.1 143.8,429.1 143.1,429.2 142.4,429.3 141.7,429.3 141,429.4 140.2,429.5 139.5,429.5 138.8,429.7 138.1,429.8 137.3,429.7 136.6,429.9 135.9,429.9 135.2,429.9 134.5,430.3 133.7,430.2 133,430.2 132.3,430.3 131.6,430.7 130.9,430.5 130.1,430.8 129.4,430.8 128.7,430.9 127.9,431 127.2,431.4 126.5,431.2 125.7,431.8 125,431.5 124.3,431.5 123.4,432.3 122.6,432.2 121.7,432.7 120.9,432.7 120.1,433.2 119.3,433.1 118.5,432.9 117.7,433.3 116.9,433.4 116.2,433.1 115.5,433 114.8,433.4 114,433.5 113.3,432.7 112.6,433.4 111.9,433.3 111.2,432.8 110.4,433.4 109.7,432.5 108.8,433.2 108,432.9 107.1,432.3 106.3,431.7 105.4,431.8 104.6,432.2 103.8,432.1 103,431.6 102.1,431.5 101.3,431.4 100.5,430.8 99.8,431 99,430.9 98.3,430.4 97.6,430.4 96.9,430.2 96.2,430.3 95.4,430.3 94.7,430.1 94,429.9 93.3,429.7 92.6,429.7 91.9,429.5 91.2,429.5 90.5,429.4 89.7,429.3 89,429.1Z" fill="url(#g83)"/>
<line x1="60.39" x2="60.88" y1="428.45" y2="428.45" stroke="#fa0550" stroke-width="1.5" stroke-linecap="round"/>
<line x1="62.63" x2="64.12" y1="428.45" y2="428.45" stroke="#fa0550" stroke-width="1.5" stroke-linecap="round"/>
<line x1="64.87" x2="68.36" y1="428.45" y2="428.45" stroke="#046ef2" stroke-width="1.5" stroke-linecap="round"/>
<line x1="69.35" x2="72.84" y1="428.45" y2="428.45" stroke="#fa0550" stroke-width="1.5" stroke-linecap="round"/>
<line x1="74.83" x2="81.06" y1="428.45" y2="428.45" stroke="#fa0550" stroke-width="1.5" stroke-linecap="round"/>
<line x1="82.55" x2="87.78" y1="428.45" y2="428.45" stroke="#fa0550" stroke-width="1.5" stroke-linecap="round"/>
<path d="M124.7,429.2h0M100.6,429.6h0M120.2,431.5h0M117.3,426.3h0M108.7,431.5h0M101.5,426.3h0M111.4,431h0M109.5,427.3h0M121.5,426.2h0M118.4,432h0M118.1,430.6h0M104.2,428.1h0M121.9,425.3h0M101.6,428.7h0M117.2,429.2h0M117.6,432h0M121.7,427.5h0M116.9,431.1h0M104.9,428.5h0M113,432h0M110.9,426.3h0M115.1,431.8h0M125,427.6h0M103.6,430h0M103.2,426.5h0M111,429h0M109.8,426.8h0M117.7,428h0M112.6,426.9h0M107.3,428.2h0M112.1,427h0M108.2,427.4h0M118.3,424.9h0M121.6,429.5h0M104.1,428.4h0M100.7,430.3h0M113,431h0M107.8,431.4h0M108,431h0M109.9,431.8h0M119.3,429.5h0M115.9,426.7h0M108.3,425.4h0M117.7,427.1h0M103,427.8h0M120.6,426.7h0M119.2,426.4h0M107.1,428.2h0M104.5,429.4h0" stroke="#1c6bf0" stroke-width="0.9" stroke-linecap="round" fill="none" opacity="0.75"/>
<path d="M119.7,425.1h0M110.8,429.5h0M107.3,429.6h0M112,427.7h0M122.6,429.6h0M107.8,431.2h0M119.5,427.4h0M108.5,426.7h0M111.6,431.7h0M124.1,426.2h0M105.1,426.1h0M101.8,430.6h0M101.5,427.1h0M102.1,428.4h0M108.4,431.6h0M114.3,429.9h0M123.7,429h0M110.6,429.6h0M106.4,429.8h0M104.7,427h0M115.1,427.7h0M111,431.3h0M124.7,426.5h0M100.1,428.3h0M100.1,427.1h0M115.4,426.4h0M116.4,431.4h0M121,430.1h0M123.9,425.9h0M109.1,428.7h0M110.9,425.7h0M111.9,426.6h0M118.2,429h0M104.1,429.3h0M121.9,426.9h0M111.7,429h0M115.9,431.3h0M117.6,425.9h0M107.6,431.6h0M111.8,425.7h0M102.3,429.1h0M103,430.7h0M112.7,427.6h0M103.4,426.9h0M125.2,430.6h0M120.3,431h0M110.2,430.9h0" stroke="#f20b5e" stroke-width="0.9" stroke-linecap="round" fill="none" opacity="0.75"/>
<text x="5.2" y="439.2" font-size="5.8" fill="#111">Channel 2</text>
<path d="M71.8,437.6 105.5,437.3 106.2,437.2 106.9,437 107.6,437.1 108.3,437.1 109.1,437 109.8,436.9 110.5,436.9 111.2,436.9 111.9,436.8 112.8,436.7 113.6,436.3 114.4,436.3 115.3,435.7 116.2,435.5 116.8,434.5 117.4,434.5 118.5,433.7 119.7,434.7 120.7,435.3 121.2,435.4 121.8,436.1 122.7,436.2 123.6,436.6 124.4,436.8 125.1,437 125.9,437.2 126.6,437.1 127.4,437.1 128.1,437.2 128.8,437.2 129.6,437.3 130.3,437.3 131,437.3 131.8,437.4 132.5,437.4 133.2,437.4 134,437.5 134.7,437.5 135.4,437.5 136.2,437.6 136.9,437.6 137.6,437.6 138.4,437.6 139.1,437.6 139.8,437.6 139.8,438.9 139.1,438.9 138.4,438.9 137.6,439 136.9,439 136.2,439 135.4,439.1 134.7,439.1 134,439.1 133.2,439.2 132.5,439.2 131.8,439.2 131,439.3 130.3,439.3 129.6,439.3 128.8,439.4 128.1,439.4 127.4,439.5 126.6,439.3 125.9,439.5 125.1,439.7 124.4,439.9 123.6,439.9 122.7,440.4 121.8,440.5 121.2,441.1 120.7,441.1 119.7,442.2 118.5,442.7 117.4,441.8 116.8,441.7 116.2,441.2 115.3,440.7 114.4,440.4 113.6,440.2 112.8,440 111.9,439.9 111.2,439.8 110.5,439.6 109.8,439.7 109.1,439.5 108.3,439.4 107.6,439.5 106.9,439.5 106.2,439.4 105.5,439.3 71.8,439Z" fill="url(#g84)"/>
<text x="5.2" y="449.4" font-size="5.8" fill="#111">McClear</text>
<path d="M74.6,447.8 75.3,447.8 76.1,447.8 76.8,447.8 77.6,447.8 78.3,447.7 79.1,447.7 79.8,447.7 80.6,447.7 81.3,447.7 82.1,447.6 82.8,447.6 83.5,447.6 84.3,447.6 85,447.5 85.8,447.5 86.5,447.5 87.3,447.5 88,447.5 88.8,447.4 89.5,447.4 90.3,447.4 91,447.4 91.8,447.3 92.5,447.2 93.3,447.2 94,447.3 94.8,447.3 95.5,447.3 96.2,447 96.9,447 97.7,446.7 98.4,446.4 99.1,446.4 99.8,446.2 100.5,446.2 101.2,445.9 102,445.4 102.7,445.3 103.5,444.9 104.1,444.8 104.8,444.2 105.5,443.4 106.1,443.8 106.8,444.9 107.5,445.1 108.2,445.1 108.9,445.5 109.6,445.6 110.2,445.8 110.9,445.9 111.6,445.8 112.3,445.9 113,446.3 113.7,446 114.4,446.1 115.2,446.5 116,446.5 116.7,446.1 117.5,446.1 118.3,446.3 119,446.4 119.8,446.2 120.6,446.4 121.3,446.5 122.1,446.2 122.8,446.2 123.6,446.1 124.4,446 125.1,446 125.9,446.2 126.7,446.1 127.4,446.6 128.2,446.6 128.9,446.2 129.7,446.6 130.5,446.7 131.2,446.6 132,446.4 132.8,446.4 133.5,446.6 134.3,446.7 135.1,446.8 135.8,446.8 136.6,447 137.3,447 138.1,447.1 138.8,446.8 139.6,446.9 140.3,447 141.1,447 141.8,447.2 142.6,447.3 143.3,447.2 144.1,447.2 144.8,447.4 145.6,447.4 150.5,447.8 150.5,449.1 145.6,449.4 144.8,449.5 144.1,449.6 143.3,449.7 142.6,449.6 141.8,449.7 141.1,449.6 140.3,449.7 139.6,449.7 138.8,449.9 138.1,450 137.3,449.8 136.6,449.9 135.8,450 135.1,450.1 134.3,450.3 133.5,450 132.8,450.3 132,450.3 131.2,450.1 130.5,450.4 129.7,450.5 128.9,450.6 128.2,450.4 127.4,450.3 126.7,450.6 125.9,450.4 125.1,450.5 124.4,450.8 123.6,450.4 122.8,450.4 122.1,450.4 121.3,450.5 120.6,450.6 119.8,450.6 119,450.4 118.3,450.5 117.5,450.7 116.7,450.5 116,450.7 115.2,450.8 114.4,450.8 113.7,450.6 113,450.4 112.3,450.5 111.6,450.8 110.9,451.2 110.2,451.2 109.6,451.3 108.9,451.2 108.2,451.3 107.5,452.3 106.8,452.3 106.1,452.4 105.5,452.6 104.8,452.3 104.1,451.9 103.5,452 102.7,451.8 102,451.3 101.2,451.2 100.5,450.8 99.8,450.7 99.1,450.3 98.4,450.5 97.7,450 96.9,449.8 96.2,449.9 95.5,449.6 94.8,449.6 94,449.6 93.3,449.5 92.5,449.6 91.8,449.5 91,449.5 90.3,449.5 89.5,449.4 88.8,449.4 88,449.4 87.3,449.4 86.5,449.4 85.8,449.3 85,449.3 84.3,449.3 83.5,449.3 82.8,449.2 82.1,449.2 81.3,449.2 80.6,449.2 79.8,449.2 79.1,449.1 78.3,449.1 77.6,449.1 76.8,449.1 76.1,449.1 75.3,449.1 74.6,449.1Z" fill="url(#g85)"/>
<line x1="151.79" x2="152.54" y1="448.42" y2="448.42" stroke="#fa0550" stroke-width="1.5" stroke-linecap="round"/>
<line x1="154.03" x2="154.78" y1="448.42" y2="448.42" stroke="#fa0550" stroke-width="1.5" stroke-linecap="round"/>
<path d="M104,448.2h0M106.1,451.2h0M101.2,447.7h0M101.1,448.2h0M102,448.8h0M101.5,447.6h0M104.7,448.9h0M106.3,449.2h0M104.9,449.8h0M105.8,450.1h0M106.2,447.7h0M106.7,448.1h0M104.3,447.1h0M104.5,445.3h0M106.7,449.4h0M105.7,452h0M101.5,448.8h0M103,451h0M103.5,447.7h0" stroke="#1c6bf0" stroke-width="0.9" stroke-linecap="round" fill="none" opacity="0.75"/>
<path d="M109.4,448.3h0M103.3,450.5h0M105.9,451.4h0M106.4,448.6h0M108.6,446.9h0M105.6,449.4h0M105.5,449.4h0M107.9,446.5h0M105.3,448.1h0" stroke="#f20b5e" stroke-width="0.9" stroke-linecap="round" fill="none" opacity="0.75"/>
<text x="5.2" y="460.2" font-size="5.8" fill="#111">Observation</text>
<path d="M46.2,457.8 79.8,457.6 105.5,457.5 106.3,457.4 107.1,457.3 107.9,456.9 108.7,456.9 109.5,456.2 110.4,456.2 111.2,455.4 111.9,455.2 112.5,455.3 113.2,454.8 114.1,454.7 114.9,454.4 115.6,454.1 116.3,454.4 117,454.7 117.7,455 118.5,454.9 119.3,455.3 120.2,455 121,455.2 121.8,455.5 122.7,455.8 123.5,456.4 124.3,456.6 125.1,456.8 125.9,457 126.7,457.1 127.6,457.4 128.4,457.6 129.6,457.8 129.6,459.1 128.4,459.2 127.6,459.5 126.7,459.6 125.9,459.9 125.1,460.3 124.3,460.2 123.5,460.4 122.7,460.7 121.8,461 121,461.3 120.2,461.6 119.3,462 118.5,462.4 117.7,462 117,462.1 116.3,462.2 115.6,462.9 114.9,462.9 114.1,462.8 113.2,462.6 112.5,462 111.9,461.6 111.2,461.7 110.4,461.1 109.5,460.6 108.7,459.8 107.9,459.8 107.1,459.5 106.3,459.5 105.5,459.3 79.8,459.2 46.2,459.1Z" fill="url(#g86)"/>
<line x1="131.12" x2="132.12" y1="458.41" y2="458.41" stroke="#fa0550" stroke-width="1.5" stroke-linecap="round"/>
<line x1="134.36" x2="135.35" y1="458.41" y2="458.41" stroke="#fa0550" stroke-width="1.5" stroke-linecap="round"/>
<path d="M110.7,460h0M115.2,456.4h0M110.1,460.1h0M117.5,456.5h0M119.8,461.1h0M119.5,456.7h0M119.8,457.2h0M115.8,460h0M118.1,456.1h0M113.3,455.8h0M120.6,459.9h0M110.4,458.3h0M116.5,461.5h0M118.9,458.7h0M112,458.7h0M113.7,456h0M115.7,458.4h0M110.5,459h0M117.3,456.6h0" stroke="#1c6bf0" stroke-width="0.9" stroke-linecap="round" fill="none" opacity="0.75"/>
<path d="M111.8,456.8h0M121.4,457.9h0M113.8,456.8h0M110.8,457.9h0M116.8,455.9h0M111.7,456.3h0M113.3,460.9h0M118.4,458.5h0M113.7,458.2h0M114.7,458h0M121.5,459.5h0M115.7,460.1h0M120.1,460.7h0M119,459.7h0M115,461.4h0M111.2,458.8h0M111.8,460.4h0M121,460.1h0M114.8,459h0M121.3,457h0" stroke="#f20b5e" stroke-width="0.9" stroke-linecap="round" fill="none" opacity="0.75"/>
<text x="5.2" y="470.2" font-size="5.8" fill="#111">Channel 4</text>
<path d="M82.7,468 83.4,468 84.2,467.9 84.9,467.9 85.6,467.8 86.4,467.8 87.1,467.7 87.9,467.6 88.6,467.6 89.3,467.5 90.1,467.5 90.8,467.3 91.6,467.3 92.3,467.3 93,467.1 93.8,467.3 94.5,467.2 95.2,467.1 95.9,466.9 96.7,466.7 97.4,466.2 98.1,465.9 98.8,465.7 99.5,465.9 100.2,465.2 101,465.2 101.7,464.9 102.4,465.3 103.1,465.3 103.8,465.1 104.5,465.1 105.2,465 106,464.8 106.7,465 107.4,464.5 108.1,464.2 108.8,464.1 109.6,464.4 110.3,464.2 111,464.8 111.7,464.4 112.4,464.4 113.2,464.6 113.9,465.2 114.6,464.7 115.3,465.4 116,465.3 116.8,464.8 117.5,465.2 118.2,465.4 118.9,465.2 119.6,464.9 120.3,464.9 121.1,465 121.8,464.9 122.5,465.2 123.2,464.6 123.9,465.2 124.8,465 125.6,465.6 126.4,466.1 127.1,466.5 127.9,466.6 128.6,466.8 129.3,466.7 130.1,466.9 130.8,466.9 131.5,467.1 132.3,467.4 133,467.4 133.7,467.5 134.5,467.4 135.3,467.5 136,467.5 136.8,467.6 137.6,467.6 138.4,467.6 139.1,467.7 139.9,467.7 140.7,467.8 141.4,467.8 142.2,467.8 143,467.9 143.7,467.9 144.5,467.9 145.3,468 146,468 146.8,468 146.8,469.3 146,469.3 145.3,469.3 144.5,469.3 143.7,469.3 143,469.4 142.2,469.4 141.4,469.5 140.7,469.5 139.9,469.5 139.1,469.6 138.4,469.6 137.6,469.6 136.8,469.7 136,469.7 135.3,469.7 134.5,469.7 133.7,469.9 133,470 132.3,470 131.5,470.3 130.8,470.4 130.1,470.5 129.3,470.3 128.6,470.7 127.9,470.8 127.1,470.7 126.4,471 125.6,471.9 124.8,472.3 123.9,472.2 123.2,472.6 122.5,472.6 121.8,472.3 121.1,472.1 120.3,472 119.6,472.4 118.9,471.9 118.2,471.9 117.5,472.5 116.8,472.4 116,472.5 115.3,471.9 114.6,471.9 113.9,472.7 113.2,472.6 112.4,472.8 111.7,472.5 111,472.2 110.3,472.8 109.6,472.3 108.8,472.7 108.1,472.4 107.4,472.8 106.7,472.9 106,473.2 105.2,473 104.5,472.8 103.8,472 103.1,472.4 102.4,472.4 101.7,472 101,471.9 100.2,471.4 99.5,471.5 98.8,471.3 98.1,470.9 97.4,471.2 96.7,470.8 95.9,470.7 95.2,470.5 94.5,470.2 93.8,470 93,470.1 92.3,469.9 91.6,469.9 90.8,470 90.1,469.7 89.3,469.7 88.6,469.7 87.9,469.6 87.1,469.6 86.4,469.5 85.6,469.4 84.9,469.4 84.2,469.3 83.4,469.3 82.7,469.3Z" fill="url(#g87)"/>
<path d="M101,469.7h0M113.8,471.6h0M107.2,468.8h0M113.7,471.4h0M100.8,468.8h0M111.4,471.3h0M98.7,468.8h0M112.4,468.6h0M109,468h0M103.8,467.3h0M108.6,468.7h0M110.3,468.6h0M108.3,470.2h0M110.6,469.1h0M113.8,470.5h0M107.5,467h0M112.3,467.2h0M106.8,465.4h0M112.5,470.1h0M110.7,470h0M113.7,467.4h0M106.4,469h0M99,468.6h0M108.2,466.6h0M114.1,466h0M99.7,466.5h0M97.5,467.3h0M104.3,467.5h0M111.5,466.2h0M99.8,469.4h0M100.7,471.1h0M109.2,469.2h0M111.5,465.9h0M105.2,466.3h0M97.5,470.1h0M111.3,466.8h0" stroke="#1c6bf0" stroke-width="0.9" stroke-linecap="round" fill="none" opacity="0.75"/>
<path d="M101.7,469.4h0M98.2,470.2h0M106.6,470.7h0M105.4,466.4h0M101.9,468.9h0M99.4,469.2h0M100.7,470.1h0M98.8,467.2h0M100.1,470.1h0M98.4,470.1h0M104.8,470h0M100.1,467.6h0M101.6,466.3h0M99.2,467h0M97.6,469.5h0M105.1,469.7h0M106.8,466.1h0M106.7,471.4h0M101.4,468h0M103.9,466h0M107.1,471.6h0M107.6,467.2h0M104.4,469.2h0" stroke="#f20b5e" stroke-width="0.9" stroke-linecap="round" fill="none" opacity="0.75"/>
<text x="5.2" y="481.2" font-size="5.8" fill="#111">Channel 6</text>
<path d="M85.5,478.1 86.2,478.1 87,478.1 87.8,478.1 88.5,478.1 89.3,478 90.1,478 90.8,477.9 91.6,477.9 92.4,477.9 93.1,477.8 93.9,477.8 94.7,477.7 95.4,477.7 96.2,477.6 97,477.6 97.7,477.7 98.5,477.4 99.2,477.2 99.9,477.2 100.6,476.8 101.3,476.7 102.1,476.5 102.8,476.6 103.5,476.4 104.2,476.2 104.9,476 105.6,475.7 106.3,475.7 107,474.8 107.7,474.5 108.4,474.5 109.2,474.3 110,475 110.8,474.3 111.6,475 112.4,474.5 113.2,474.5 113.9,474.8 114.7,475.2 115.4,475.3 116.1,475.5 116.8,475.8 117.4,475.8 118.2,476.5 118.9,476.7 119.7,476.8 120.5,477.1 121.4,477.3 122.2,477.5 122.9,477.4 123.6,477.5 124.4,477.5 125.1,477.7 125.9,477.5 126.6,477.7 127.4,477.7 128.1,477.7 128.9,477.8 129.6,477.8 130.4,477.8 131.1,477.9 131.9,477.9 132.6,477.9 133.4,478 134.1,478 134.9,478 135.6,478.1 136.4,478.1 137.1,478.1 137.8,478.1 138.6,478.1 138.6,479.4 137.8,479.4 137.1,479.4 136.4,479.5 135.6,479.5 134.9,479.5 134.1,479.6 133.4,479.6 132.6,479.6 131.9,479.7 131.1,479.7 130.4,479.7 129.6,479.8 128.9,479.8 128.1,479.8 127.4,479.9 126.6,480 125.9,480 125.1,479.9 124.4,480 123.6,480 122.9,480.2 122.2,480 121.4,480 120.5,480.4 119.7,480.5 118.9,480.9 118.2,481.4 117.4,481.8 116.8,481.7 116.1,482.4 115.4,482.1 114.7,482.9 113.9,482.2 113.2,482.8 112.4,482.9 111.6,483.1 110.8,482.5 110,482.6 109.2,482.9 108.4,482.8 107.7,482.8 107,482.5 106.3,482.1 105.6,481.9 104.9,482.1 104.2,481.5 103.5,481.2 102.8,481.2 102.1,481.2 101.3,481.1 100.6,480.7 99.9,480.4 99.2,480.4 98.5,480.2 97.7,479.9 97,479.9 96.2,479.8 95.4,479.9 94.7,479.8 93.9,479.8 93.1,479.7 92.4,479.7 91.6,479.7 90.8,479.6 90.1,479.6 89.3,479.6 88.5,479.5 87.8,479.5 87,479.4 86.2,479.4 85.5,479.4Z" fill="url(#g88)"/>
<path d="M111.1,479.9h0M109.2,481.3h0M107,479.6h0M103.1,477.4h0M109.6,476.3h0M112.3,477.1h0M111,479.8h0M107.8,480.8h0M106.7,481.6h0M106.7,479.5h0M103.2,478.7h0M104.7,477.2h0M104.3,479h0M109.2,476.2h0M111.2,475.6h0M105.1,480.8h0M103.4,476.9h0M112.1,481.5h0M103.2,479.3h0" stroke="#1c6bf0" stroke-width="0.9" stroke-linecap="round" fill="none" opacity="0.75"/>
<path d="M105,479.7h0M103.9,479.5h0M108.9,480.5h0M111.1,476.7h0M108.8,479.1h0M106.5,477.3h0M111.4,480h0M108.1,479.4h0M107.3,481.2h0M105.7,480.6h0M107.2,476.6h0M103.4,480.2h0M107.6,480.2h0M111.6,481.6h0M110.5,480.6h0" stroke="#f20b5e" stroke-width="0.9" stroke-linecap="round" fill="none" opacity="0.75"/>
<text x="5.2" y="491.8" font-size="5.8" fill="#111">Channel 5</text>
<path d="M96.4,488.1 97.2,488.1 98,488 98.8,487.9 99.5,487.8 100.3,487.7 101.1,487.7 101.9,487.7 102.7,487.5 103.4,487.3 104.2,487.2 105,486.9 105.7,486.8 106.5,486.2 107.1,485.9 107.7,485.6 108.4,485.5 109.3,485.3 110.2,485.4 110.9,485.9 111.6,486 112.4,486.5 113.3,486.9 114.1,487 114.9,487.1 115.7,487.1 116.5,487.1 117.3,487.4 118.1,487.4 118.9,487.7 119.7,487.6 120.4,487.7 121.2,487.7 121.9,487.8 122.7,487.8 123.5,487.9 124.2,487.9 125,488 125.7,488 126.5,488.1 127.2,488.1 128,488.1 128,489.4 127.2,489.4 126.5,489.5 125.7,489.5 125,489.6 124.2,489.6 123.5,489.7 122.7,489.7 121.9,489.8 121.2,489.8 120.4,489.9 119.7,489.8 118.9,490 118.1,490 117.3,490.2 116.5,490.4 115.7,490.4 114.9,490.3 114.1,490.8 113.3,491.1 112.4,491.5 111.6,491.6 110.9,491.5 110.2,491.8 109.3,492 108.4,492.3 107.7,491.6 107.1,491.7 106.5,491.5 105.7,490.8 105,490.4 104.2,490.3 103.4,490.2 102.7,490.2 101.9,490.1 101.1,490 100.3,489.8 99.5,489.7 98.8,489.6 98,489.5 97.2,489.4 96.4,489.4Z" fill="url(#g89)"/>
<path d="M105.7,488.5h0M108,488.2h0M109.4,490h0M110.9,487.5h0M106.8,487.7h0M108.7,487.5h0M110.1,486.9h0M107.7,486.6h0M105.6,487.5h0M106.7,487h0" stroke="#1c6bf0" stroke-width="0.9" stroke-linecap="round" fill="none" opacity="0.75"/>
<path d="M108.4,491.5h0M106.3,488.8h0M109.5,486.4h0M106.6,489.9h0M110.4,490.5h0M110,487.5h0" stroke="#f20b5e" stroke-width="0.9" stroke-linecap="round" fill="none" opacity="0.75"/>
<text x="5.2" y="500.8" font-size="5.8" fill="#111">Channel 3</text>
<path d="M93.6,498.3 94.4,498.3 95.2,498.3 95.9,498.2 96.7,498.2 97.5,498.1 98.3,498.1 99,498.1 99.8,498 100.6,498 101.3,497.9 102.1,497.9 102.9,497.9 103.7,497.8 104.4,497.7 105.2,497.7 106,497.8 106.8,497.3 107.6,496.9 108.4,496.7 109.5,496.1 110.5,494.6 111.1,495.7 111.7,495.9 112.5,496 113.3,496.9 114,496.7 114.6,496.8 115.3,497 116,497.3 116.7,497.3 117.4,497.5 118.1,497.6 118.9,497.5 119.6,497.6 120.3,497.5 121,497.8 121.7,497.6 122.5,497.8 123.2,497.8 123.9,497.9 130.4,498.3 130.4,499.6 123.9,499.9 123.2,500 122.5,500.1 121.7,500 121,500.2 120.3,500.2 119.6,500.4 118.9,500.2 118.1,500.3 117.4,500.5 116.7,500.5 116,500.6 115.3,500.6 114.6,500.9 114,501 113.3,501.2 112.5,501.6 111.7,502 111.1,502.6 110.5,502.7 109.5,502.3 108.4,500.9 107.6,500.8 106.8,500.3 106,500.2 105.2,500.1 104.4,499.9 103.7,500 102.9,500 102.1,499.9 101.3,499.9 100.6,499.8 99.8,499.8 99,499.8 98.3,499.7 97.5,499.7 96.7,499.6 95.9,499.6 95.2,499.6 94.4,499.6 93.6,499.6Z" fill="url(#g90)"/>
<rect x="166.85" y="408.6" width="1.3" height="99" fill="url(#cb)"/>
<text x="170.6" y="410.91" font-size="5.5" fill="#111">High</text>
<text x="170.6" y="510.91" font-size="5.5" fill="#111">Low</text>
<text transform="translate(180.55,459) rotate(-90)" font-size="4.35" text-anchor="middle" class="sf" fill="#000">Feature value</text>
<text x="99.24" y="521.73" font-size="6.0" font-weight="bold" text-anchor="middle" fill="#111" xml:space="preserve">SHAP  Value</text>
<line x1="216.23" x2="341.51" y1="458.26" y2="458.26" stroke="#e2e2e2" stroke-width="0.5"/>
<line x1="278.49" x2="278.49" y1="406.21" y2="509.57" stroke="#c0c0c0" stroke-width="0.6"/>
<line x1="216.23" x2="341.51" y1="509.57" y2="509.57" stroke="#888" stroke-width="0.6"/>
<line x1="221.71" x2="221.71" y1="509.57" y2="510.67" stroke="#aaa" stroke-width="0.5"/>
<text x="221.71" y="516.06" font-size="5.7" text-anchor="middle" fill="#111">300</text>
<text x="217.03" y="516.06" font-size="5.7" text-anchor="end" fill="#555">-</text>
<line x1="241.63" x2="241.63" y1="509.57" y2="510.67" stroke="#aaa" stroke-width="0.5"/>
<text x="241.63" y="516.06" font-size="5.7" text-anchor="middle" fill="#111">200</text>
<text x="236.96" y="516.06" font-size="5.7" text-anchor="end" fill="#555">-</text>
<line x1="260.93" x2="260.93" y1="509.57" y2="510.67" stroke="#aaa" stroke-width="0.5"/>
<text x="260.93" y="516.06" font-size="5.7" text-anchor="middle" fill="#111">100</text>
<text x="256.26" y="516.06" font-size="5.7" text-anchor="end" fill="#555">-</text>
<line x1="280.86" x2="280.86" y1="509.57" y2="510.67" stroke="#aaa" stroke-width="0.5"/>
<text x="280.86" y="516.06" font-size="5.7" text-anchor="middle" fill="#111">0</text>
<line x1="299.41" x2="299.41" y1="509.57" y2="510.67" stroke="#aaa" stroke-width="0.5"/>
<text x="299.41" y="516.06" font-size="5.7" text-anchor="middle" fill="#111">100</text>
<line x1="318.84" x2="318.84" y1="509.57" y2="510.67" stroke="#aaa" stroke-width="0.5"/>
<text x="318.84" y="516.06" font-size="5.7" text-anchor="middle" fill="#111">200</text>
<line x1="337.27" x2="337.27" y1="509.57" y2="510.67" stroke="#aaa" stroke-width="0.5"/>
<text x="337.27" y="516.06" font-size="5.7" text-anchor="middle" fill="#111">300</text>
<text x="184.6" y="419.32" font-size="5.4" fill="#111">Channel 1</text>
<path d="M224.4,416.3 225.2,416.3 225.9,416.3 226.6,416.3 227.4,416.3 228.1,416.2 228.8,416.2 229.6,416.2 230.3,416.1 231,416.1 231.8,416.1 232.5,416 233.2,416 234,416 234.7,415.9 235.4,415.9 236.2,415.8 236.9,415.8 237.6,415.7 238.4,415.7 239.2,415.8 240,415.7 240.7,415.6 241.5,415.5 242.3,415.4 243,415.5 243.8,415.3 244.6,415.4 245.3,415.4 246.1,415.4 246.9,415.2 247.6,415.4 248.4,415.3 249.2,415.4 250,415 250.7,415.2 251.5,415.1 252.2,415.2 252.9,414.7 253.7,414.9 254.4,414.6 255.1,414.7 255.9,414.8 256.6,414.5 257.3,414.5 258.1,414.5 258.8,414.4 259.6,414 260.3,414.2 261.1,414.2 261.8,413.9 262.6,413.7 263.3,413.3 264,413.4 264.8,413.1 265.5,413.4 266.3,412.6 267,412.5 267.8,412.9 268.5,413.1 269.3,413.1 270,412.3 270.8,412.4 271.5,412.6 272.3,412.2 273,412.5 273.8,412.6 274.5,412.4 275.3,412.5 276,413 276.7,412.1 277.5,413.1 278.2,412.6 279,412.1 279.7,413.2 280.5,412.2 281.2,412.3 282,412.6 282.7,412.5 283.5,412.5 284.2,412.6 284.9,412.5 285.6,412.9 286.4,412.9 287.1,413.6 287.8,413.5 288.5,413.8 289.2,413.8 290,413.7 290.7,413.5 291.5,414 292.3,413.6 293.1,413.7 293.9,414.3 294.7,414.4 295.4,414.3 296.1,413.9 296.8,413.8 297.5,414.2 298.2,413.8 299,414.2 299.7,413.9 300.4,414 301.1,414.2 301.8,414.1 302.5,414 303.2,414.1 303.9,413.8 304.6,414.1 305.4,413.9 306.1,413.8 306.9,414 307.6,414.3 308.4,414 309.1,414.1 309.9,413.9 310.6,414.4 311.4,414.6 312.1,414.5 312.9,414.3 313.6,414.4 314.4,414.8 315.1,414.8 315.9,414.4 316.6,414.7 317.4,414.9 318.1,414.7 318.9,415 319.7,414.6 320.4,415.1 321.2,415 321.9,415.1 322.7,415.3 323.4,415.2 324.2,415 324.9,415.4 325.7,415.4 326.4,415.3 327.1,415.5 327.9,415.6 328.6,415.6 329.3,415.7 330.1,415.8 330.8,415.8 331.6,415.9 332.3,416 336.5,416.3 336.5,417.6 332.3,418 331.6,418.1 330.8,418.2 330.1,418.2 329.3,418.2 328.6,418.3 327.9,418.6 327.1,418.4 326.4,418.8 325.7,418.6 324.9,418.8 324.2,418.7 323.4,418.8 322.7,419.1 321.9,419.1 321.2,418.8 320.4,419.1 319.7,419.3 318.9,419 318.1,419.1 317.4,419.1 316.6,419.4 315.9,419.2 315.1,419.4 314.4,419.5 313.6,419.4 312.9,419.8 312.1,419.8 311.4,419.9 310.6,419.6 309.9,420 309.1,419.6 308.4,420.2 307.6,419.8 306.9,420.1 306.1,420 305.4,420.4 304.6,420.1 303.9,419.9 303.2,419.8 302.5,420.2 301.8,420.2 301.1,420.2 300.4,419.7 299.7,419.8 299,420 298.2,420.1 297.5,420.1 296.8,420.2 296.1,419.6 295.4,420.1 294.7,419.8 293.9,419.8 293.1,420.2 292.3,420.2 291.5,419.9 290.7,420.7 290,420.5 289.2,420.2 288.5,420.7 287.8,420.8 287.1,420.4 286.4,421 285.6,421.3 284.9,420.8 284.2,421.2 283.5,421 282.7,421.4 282,421.4 281.2,421.1 280.5,421.5 279.7,421.6 279,421.7 278.2,421.3 277.5,421 276.7,421.5 276,421.1 275.3,421.2 274.5,421.4 273.8,421.4 273,421.7 272.3,421.3 271.5,421 270.8,421.1 270,421 269.3,421.5 268.5,420.9 267.8,420.7 267,421 266.3,420.7 265.5,421.2 264.8,420.7 264,421 263.3,420.3 262.6,420.4 261.8,419.9 261.1,420.1 260.3,420.3 259.6,419.8 258.8,419.6 258.1,419.6 257.3,419.6 256.6,419.4 255.9,419.6 255.1,419.3 254.4,419.4 253.7,419.2 252.9,418.9 252.2,418.9 251.5,418.7 250.7,418.8 250,418.9 249.2,418.7 248.4,418.9 247.6,418.7 246.9,418.5 246.1,418.6 245.3,418.5 244.6,418.5 243.8,418.5 243,418.4 242.3,418.5 241.5,418.4 240.7,418.3 240,418.4 239.2,418.2 238.4,418.3 237.6,418.3 236.9,418.2 236.2,418 235.4,418.1 234.7,418.1 234,418 233.2,418 232.5,417.9 231.8,417.9 231,417.9 230.3,417.8 229.6,417.8 228.8,417.8 228.1,417.7 227.4,417.7 226.6,417.7 225.9,417.6 225.2,417.6 224.4,417.6Z" fill="url(#g91)"/>
<path d="M270.6,419h0M263.5,418h0M264.8,414.5h0M267.7,416.5h0M269,419.7h0M261,415.3h0M259.8,417.9h0M261.6,416.8h0M267.7,416.2h0M272.2,415.6h0" stroke="#1c6bf0" stroke-width="0.9" stroke-linecap="round" fill="none" opacity="0.75"/>
<path d="M259.2,415.4h0M268.1,414.1h0M261.6,418.8h0M265,418.4h0M270.8,418h0M271.6,415.5h0M265.3,415h0M271,419.8h0M264.9,416.1h0M259.2,418h0M262.6,416.5h0M262.8,418.9h0M266.2,416.3h0M268.5,420.3h0M269.9,416.2h0M260.1,416.3h0M272,414.7h0M264.1,417.7h0M262.1,419h0M269.2,418.5h0M265.6,417.6h0M261.7,414.6h0M268.1,418.7h0M261.3,418.9h0M271.5,417.4h0M259.3,415.5h0M270.7,414h0M261.8,418.1h0M261.8,416.1h0M265.9,415.6h0M262.4,414.9h0M262.2,419.4h0M262.2,418.2h0M263.6,418.3h0M258.6,417.2h0M262.5,416.5h0M263.5,415.2h0M267.7,413.8h0" stroke="#f20b5e" stroke-width="0.9" stroke-linecap="round" fill="none" opacity="0.75"/>
<path d="M277.8,416.8h0M280.9,417h0M293,416.6h0M286.4,415.8h0M281.8,413.7h0M292.6,415.3h0M273,415h0M291.8,415.6h0M287.1,418.2h0M274.9,418h0M279.4,415.7h0M289.4,418.5h0M275.8,420.3h0M272.4,415.6h0M279.2,414.4h0M284.4,415.1h0M283.3,416.6h0M286.5,414.8h0M275.5,415.8h0M274.1,413.7h0M292.6,418.9h0M283,414.2h0M282.1,417.8h0M287.3,416.5h0M290.7,414.5h0M278,416.2h0M283.2,414.3h0M272.3,416.2h0M288.4,419.8h0M280,420.3h0M279.8,413.5h0M286.9,419.8h0M272.9,413.5h0M283.8,420h0M276.4,416.2h0M278.4,415.1h0M292.4,414.9h0M280.3,420.1h0M287.5,419h0M284.2,419.3h0M276.2,419h0" stroke="#1c6bf0" stroke-width="0.9" stroke-linecap="round" fill="none" opacity="0.75"/>
<path d="M286.5,416.4h0M290.2,415.9h0M281.2,414.4h0M278.2,414.9h0M292.1,416.8h0M284.6,415h0M284.9,415.2h0M292.8,416.9h0M279.7,419.9h0M272.6,413.8h0M291.9,418.8h0M289.7,417.3h0M283.1,413.8h0M283.3,415.4h0M288.1,416.2h0M274.1,414.5h0M273.6,419.1h0M291.8,416.5h0M285.8,416.7h0M289.7,417.9h0M280.7,414.5h0M282.3,417.9h0M276.3,417.7h0M274.4,417.1h0M286.8,414.4h0M290.1,417.6h0M273.9,414.1h0M278.8,420.4h0M280.4,418.2h0M281,416.2h0M272.7,419.9h0M275.4,418.9h0M276.5,420h0M280.6,418.1h0M280.2,418.9h0M293.3,415.9h0M282.6,419.5h0M278.2,416.9h0" stroke="#f20b5e" stroke-width="0.9" stroke-linecap="round" fill="none" opacity="0.75"/>
<text x="184.6" y="428.92" font-size="5.4" fill="#111">Channel 7</text>
<path d="M261.6,426.6 262.4,426.4 263.2,426.3 263.9,426.2 264.7,425.9 265.5,425.7 266.3,425.7 267,425.6 267.7,425.5 268.4,425.5 269.1,425.1 269.9,425.3 270.6,424.8 271.3,425.1 272,425.1 272.8,424.8 273.5,424.9 274.3,424.2 275,424.3 275.8,424.4 276.5,423.8 277.2,424.1 278,424 278.7,423.4 279.5,423.5 280.2,423.5 281,423.2 281.7,423.8 282.4,423 283.1,423.5 283.9,422.8 284.6,422.8 285.3,423.3 286,422.7 286.8,422.9 287.5,422.7 288.2,423.1 289,422.7 289.7,422.6 290.4,422.9 291.2,423 291.9,423.3 292.7,423 293.4,422.9 294.2,422.5 294.9,423.3 295.7,422.6 296.5,422.9 297.3,423.3 298.1,423.8 298.8,423.2 299.6,423.7 300.4,424 301.1,423.9 301.8,424.4 302.5,424.8 303.3,425 304,425.2 304.7,425.2 305.4,425.5 306.1,425.7 306.8,425.4 307.5,425.8 308.3,425.8 309,425.9 309.7,426.1 310.4,425.9 311.1,426.1 311.9,426.2 312.7,426.3 313.5,426.3 314.2,426.3 315,426.3 315.8,426.4 316.6,426.4 317.3,426.5 318.1,426.5 318.9,426.6 319.7,426.6 320.5,426.7 321.2,426.7 321.2,428 320.5,428 319.7,428 318.9,428 318.1,428.1 317.3,428.1 316.6,428.2 315.8,428.2 315,428.3 314.2,428.3 313.5,428.4 312.7,428.4 311.9,428.4 311.1,428.5 310.4,428.7 309.7,428.8 309,428.6 308.3,428.8 307.5,428.8 306.8,429.1 306.1,429.1 305.4,429 304.7,429.6 304,429.7 303.3,429.6 302.5,429.9 301.8,430.2 301.1,431 300.4,430.9 299.6,430.6 298.8,430.7 298.1,431.1 297.3,431 296.5,431.9 295.7,431.9 294.9,431.3 294.2,431.5 293.4,432.2 292.7,431.5 291.9,431.5 291.2,431.6 290.4,431.4 289.7,431.5 289,431.6 288.2,432 287.5,431.6 286.8,431.6 286,431.3 285.3,431.8 284.6,431 283.9,431.4 283.1,431.6 282.4,430.8 281.7,431.5 281,431.4 280.2,431.5 279.5,430.9 278.7,430.5 278,430.5 277.2,430.7 276.5,430.3 275.8,430.7 275,430 274.3,430.4 273.5,430.2 272.8,430.2 272,430.1 271.3,429.9 270.6,429.8 269.9,429.4 269.1,429.5 268.4,429.1 267.7,429 267,429.2 266.3,428.9 265.5,428.9 264.7,428.7 263.9,428.5 263.2,428.3 262.4,428.2 261.6,428Z" fill="url(#g92)"/>
<line x1="221.46" x2="221.96" y1="427.3" y2="427.3" stroke="#fa0550" stroke-width="1.5" stroke-linecap="round"/>
<line x1="222.7" x2="223.2" y1="427.3" y2="427.3" stroke="#fa0550" stroke-width="1.5" stroke-linecap="round"/>
<line x1="224.45" x2="227.93" y1="427.3" y2="427.3" stroke="#fa0550" stroke-width="1.5" stroke-linecap="round"/>
<line x1="228.93" x2="237.4" y1="427.3" y2="427.3" stroke="#d02296" stroke-width="1.5" stroke-linecap="round"/>
<line x1="238.39" x2="243.62" y1="427.3" y2="427.3" stroke="#fa0550" stroke-width="1.5" stroke-linecap="round"/>
<line x1="244.37" x2="259.81" y1="427.3" y2="427.3" stroke="#5064ec" stroke-width="1.5" stroke-linecap="round"/>
<path d="M295.4,427.5h0M284.7,427.6h0M301.8,428.4h0M274.9,428h0M278.5,427.8h0M271.6,426.2h0M289,430.6h0M282.7,425.2h0M280.8,429.9h0M277,429.6h0M296.4,424.2h0M278.5,427.3h0M270.4,427.4h0M278.6,429.9h0M273.4,428h0M271.3,426.3h0M273.9,426.9h0M273.3,426.3h0M295.6,429h0M290.3,428.7h0M279.5,427h0M272.1,425.9h0M269,428.2h0M277.9,425.9h0M293,429.2h0M274,429.2h0M273.7,428.2h0M296.1,425.8h0M288.7,425.6h0M298.7,425.8h0M269.9,426.4h0M273.2,426.6h0M272.3,428.5h0M275.3,429.2h0M273.8,427.2h0M291.5,429.5h0M272.9,427.1h0" stroke="#1c6bf0" stroke-width="0.9" stroke-linecap="round" fill="none" opacity="0.75"/>
<path d="M283.6,430.1h0M299.4,428.5h0M284,425h0M301.1,427.8h0M289.3,428.4h0M278.1,425.7h0M299.8,429.5h0M285.2,429.2h0M272.9,427.2h0M269.5,426.9h0M294.1,427.4h0M291.5,429.2h0M294.6,427h0M279.3,424.7h0M278.2,424.7h0M297.1,428.8h0M301.5,426.3h0M277.5,427.9h0M272.7,427.3h0M298,428.1h0M284.9,427.3h0M275.3,427.8h0M290.1,424.5h0M296.2,424h0M295.9,427.1h0M288.4,425.3h0M288.5,427.7h0M289.2,427.1h0M299.1,429.6h0M296.9,427.7h0M298.8,426.3h0M282.5,430.2h0M280.7,424.4h0M299.6,426.8h0M298.7,430h0M285.2,425.9h0M288.7,428.9h0M292.6,427.8h0M280.3,424.9h0M280.8,426.9h0M285.9,428.4h0M301.1,427.9h0M285.2,426.3h0M286.9,428.7h0M291.9,430.1h0M292,430.1h0M297.2,427.6h0M286.3,428.8h0M270.1,428.3h0M279.5,429.8h0M294.3,424.4h0M294,428.6h0M291.8,423.9h0M285.3,424.5h0M300.3,426.2h0M286.3,426.6h0M282,429.2h0M280.3,429.4h0M269,427.6h0M285.6,426.6h0M297.6,429.2h0M295,427.6h0M276.6,428.7h0M302,426.2h0M294.7,425.6h0M297.1,425.1h0M278.3,426h0M294.7,428.3h0M297.6,427.4h0M297.5,425.4h0M292.4,423.8h0M286.7,426.9h0M296.7,424.7h0M278,425h0M283.5,424.9h0M275.6,427h0M291.2,424.6h0M281,424.7h0M289.5,426.3h0" stroke="#f20b5e" stroke-width="0.9" stroke-linecap="round" fill="none" opacity="0.75"/>
<path d="M257.1,426.9h0M252.8,427.2h0M253.7,427h0M251.1,427.7h0M259.3,427.5h0M258.5,427.4h0" stroke="#1c6bf0" stroke-width="0.9" stroke-linecap="round" fill="none" opacity="0.75"/>
<path d="M249.5,427.6h0" stroke="#f20b5e" stroke-width="0.9" stroke-linecap="round" fill="none" opacity="0.75"/>
<text x="184.6" y="439.32" font-size="5.4" fill="#111">Observation</text>
<path d="M224.9,437.1 225.7,437.1 226.5,437.1 227.2,437.1 228,437.1 228.7,437.1 229.5,437.1 230.3,437.1 231,437 231.8,437 232.5,437 233.3,437 234,436.9 234.8,436.9 235.6,436.9 236.3,436.9 237.1,436.9 237.8,436.8 238.6,436.8 239.3,436.8 240.1,436.8 240.9,436.7 241.6,436.7 242.4,436.7 243.1,436.7 243.9,436.6 244.7,436.5 245.4,436.6 246.2,436.5 246.9,436.7 247.7,436.6 248.4,436.5 249.2,436.5 250,436.5 250.7,436.5 251.5,436.5 252.2,436.3 252.9,436.3 253.7,435.9 254.4,436.2 255.1,435.8 255.9,435.6 256.6,435.9 257.3,435.8 258.1,435.5 258.8,435.7 259.6,435.6 260.3,435 261.1,435.5 261.8,435.3 262.6,435.1 263.3,435.1 264,434.9 264.8,434.7 265.5,434.8 266.3,434.5 267,434.7 267.7,434.1 268.4,434.2 269.1,434.2 269.9,433.9 270.6,434.5 271.3,434.5 272,434 272.7,433.5 273.4,434.2 274.2,434.1 274.9,434 275.6,434 276.3,433.9 277,433 277.7,433.3 278.4,433.3 279.2,433 279.9,433.8 280.6,433 281.3,433.1 282,433.8 282.8,434 283.5,433.9 284.2,434.1 285,433.7 285.7,433.5 286.5,433.8 287.2,434 287.9,433.9 288.6,434.4 289.3,434 290,434.4 290.7,434.9 291.5,435 292.3,435.1 293.1,435.3 293.9,435.3 294.7,435.3 295.6,435.3 296.6,435.4 297.3,436 298.1,435.9 298.9,436.2 299.7,436 300.5,436.1 301.3,436.3 302.1,436.5 302.9,436.6 303.6,436.6 304.4,436.7 305.2,436.8 306,436.9 306.8,437 307.6,437 308.3,437.1 309.1,437.1 309.1,438.4 308.3,438.5 307.6,438.5 306.8,438.6 306,438.7 305.2,438.8 304.4,438.9 303.6,439.1 302.9,439.2 302.1,439.1 301.3,439.4 300.5,439.2 299.7,439.6 298.9,439.8 298.1,439.8 297.3,439.7 296.6,439.9 295.6,440 294.7,440.3 293.9,440.8 293.1,440.7 292.3,441 291.5,441 290.7,441.1 290,440.8 289.3,441.6 288.6,441.6 287.9,441.4 287.2,441.3 286.5,441.9 285.7,441.2 285,441.8 284.2,441.9 283.5,442.3 282.8,442.4 282,442.4 281.3,441.6 280.6,441.9 279.9,442.6 279.2,441.9 278.4,442.5 277.7,442.6 277,442 276.3,441.9 275.6,442.1 274.9,441.8 274.2,441.8 273.4,441.9 272.7,441.9 272,442 271.3,441.8 270.6,441.9 269.9,441.6 269.1,441.5 268.4,440.8 267.7,441.2 267,441 266.3,440.9 265.5,440.6 264.8,441 264,440.8 263.3,440.5 262.6,440.4 261.8,440.3 261.1,440.5 260.3,440.5 259.6,440.1 258.8,439.9 258.1,440.2 257.3,439.9 256.6,439.6 255.9,439.8 255.1,439.7 254.4,439.7 253.7,439.6 252.9,439.3 252.2,439.4 251.5,439.1 250.7,439.1 250,439.1 249.2,439.2 248.4,439.1 247.7,439.2 246.9,439.1 246.2,439 245.4,438.9 244.7,438.8 243.9,438.8 243.1,439 242.4,438.9 241.6,438.9 240.9,438.8 240.1,438.8 239.3,438.8 238.6,438.8 237.8,438.7 237.1,438.7 236.3,438.7 235.6,438.7 234.8,438.7 234,438.6 233.3,438.6 232.5,438.6 231.8,438.6 231,438.5 230.3,438.5 229.5,438.5 228.7,438.5 228,438.5 227.2,438.4 226.5,438.4 225.7,438.4 224.9,438.4Z" fill="url(#g93)"/>
<line x1="221.46" x2="221.96" y1="437.79" y2="437.79" stroke="#046ef2" stroke-width="1.5" stroke-linecap="round"/>
<line x1="222.95" x2="223.7" y1="437.79" y2="437.79" stroke="#046ef2" stroke-width="1.5" stroke-linecap="round"/>
<path d="M275.5,436.2h0M282.7,437.2h0M274.9,436.6h0M281.9,435.4h0M273.3,435.9h0M267.3,435.7h0M274.3,437.4h0M267.1,438.3h0M278.1,435.6h0M283.3,439.9h0M280.5,436.2h0M277.8,435.5h0M271.3,437h0M268.4,436.7h0M282.1,436.2h0M281.3,435.4h0M282.7,434.6h0M271.5,436.1h0M277,435h0M267.3,439.6h0M279.7,438.3h0M280.7,439.9h0M285.9,437.4h0M271.2,436.6h0M268.3,436.8h0M268.4,437h0M271.7,438.9h0M283.3,436h0M282.4,437h0M270.6,439.5h0M286.6,438.5h0M275.5,438.5h0M270.2,440.7h0M284.4,440h0M271.3,437.6h0M270.1,435.7h0M277.7,435.2h0M269.2,438.9h0M275.5,439.9h0M277.4,440.9h0M270.6,437.7h0M279.5,438.3h0M287.5,437.9h0M271.4,440.1h0M271.1,435.9h0M267.2,437.4h0M267.2,437.9h0M278.1,440.1h0M281.6,438h0M276.1,438h0" stroke="#1c6bf0" stroke-width="0.9" stroke-linecap="round" fill="none" opacity="0.75"/>
<path d="M273.2,438.4h0M276,441.2h0M272.2,439.9h0M275.2,439.8h0M280.9,440.6h0M283.2,440.8h0M269.4,435h0M278.7,440.5h0M284.3,439.5h0M280.7,439.6h0M285.3,436.6h0M287.7,436.3h0M289.3,436.8h0M285.5,438.3h0M272.3,439.6h0M274.6,436.9h0M280.1,437.7h0M291.3,439h0M274.9,439.6h0M276.3,437.4h0M282.8,439.3h0M275.9,437.9h0M277.9,439.5h0M280.4,435.7h0M288,437.2h0M289.1,438.1h0M283.5,437.4h0M272.6,434.9h0M268.5,439.7h0M281.7,437.2h0M281.6,439.7h0M275,438.1h0M277.4,437.9h0M271.8,437h0M282.3,436.3h0M279.7,434.3h0M284.6,439.8h0M280.6,439.6h0M276.3,435.6h0M283.8,435.4h0M289,439.8h0M291.5,439.5h0M292.2,435.9h0" stroke="#f20b5e" stroke-width="0.9" stroke-linecap="round" fill="none" opacity="0.75"/>
<text x="184.6" y="449.52" font-size="5.4" fill="#111">McClear</text>
<path d="M239.3,447.2 240,447.2 240.8,447.2 241.5,447.2 242.3,447.2 243,447.1 243.8,447.1 244.5,447.1 245.3,447.1 246,447.1 246.8,447.1 247.5,447 248.3,447 249,447 249.8,447 250.5,447 251.3,447 252,446.9 252.8,446.9 253.5,446.9 254.3,446.9 255,446.9 255.8,446.9 256.5,446.8 257.3,446.8 258,446.8 258.8,446.8 259.5,446.8 260.3,446.8 261,446.7 261.8,446.7 262.5,446.7 263.3,446.7 264,446.6 264.8,446.7 265.5,446.7 266.3,446.6 267,446.5 267.7,446.5 268.5,446.3 269.2,446.4 269.9,446.1 270.6,446.2 271.3,446 272,446.2 272.6,445.4 273.3,445.1 274,444.4 274.8,443.2 275.5,444.1 276.3,445.2 277.2,446 278,446 278.8,446 279.6,445.9 280.4,445.8 281.1,446 281.9,445.9 282.7,446.1 283.5,445.8 284.2,445.8 284.9,445.8 285.7,445.9 286.4,445.8 287.2,445.9 287.9,445.9 288.6,446.2 289.4,446.1 290.1,446.2 290.8,446.2 291.6,446 292.3,446.1 293,446 293.8,446.3 294.5,446.2 295.2,446.1 296,446.1 296.7,446.3 297.5,446.2 298.2,446.1 298.9,446.3 299.7,446.2 300.4,446.3 301.2,446.2 301.9,446.3 302.7,446.4 303.4,446.6 304.1,446.6 304.9,446.5 305.6,446.5 306.4,446.6 307.1,446.7 307.9,446.7 308.6,446.7 309.4,446.8 311.9,447.2 311.9,448.5 309.4,448.8 308.6,448.9 307.9,448.9 307.1,448.9 306.4,449 305.6,449.1 304.9,449.1 304.1,449.1 303.4,449.1 302.7,449.1 301.9,449.2 301.2,449.3 300.4,449.3 299.7,449.2 298.9,449.3 298.2,449.3 297.5,449.4 296.7,449.5 296,449.3 295.2,449.3 294.5,449.4 293.8,449.4 293,449.4 292.3,449.3 291.6,449.5 290.8,449.6 290.1,449.3 289.4,449.7 288.6,449.7 287.9,449.4 287.2,449.5 286.4,449.8 285.7,449.7 284.9,449.7 284.2,449.8 283.5,449.6 282.7,449.4 281.9,449.7 281.1,449.8 280.4,449.9 279.6,449.5 278.8,449.8 278,449.5 277.2,449.8 276.3,450.5 275.5,451.7 274.8,452.4 274,451 273.3,450.7 272.6,449.9 272,449.6 271.3,449.5 270.6,449.6 269.9,449.3 269.2,449.3 268.5,449.3 267.7,449 267,449 266.3,449.1 265.5,448.9 264.8,449.1 264,448.9 263.3,448.9 262.5,448.9 261.8,448.9 261,448.9 260.3,448.8 259.5,448.8 258.8,448.8 258,448.8 257.3,448.8 256.5,448.8 255.8,448.7 255,448.7 254.3,448.7 253.5,448.7 252.8,448.7 252,448.7 251.3,448.6 250.5,448.6 249.8,448.6 249,448.6 248.3,448.6 247.5,448.6 246.8,448.5 246,448.5 245.3,448.5 244.5,448.5 243.8,448.5 243,448.5 242.3,448.5 241.5,448.5 240.8,448.5 240,448.5 239.3,448.5Z" fill="url(#g94)"/>
<line x1="315.85" x2="316.85" y1="447.8" y2="447.8" stroke="#fa0550" stroke-width="1.5" stroke-linecap="round"/>
<text x="184.6" y="460.52" font-size="5.4" fill="#111">Channel 6</text>
<path d="M246.6,457.3 269.8,456.9 270.5,456.8 271.3,456.6 272.1,456.4 272.9,456.2 273.6,456 274.5,455.8 275.3,455.2 276.1,454.9 276.9,454.1 277.7,453.9 278.5,454 279.2,453 280.1,453.8 280.9,454.2 281.7,454.7 282.5,455.5 283.2,456 284.2,456.2 285.1,456.6 285.9,456.7 286.6,456.6 287.4,456.6 288.1,456.7 288.9,456.7 289.6,456.7 290.4,456.8 291.2,456.7 291.9,456.8 292.7,456.8 293.4,456.9 294.2,456.9 295,456.9 295.7,456.9 296.5,457 297.2,457 298,457 298.8,457 299.5,457.1 300.3,457.1 301,457.1 301.8,457.1 302.6,457.1 303.3,457.2 304.1,457.2 304.8,457.2 305.6,457.2 306.4,457.3 307.1,457.3 307.9,457.3 308.6,457.3 308.6,458.6 307.9,458.6 307.1,458.6 306.4,458.6 305.6,458.6 304.8,458.6 304.1,458.6 303.3,458.7 302.6,458.7 301.8,458.7 301,458.7 300.3,458.8 299.5,458.8 298.8,458.8 298,458.8 297.2,458.8 296.5,458.9 295.7,458.9 295,458.9 294.2,458.9 293.4,459 292.7,459 291.9,459 291.2,459.1 290.4,459 289.6,459 288.9,459.1 288.1,459 287.4,459.3 286.6,459.2 285.9,459.2 285.1,459.1 284.2,459.8 283.2,460.1 282.5,460.7 281.7,460.8 280.9,461.6 280.1,461.8 279.2,462.2 278.5,461.8 277.7,461.7 276.9,461 276.1,460.8 275.3,460.5 274.5,460.2 273.6,460 272.9,459.8 272.1,459.4 271.3,459.3 270.5,459.1 269.8,458.9 246.6,458.6Z" fill="url(#g95)"/>
<path d="M278.4,459.7h0M276.6,458.7h0M280.1,456.9h0M275.6,456.5h0M279.1,459.3h0M277,459.7h0M279.9,455.5h0M277.9,458.1h0M280,457.6h0M279,456.6h0" stroke="#1c6bf0" stroke-width="0.9" stroke-linecap="round" fill="none" opacity="0.75"/>
<path d="M277.7,458.7h0M277.3,460.2h0M279.2,460.5h0M276.8,459.6h0M278.2,455h0M278.2,457.1h0M276.3,457.9h0" stroke="#f20b5e" stroke-width="0.9" stroke-linecap="round" fill="none" opacity="0.75"/>
<text x="184.6" y="470.92" font-size="5.4" fill="#111">Channel 2</text>
<path d="M255,467.9 275.9,467.6 276.7,467.3 277.5,467 278.4,466.8 279.2,466.7 280,466.3 280.6,466.1 281.2,465.7 281.9,464.6 282.5,463.7 283.1,464.9 283.7,465.2 284.3,466.3 285,466.5 285.8,466.8 286.6,466.8 287.4,467.1 288.2,467.3 289,467.4 289.7,467.5 290.5,467.6 291.3,467.6 292,467.6 292.8,467.7 293.6,467.7 294.3,467.8 295.1,467.8 295.8,467.8 296.6,467.9 297.4,467.9 298.1,468 298.9,468 299.7,468 299.7,469.3 298.9,469.3 298.1,469.3 297.4,469.3 296.6,469.4 295.8,469.4 295.1,469.4 294.3,469.5 293.6,469.5 292.8,469.6 292,469.6 291.3,469.7 290.5,469.7 289.7,469.7 289,469.8 288.2,469.7 287.4,469.9 286.6,470.4 285.8,470.6 285,470.9 284.3,471.6 283.7,472.2 283.1,472.8 282.5,472.9 281.9,472.6 281.2,471.5 280.6,471 280,470.9 279.2,470.7 278.4,470.5 277.5,469.9 276.7,469.8 275.9,469.6 255,469.3Z" fill="url(#g96)"/>
<text x="184.6" y="481.52" font-size="5.4" fill="#111">Channel 4</text>
<path d="M262.1,478.3 262.8,478.3 263.6,478.3 264.3,478.2 265.1,478.2 265.8,478.1 266.6,478.1 267.3,478.1 268.1,478 268.9,478 269.6,477.9 270.4,477.9 271.1,477.8 271.9,477.8 272.6,477.8 273.5,477.6 274.3,477.3 275.1,477.1 275.9,476.7 276.7,476.7 277.5,476 278.2,476 279,475.2 279.9,475 280.8,474.6 281.6,475.4 282.5,475.8 283.3,476.1 284.1,475.9 284.9,476.6 285.7,477 286.5,477.2 287.4,477.4 288.1,477.6 288.9,477.6 289.7,477.8 290.4,477.8 291.2,477.7 292,477.8 292.7,477.8 293.5,477.8 294.3,477.9 295,477.9 295.8,477.9 296.6,477.9 297.3,478 298.1,478 298.9,478 299.6,478.1 300.4,478.1 313.5,478.3 313.5,479.6 300.4,479.8 299.6,479.8 298.9,479.8 298.1,479.9 297.3,479.9 296.6,479.9 295.8,480 295,480 294.3,480 293.5,480 292.7,480 292,480 291.2,480.2 290.4,480 289.7,480.2 288.9,480.3 288.1,480.1 287.4,480.4 286.5,480.4 285.7,481.1 284.9,481.1 284.1,481.9 283.3,482.4 282.5,482.2 281.6,483.1 280.8,483.8 279.9,483.3 279,482.3 278.2,482 277.5,481.8 276.7,481.7 275.9,481.2 275.1,480.7 274.3,480.5 273.5,480.3 272.6,480.2 271.9,480.2 271.1,480.1 270.4,480 269.6,480 268.9,479.9 268.1,479.9 267.3,479.8 266.6,479.8 265.8,479.7 265.1,479.7 264.3,479.6 263.6,479.6 262.8,479.6 262.1,479.6Z" fill="url(#g97)"/>
<line x1="318.09" x2="318.84" y1="478.94" y2="478.94" stroke="#fa0550" stroke-width="1.5" stroke-linecap="round"/>
<text x="184.6" y="492.12" font-size="5.4" fill="#111">Channel 5</text>
<path d="M262.1,488.4 262.8,488.4 263.5,488.4 264.3,488.3 265,488.2 265.8,488.1 266.5,488.1 267.3,487.9 268,488 268.8,487.8 269.5,487.8 270.3,487.6 271,487.5 271.7,487.4 272.4,487.1 273.1,487 273.8,486.8 274.5,486.6 275.2,486.5 275.9,485.7 276.6,485.9 277.3,485.4 278,485.3 278.7,485.3 279.3,484.7 280,485.2 280.9,484.7 281.7,485.3 282.5,485.9 283.2,486.2 284.1,486.4 285,486.8 285.8,487.2 286.5,487.6 287.2,487.6 288,487.6 288.7,487.8 289.4,487.9 290.1,487.9 290.8,488 291.5,488.1 292.2,488.1 296.4,488.4 296.4,489.7 292.2,490 291.5,490.1 290.8,490.2 290.1,490.3 289.4,490.2 288.7,490.3 288,490.5 287.2,490.5 286.5,490.7 285.8,490.9 285,491.2 284.1,492 283.2,492.5 282.5,492.4 281.7,493.2 280.9,493.3 280,493.5 279.3,493.5 278.7,492.8 278,493.1 277.3,492.5 276.6,492.3 275.9,492.1 275.2,492.2 274.5,491.5 273.8,491.8 273.1,491.5 272.4,490.9 271.7,490.7 271,490.7 270.3,490.5 269.5,490.4 268.8,490.3 268,490.3 267.3,490.1 266.5,490.1 265.8,490.1 265,490 264.3,489.9 263.5,489.8 262.8,489.7 262.1,489.7Z" fill="url(#g98)"/>
<line x1="260.56" x2="261.06" y1="489.1" y2="489.1" stroke="#d02296" stroke-width="1.5" stroke-linecap="round"/>
<path d="M279.4,488.1h0M279.1,491.5h0M277.9,488.1h0M279,486.6h0M276.3,489.4h0M279.1,489.1h0M280.2,490.8h0M276.6,488.6h0M276.7,488.1h0M277.7,489.4h0M281.4,489.7h0M279.8,487.1h0" stroke="#1c6bf0" stroke-width="0.9" stroke-linecap="round" fill="none" opacity="0.75"/>
<path d="M277.1,488.7h0M278.4,492.2h0M279.3,487.2h0M276.2,490.8h0M278.4,486.7h0M281.6,488.4h0M274.5,490.2h0M277.5,488.4h0M276.5,487.7h0M277.4,486.9h0M276.1,487.7h0M279.3,485.7h0M281.1,490.9h0" stroke="#f20b5e" stroke-width="0.9" stroke-linecap="round" fill="none" opacity="0.75"/>
<text x="184.6" y="502.32" font-size="5.4" fill="#111">Channel 3</text>
<path d="M264.5,499.1 265.2,499.1 266,499.1 266.7,499 267.5,499 268.3,498.9 269,498.9 269.8,498.8 270.5,498.8 271.3,498.8 272.1,498.7 272.8,498.7 273.6,498.6 274.3,498.5 275.1,498.6 275.8,498.3 276.5,498.1 277.2,498 277.9,497.4 279,496.4 280,495.4 281.1,496.9 281.8,497.3 282.5,497.4 283.3,497.7 284.1,498 284.9,498.3 285.7,498.6 286.5,498.6 287.2,498.5 288,498.6 288.7,498.6 289.4,498.7 290.2,498.7 290.9,498.7 291.7,498.8 292.4,498.8 293.2,498.8 293.9,498.8 294.7,498.9 295.4,498.9 296.1,498.9 296.9,499 297.6,499 298.4,499 299.1,499 299.9,499.1 300.6,499.1 301.4,499.1 302.1,499.1 302.1,500.4 301.4,500.4 300.6,500.4 299.9,500.4 299.1,500.4 298.4,500.4 297.6,500.5 296.9,500.5 296.1,500.5 295.4,500.6 294.7,500.6 293.9,500.6 293.2,500.6 292.4,500.7 291.7,500.7 290.9,500.7 290.2,500.8 289.4,500.8 288.7,500.8 288,500.8 287.2,500.8 286.5,500.9 285.7,500.9 284.9,501.2 284.1,501.4 283.3,501.7 282.5,501.8 281.8,502.6 281.1,502.8 280,504.6 279,503.1 277.9,501.8 277.2,501.8 276.5,501.5 275.8,501.3 275.1,500.8 274.3,500.9 273.6,500.8 272.8,500.8 272.1,500.8 271.3,500.7 270.5,500.7 269.8,500.6 269,500.6 268.3,500.5 267.5,500.5 266.7,500.4 266,500.4 265.2,500.4 264.5,500.4Z" fill="url(#g99)"/>
<rect x="349.35" y="408.6" width="1.3" height="100.4" fill="url(#cb)"/>
<text x="352.8" y="409.71" font-size="5.15" fill="#111">High</text>
<text x="352.8" y="511.91" font-size="5.15" fill="#111">Low</text>
<text transform="translate(363.75,458.6) rotate(-90)" font-size="4.35" text-anchor="middle" class="sf" fill="#000">Feature value</text>
<text x="280.49" y="522.23" font-size="6.0" font-weight="bold" text-anchor="middle" fill="#111" xml:space="preserve">SHAP  Value</text>
<line x1="403.46" x2="523.76" y1="458.76" y2="458.76" stroke="#e2e2e2" stroke-width="0.5"/>
<line x1="462.99" x2="462.99" y1="406.96" y2="509.32" stroke="#c0c0c0" stroke-width="0.6"/>
<line x1="403.46" x2="523.76" y1="509.32" y2="509.32" stroke="#888" stroke-width="0.6"/>
<line x1="419.9" x2="419.9" y1="509.32" y2="510.42" stroke="#aaa" stroke-width="0.5"/>
<text x="419.9" y="516.06" font-size="5.7" text-anchor="middle" fill="#111">300</text>
<text x="415.22" y="516.06" font-size="5.7" text-anchor="end" fill="#555">-</text>
<line x1="439.08" x2="439.08" y1="509.32" y2="510.42" stroke="#aaa" stroke-width="0.5"/>
<text x="439.08" y="516.06" font-size="5.7" text-anchor="middle" fill="#111">200</text>
<text x="434.4" y="516.06" font-size="5.7" text-anchor="end" fill="#555">-</text>
<line x1="458.26" x2="458.26" y1="509.32" y2="510.42" stroke="#aaa" stroke-width="0.5"/>
<text x="458.26" y="516.06" font-size="5.7" text-anchor="middle" fill="#111">100</text>
<text x="453.58" y="516.06" font-size="5.7" text-anchor="end" fill="#555">-</text>
<line x1="476.44" x2="476.44" y1="509.32" y2="510.42" stroke="#aaa" stroke-width="0.5"/>
<text x="476.44" y="516.06" font-size="5.7" text-anchor="middle" fill="#111">0</text>
<line x1="496.24" x2="496.24" y1="509.32" y2="510.42" stroke="#aaa" stroke-width="0.5"/>
<text x="496.24" y="516.06" font-size="5.7" text-anchor="middle" fill="#111">100</text>
<line x1="515.54" x2="515.54" y1="509.32" y2="510.42" stroke="#aaa" stroke-width="0.5"/>
<text x="515.54" y="516.06" font-size="5.7" text-anchor="middle" fill="#111">200</text>
<text x="368" y="420.54" font-size="5.45" fill="#111">Channel 7</text>
<path d="M411.4,417.5 437.8,417.3 438.6,417.2 439.5,417 440.3,417 441.1,416.9 441.8,416.9 442.6,416.7 443.4,416.7 444.1,416.8 444.9,416.6 445.6,416.7 446.4,416.5 447.2,416.7 447.9,416.6 448.7,416.6 449.5,416.6 450.2,416.5 451,416.5 451.7,416.4 452.5,416.2 453.3,416.5 454,416.4 454.8,416.2 455.5,416.3 456.2,416.1 457,416.2 457.7,416.1 458.4,416.2 459.2,416 459.9,416 460.6,416 461.4,416.2 462.1,416 462.8,416.2 463.6,415.9 464.3,416.2 465,416.2 465.8,416.2 466.5,416 467.2,416 467.9,415.8 468.7,416.2 469.4,415.7 470.1,415.6 470.8,415.6 471.6,415.4 472.3,415.6 473,415.8 473.7,415.8 474.4,415.3 475.3,415.4 476.1,415.5 476.9,415.3 477.7,414.9 478.5,414.6 479.3,414.5 480.2,413.9 480.9,414 481.6,414.2 482.3,414.1 483,413.6 483.7,413.6 484.4,414.1 485.2,413.5 485.9,413.1 486.6,413.2 487.3,413.5 488,413.4 488.8,414.1 489.5,413.9 490.2,414.3 490.9,413.7 491.7,413.8 492.4,414 493.1,414.4 493.8,414 494.6,414.7 495.3,414.8 496.1,414.7 496.8,414.7 497.5,414.4 498.3,414.5 499,414.7 499.7,414.4 500.5,414.2 501.2,414.9 501.9,414.8 502.7,414.8 503.4,415.1 504.1,415.1 504.8,415.3 505.6,415.4 506.3,415.6 507,415.4 507.7,416 508.4,415.9 509.1,415.8 509.8,416.3 510.5,416.3 511.3,416.7 512.1,417 512.9,417.2 513.7,417.5 513.7,418.8 512.9,419 512.1,419.5 511.3,419.8 510.5,420.1 509.8,420 509.1,420.4 508.4,420.4 507.7,420.3 507,420.4 506.3,420.7 505.6,420.8 504.8,420.7 504.1,420.9 503.4,421.5 502.7,421.2 501.9,421.8 501.2,421.4 500.5,421.3 499.7,421.8 499,421.6 498.3,422.4 497.5,422.2 496.8,422.1 496.1,422 495.3,421.8 494.6,422.1 493.8,422.3 493.1,422.1 492.4,421.7 491.7,422.4 490.9,422.1 490.2,422.4 489.5,421.9 488.8,422.4 488,422 487.3,422.9 486.6,423.1 485.9,422.9 485.2,422.3 484.4,422.9 483.7,422.2 483,422.9 482.3,422 481.6,421.9 480.9,422.4 480.2,422.5 479.3,421.8 478.5,421.5 477.7,421.3 476.9,421.2 476.1,421 475.3,420.7 474.4,420.8 473.7,420.6 473,420.6 472.3,420.8 471.6,420.8 470.8,420.3 470.1,420.7 469.4,420.6 468.7,420.4 467.9,420.6 467.2,420.1 466.5,420.3 465.8,420.5 465,420.2 464.3,420.2 463.6,420.1 462.8,420 462.1,420.2 461.4,420.1 460.6,420.1 459.9,420.3 459.2,420.1 458.4,420.2 457.7,420 457,420.2 456.2,420.2 455.5,420.1 454.8,420.2 454,420.1 453.3,420.1 452.5,419.9 451.7,419.8 451,419.8 450.2,419.8 449.5,419.8 448.7,419.9 447.9,419.6 447.2,419.6 446.4,419.7 445.6,419.8 444.9,419.8 444.1,419.7 443.4,419.6 442.6,419.4 441.8,419.4 441.1,419.6 440.3,419.2 439.5,419.2 438.6,419.1 437.8,419 411.4,418.8Z" fill="url(#g100)"/>
<line x1="409.19" x2="409.69" y1="418.14" y2="418.14" stroke="#046ef2" stroke-width="1.5" stroke-linecap="round"/>
<line x1="517.53" x2="518.28" y1="418.14" y2="418.14" stroke="#fa0550" stroke-width="1.5" stroke-linecap="round"/>
<path d="M464.2,417.8h0M473.6,418.1h0M461.3,416.7h0M449.7,419.1h0M463.5,417.4h0M476.1,416.4h0M461,419.5h0M452.8,418.2h0M448.9,418.9h0M471.7,416.6h0M450.1,419h0M464.7,416.7h0M458.1,418.7h0M460.6,417.7h0M464.9,416.9h0M456.1,416.8h0M455,417.6h0M463.2,419.7h0M448.6,418.8h0M449.5,418.7h0M463.5,418.5h0M459.4,418.1h0M471.8,417.5h0M458.2,417.2h0M446.7,419h0M451.6,418.8h0M453.8,417h0M470.5,419.2h0M466.9,417.2h0M463,418.8h0M458.4,419.4h0M474.6,416.7h0M449.7,418h0M459.5,417.2h0M474.5,417.4h0M459.1,417.4h0M470.3,418.7h0M455.3,417.5h0M449.3,419.4h0M451.2,419.3h0M450.3,418.3h0" stroke="#1c6bf0" stroke-width="0.9" stroke-linecap="round" fill="none" opacity="0.75"/>
<path d="M475.1,416.8h0M465.2,418.9h0M476,417.4h0M447.7,419.1h0M471,417.7h0M455.5,418.1h0M465.9,417.7h0M474.7,419.6h0M474,419.8h0M473,417.2h0M466.6,418.7h0M452.8,418.8h0M465.9,418.6h0M474,419.6h0" stroke="#f20b5e" stroke-width="0.9" stroke-linecap="round" fill="none" opacity="0.75"/>
<path d="M502.4,419.2h0M505.1,418.4h0M480.5,419.7h0M479.9,416.3h0M497.3,419.6h0M509.4,419h0M505.4,417.6h0M486.2,421.2h0M481.9,415.5h0M492.3,418.9h0M479.9,416.8h0M485.9,417.5h0M481,416.4h0M495.9,419.8h0M482.7,416.5h0" stroke="#1c6bf0" stroke-width="0.9" stroke-linecap="round" fill="none" opacity="0.75"/>
<path d="M501.6,420.2h0M494.4,420.8h0M485.1,416h0M495.9,417.7h0M485.4,417.5h0M485.5,418h0M487.5,419.8h0M488.4,420.5h0M493.6,418.4h0M490.5,418h0M507.6,417.7h0M488,419.8h0M497.1,419.7h0M509,417.5h0M484.1,421.6h0M485.8,421.2h0M501.5,417.7h0M498.7,420.3h0M501.1,415.7h0M488,418.4h0M497.6,415.1h0M487.8,417.6h0M484.9,416.1h0M506.4,417h0M499.6,420.5h0M502.4,420.3h0M498.6,417.3h0M487.5,419.2h0M482.2,420.5h0M495.5,421.1h0M496.9,417.8h0M479.2,420h0M490.8,420.9h0M494.9,415.3h0M490.7,417.7h0M486.8,420.5h0M489.8,420.6h0M491.9,415.9h0M482.4,420.7h0M488.9,419.1h0M509.9,417.2h0M499.1,417.8h0M493.2,417.6h0M491.2,416.8h0M503.2,416.4h0M489.8,421.2h0M486.3,419.8h0M487.8,417.5h0M506.6,418.3h0M498.3,420.1h0M499.1,416.4h0M487.2,417.5h0M497.6,415.3h0M497.8,419.9h0M507.7,418.8h0M482.2,417.6h0M505.2,419.3h0M509.1,417.2h0M496.4,417.8h0M480.4,420.7h0M488.8,415.8h0M489.8,421.4h0M496.1,419h0M503.4,419.8h0M508.4,417.6h0M486.7,415.4h0M480.4,420.5h0M503.9,417h0M480.6,417.8h0M485,415.6h0M489.9,417h0M481.1,419.1h0M498,417.1h0M503,418.4h0M505.5,417.9h0M496.6,415.4h0M481.5,420.9h0M482.7,416.1h0M495.8,417.6h0M486.4,416h0M497.4,421.2h0M504.5,418.4h0M498.6,415.1h0M483,419.4h0M492.4,416h0M487.6,415.6h0M488.8,416h0M492.3,415.1h0M482.7,420.7h0M485.2,420.3h0M503.6,418.8h0" stroke="#f20b5e" stroke-width="0.9" stroke-linecap="round" fill="none" opacity="0.75"/>
<text x="368" y="429.54" font-size="5.45" fill="#111">Channel 1</text>
<path d="M454.9,427.5 455.6,427.5 456.4,427.4 457.1,427.3 457.8,427.3 458.6,427.2 459.3,427.1 460,427.1 460.8,427 461.5,427 462.3,426.8 463.1,426.1 463.9,426 464.7,425.5 465.5,425.4 466.3,425.2 467.1,424.8 467.9,424.2 468.7,424.3 469.5,424.4 470.3,424.3 471,424.4 471.8,423.8 472.5,424 473.2,424 474,424.2 474.7,424.2 475.4,423.9 476.2,424 477,424.3 477.8,424.7 478.6,424.7 479.4,424.8 480.2,425 481,425.4 481.8,425.6 482.7,425.5 483.5,425.9 484.3,425.5 485.2,425.9 486,425.8 486.7,425.7 487.5,425.9 488.3,425.5 489.1,425.9 489.9,425.7 490.6,425.7 491.4,426 492.1,425.7 492.9,426.2 493.6,426 494.4,426.1 495.1,426.2 495.9,426 496.6,426.1 497.4,426.4 498.1,426.2 498.9,426.6 499.6,426.6 500.3,426.3 501.1,426.7 501.8,426.6 502.6,426.8 503.3,426.8 504.1,426.9 504.8,426.9 505.6,427 506.3,427 507.1,427.1 507.8,427.2 508.6,427.3 509.3,427.4 510.1,427.5 510.1,428.8 509.3,428.8 508.6,428.9 507.8,429 507.1,429.1 506.3,429.2 505.6,429.4 504.8,429.5 504.1,429.4 503.3,429.4 502.6,429.5 501.8,429.7 501.1,429.6 500.3,429.8 499.6,429.8 498.9,430 498.1,429.8 497.4,430 496.6,429.9 495.9,430.3 495.1,430.2 494.4,430.2 493.6,430.1 492.9,430.2 492.1,430.4 491.4,430.7 490.6,430.4 489.9,430.8 489.1,430.9 488.3,430.5 487.5,430.6 486.7,430.6 486,430.6 485.2,430.3 484.3,430.2 483.5,430.5 482.7,430.5 481.8,430.9 481,431.1 480.2,431.6 479.4,431 478.6,431.8 477.8,431.5 477,432.2 476.2,432.3 475.4,432.2 474.7,432.5 474,432.7 473.2,431.8 472.5,432.1 471.8,432.1 471,432.5 470.3,431.9 469.5,432.5 468.7,431.9 467.9,431.4 467.1,431.5 466.3,431.4 465.5,431.1 464.7,430.8 463.9,430.3 463.1,429.8 462.3,429.7 461.5,429.3 460.8,429.3 460,429.2 459.3,429.1 458.6,429 457.8,429 457.1,428.9 456.4,428.8 455.6,428.8 454.9,428.8Z" fill="url(#g101)"/>
<path d="M465,428h0M477.8,429h0M478.6,426.5h0M478.7,430.3h0M472.5,431.5h0M477.7,426.8h0M469.2,430.6h0M478.8,427.3h0M476.1,428.7h0M469.5,428.1h0M468.6,429h0M478.5,428.3h0M467.4,426.9h0M473,430.6h0M477.1,427.7h0M467.6,428.1h0M477.8,430.2h0M476.8,429.5h0M472.1,429.4h0M473.4,426.7h0" stroke="#1c6bf0" stroke-width="0.9" stroke-linecap="round" fill="none" opacity="0.75"/>
<path d="M465.6,427.2h0M473.8,426.7h0M475.3,430.6h0M466.1,429.5h0M477.7,428.1h0M471.6,430.5h0M470.3,425.8h0M473.5,426.5h0M478.4,428h0M468,429.2h0M468.2,429.3h0M466.4,428.2h0M471.7,429.2h0M476.1,430h0M468.7,430.4h0M473.6,427h0M465.8,429.2h0M466.8,427.1h0M478.7,430.4h0M475.2,431.2h0M470.9,425.9h0M479.1,430.5h0M471.3,429.4h0M475.5,430.5h0M477.1,429.9h0M471.8,426.5h0M474.7,429.3h0M465.1,429.4h0M466.8,425.8h0M468.6,428.3h0M476.6,425.9h0M469.2,429.2h0" stroke="#f20b5e" stroke-width="0.9" stroke-linecap="round" fill="none" opacity="0.75"/>
<text x="368" y="439.94" font-size="5.45" fill="#111">Channel 2</text>
<path d="M445.8,437.6 472.7,437.3 473.4,437 474.1,436.9 474.8,436.7 475.4,436.6 476.2,436.3 476.9,436.1 477.7,435.6 478.6,435.5 479.4,435.7 480.2,435 480.9,434.6 481.6,434.5 482.3,433.7 483,434.4 483.7,434.6 484.4,435.5 485.2,436.2 485.9,436.2 486.6,436.3 487.3,436.4 488,436.7 488.7,436.7 489.4,437 490.1,436.9 490.8,437.2 491.6,437.1 492.3,437.2 493.1,437.2 493.8,437.2 494.6,437.3 495.3,437.2 496.1,437.2 496.8,437.2 497.6,437.2 498.3,437.3 499.1,437.3 499.8,437.3 500.6,437.3 501.3,437.3 502.1,437.3 502.8,437.4 503.6,437.4 504.4,437.4 505.1,437.4 505.9,437.4 506.6,437.4 507.4,437.5 508.1,437.5 508.9,437.5 509.6,437.5 510.4,437.5 511.1,437.5 511.9,437.6 512.6,437.6 513.4,437.6 514.1,437.6 514.9,437.6 515.6,437.6 516.4,437.6 517.1,437.6 517.9,437.6 518.7,437.6 518.7,438.9 517.9,438.9 517.1,438.9 516.4,438.9 515.6,438.9 514.9,438.9 514.1,439 513.4,439 512.6,439 511.9,439 511.1,439 510.4,439 509.6,439.1 508.9,439.1 508.1,439.1 507.4,439.1 506.6,439.1 505.9,439.1 505.1,439.2 504.4,439.2 503.6,439.2 502.8,439.2 502.1,439.2 501.3,439.2 500.6,439.3 499.8,439.3 499.1,439.3 498.3,439.3 497.6,439.3 496.8,439.3 496.1,439.4 495.3,439.4 494.6,439.4 493.8,439.4 493.1,439.5 492.3,439.5 491.6,439.6 490.8,439.6 490.1,439.6 489.4,439.9 488.7,439.9 488,439.8 487.3,439.8 486.6,440.2 485.9,440.1 485.2,440.5 484.4,440.8 483.7,441.5 483,442.5 482.3,443.1 481.6,442.2 480.9,442.1 480.2,441.8 479.4,440.9 478.6,441.2 477.7,440.7 476.9,440.3 476.2,440.3 475.4,440.1 474.8,439.9 474.1,439.7 473.4,439.5 472.7,439.3 445.8,439Z" fill="url(#g102)"/>
<path d="M477.6,440h0M479.1,437.9h0M480.6,438.7h0M478.3,437.2h0" stroke="#1c6bf0" stroke-width="0.9" stroke-linecap="round" fill="none" opacity="0.75"/>
<path d="M476.8,438.6h0M476.7,437.9h0M477.6,439.4h0M477.1,439.3h0M474.9,439.1h0M478.5,438.3h0M477.8,437.1h0M477.7,439h0M479.6,440.5h0" stroke="#f20b5e" stroke-width="0.9" stroke-linecap="round" fill="none" opacity="0.75"/>
<text x="368" y="449.74" font-size="5.45" fill="#111">McClear</text>
<path d="M447.8,447.5 448.5,447.5 449.3,447.5 450,447.4 450.7,447.4 451.5,447.4 452.2,447.4 453,447.3 453.7,447.3 454.4,447.3 455.2,447.3 455.9,447.2 456.6,447.2 457.4,447.2 458.1,447.2 458.8,447.1 459.6,447.1 460.3,447.1 461.1,447.1 461.8,447 462.5,447 463.3,447 464,446.9 464.7,446.8 465.5,446.8 466.2,446.7 466.9,446.6 467.6,446.2 468.3,446.3 468.9,445.8 469.6,445.8 470.5,445.3 471.5,444.8 472.2,444 473,444 473.8,444.3 474.7,444.6 475.6,445.4 476.4,445.7 477.2,445.8 477.9,445.9 478.7,445.7 479.4,445.9 480.2,446 481,445.9 481.8,445.7 482.7,445.8 483.4,446.1 484.1,446.3 484.9,446.2 485.6,446.3 486.4,446.4 487.1,446.1 487.8,446.2 488.6,446.5 489.3,446.6 490.1,446.7 490.8,446.4 491.6,446.5 492.3,446.8 493.1,446.9 493.8,447 494.6,447 495.3,447.1 496.1,447.1 496.8,447.2 497.6,447.3 498.3,447.4 499.1,447.4 499.8,447.5 499.8,448.8 499.1,448.8 498.3,448.8 497.6,448.9 496.8,449 496.1,449.1 495.3,449.1 494.6,449.2 493.8,449.2 493.1,449.5 492.3,449.5 491.6,449.5 490.8,449.6 490.1,449.6 489.3,449.7 488.6,449.8 487.8,449.9 487.1,449.9 486.4,450.1 485.6,450.2 484.9,450.1 484.1,450.1 483.4,450.4 482.7,450.1 481.8,450.3 481,450.4 480.2,450.3 479.4,450.4 478.7,450.5 477.9,450.7 477.2,450.3 476.4,450.9 475.6,451 474.7,451.6 473.8,451.6 473,452.1 472.2,452 471.5,451.2 470.5,450.7 469.6,450.4 468.9,450.3 468.3,450.1 467.6,450.1 466.9,449.6 466.2,449.5 465.5,449.3 464.7,449.3 464,449.2 463.3,449.2 462.5,449.2 461.8,449.2 461.1,449.1 460.3,449.1 459.6,449.1 458.8,449.1 458.1,449 457.4,449 456.6,449 455.9,449 455.2,448.9 454.4,448.9 453.7,448.9 453,448.9 452.2,448.8 451.5,448.8 450.7,448.8 450,448.8 449.3,448.8 448.5,448.8 447.8,448.8Z" fill="url(#g103)"/>
<text x="368" y="460.54" font-size="5.45" fill="#111">Observation</text>
<path d="M444,457.8 444.7,457.8 445.5,457.8 446.2,457.8 447,457.8 447.7,457.7 448.5,457.7 449.2,457.7 450,457.7 450.7,457.7 451.5,457.6 452.2,457.6 453,457.6 453.7,457.6 454.5,457.6 455.2,457.5 456,457.5 456.7,457.5 457.5,457.5 458.2,457.5 459,457.4 459.7,457.4 460.5,457.4 461.2,457.4 462,457.4 462.7,457.3 463.5,457.3 464.2,457.3 465,457.2 465.7,457.2 466.5,457.2 467.2,457.3 468,457 468.8,456.7 469.6,456.6 470.4,456.4 471.2,456.1 472,455.4 472.7,455 473.4,454 474.1,454.3 474.8,454.5 475.4,455.4 476.3,455.3 477.2,455.8 478,455.9 478.8,456.1 479.6,456.3 480.3,456.6 481.1,456.3 481.9,456.6 482.6,456.6 483.4,456.7 484.1,456.9 484.8,456.8 485.5,456.9 486.3,456.8 487,456.9 487.7,457.1 488.4,457 489.1,457.2 489.9,457.4 490.8,457.5 491.6,457.7 492.4,457.8 492.4,459.1 491.6,459.1 490.8,459.3 489.9,459.5 489.1,459.5 488.4,459.7 487.7,459.7 487,459.7 486.3,460 485.5,459.9 484.8,460 484.1,459.9 483.4,460.3 482.6,460 481.9,460.2 481.1,460.5 480.3,460.4 479.6,460.5 478.8,460.9 478,461 477.2,460.8 476.3,461.3 475.4,461.8 474.8,462 474.1,462.9 473.4,462.3 472.7,461.7 472,461.5 471.2,460.9 470.4,460.8 469.6,460.3 468.8,460.3 468,460 467.2,459.6 466.5,459.5 465.7,459.5 465,459.6 464.2,459.4 463.5,459.5 462.7,459.5 462,459.5 461.2,459.4 460.5,459.4 459.7,459.4 459,459.4 458.2,459.4 457.5,459.3 456.7,459.3 456,459.3 455.2,459.3 454.5,459.3 453.7,459.2 453,459.2 452.2,459.2 451.5,459.2 450.7,459.2 450,459.1 449.2,459.1 448.5,459.1 447.7,459.1 447,459.1 446.2,459.1 445.5,459.1 444.7,459.1 444,459.1Z" fill="url(#g104)"/>
<line x1="493.37" x2="494.12" y1="458.41" y2="458.41" stroke="#046ef2" stroke-width="1.5" stroke-linecap="round"/>
<path d="M475.3,461.1h0M474.6,458h0M473.1,457h0M474.9,457.5h0M475.3,460.2h0M473.4,459.5h0M475.3,458.6h0M474.1,459.8h0M472.7,459.8h0" stroke="#1c6bf0" stroke-width="0.9" stroke-linecap="round" fill="none" opacity="0.75"/>
<path d="M472.4,455.9h0M472.1,456.8h0M476.2,457.7h0M474.4,457.6h0M470.9,458.2h0M472.1,457.2h0M474.5,456.7h0M475.6,460.1h0M475.4,457.1h0" stroke="#f20b5e" stroke-width="0.9" stroke-linecap="round" fill="none" opacity="0.75"/>
<text x="368" y="471.34" font-size="5.45" fill="#111">Channel 5</text>
<path d="M452,468.3 452.8,468.2 453.5,468.2 454.2,468.2 455,468.2 455.7,468.1 456.4,468.1 457.2,468.1 457.9,468.1 458.6,468 459.4,468 460.1,468 460.8,468 461.6,467.9 462.3,467.9 463,467.9 463.8,467.8 464.5,467.9 465.2,467.9 466,467.7 466.8,467.5 467.6,467.2 468.4,466.8 469.3,466.9 470.1,466.6 471,466 472,465.6 472.6,465.5 473.2,465 473.8,465.2 474.5,465.4 475.2,465 475.9,465.5 476.7,465.6 477.5,465.4 478.3,465.5 479.1,465.9 479.9,466 480.7,466.4 481.5,467 482.4,467.2 483.2,467.4 484,467.4 484.8,467.7 485.6,467.9 486.3,468 487.1,468.1 487.8,468.3 488.6,468.3 488.6,469.6 487.8,469.7 487.1,469.8 486.3,469.9 485.6,470 484.8,470.2 484,470.4 483.2,470.6 482.4,470.7 481.5,470.9 480.7,471.6 479.9,471.7 479.1,471.7 478.3,472.4 477.5,472.5 476.7,473 475.9,472.5 475.2,472.8 474.5,472.5 473.8,472.9 473.2,473.2 472.6,472.8 472,472.5 471,471.9 470.1,471.5 469.3,471.3 468.4,470.7 467.6,470.5 466.8,470.5 466,470.1 465.2,470.2 464.5,470 463.8,470 463,470.1 462.3,470 461.6,470 460.8,470 460.1,470 459.4,469.9 458.6,469.9 457.9,469.9 457.2,469.9 456.4,469.8 455.7,469.8 455,469.8 454.2,469.7 453.5,469.7 452.8,469.7 452,469.7Z" fill="url(#g105)"/>
<line x1="447.05" x2="447.79" y1="468.97" y2="468.97" stroke="#fa0550" stroke-width="1.5" stroke-linecap="round"/>
<line x1="449.04" x2="450.53" y1="468.97" y2="468.97" stroke="#fa0550" stroke-width="1.5" stroke-linecap="round"/>
<path d="M477,471.2h0M473.8,468.3h0M471.3,467h0M475.7,469h0M471,467.6h0M477.3,471.2h0M470.6,467.7h0M472,466.7h0M477,470.7h0M473.6,466.3h0M476.1,466.5h0M471,467.6h0M470.9,470.9h0M475.8,470h0" stroke="#1c6bf0" stroke-width="0.9" stroke-linecap="round" fill="none" opacity="0.75"/>
<path d="M474.8,471.9h0M475.2,467.8h0M477.1,466.3h0M473,467.3h0M470.9,469.1h0M472.6,471.3h0M470,468.9h0M474.6,467.3h0M476.8,469h0M475.3,471.5h0M469.7,467.4h0M477.3,468.5h0M476.9,467.9h0" stroke="#f20b5e" stroke-width="0.9" stroke-linecap="round" fill="none" opacity="0.75"/>
<path d="M479.3,468.2h0M482.8,468.6h0M481.3,467.7h0M485.4,468.9h0M483.8,469.8h0M480.5,467.8h0M486,468.7h0M484.7,468.6h0M479.1,468.5h0M485.1,468.6h0M484.6,468.3h0" stroke="#1c6bf0" stroke-width="0.9" stroke-linecap="round" fill="none" opacity="0.75"/>
<path d="M483.9,468.5h0" stroke="#f20b5e" stroke-width="0.9" stroke-linecap="round" fill="none" opacity="0.75"/>
<text x="368" y="481.34" font-size="5.45" fill="#111">Channel 4</text>
<path d="M454.9,478.3 455.6,478.3 456.4,478.3 457.1,478.3 457.9,478.2 458.6,478.2 459.4,478.1 460.1,478.1 460.9,478.1 461.6,478 462.4,478 463.1,478 463.9,477.9 464.6,477.9 465.4,477.8 466.1,477.7 466.9,477.8 467.6,477.8 468.5,477.5 469.3,477.1 470.1,476.9 470.9,476.6 471.7,476.7 472.4,476.2 473,476 473.7,475.7 474.4,474.9 475.1,474.9 475.8,474.2 476.6,475 477.4,474.9 478.2,475.3 479,474.8 479.9,475.6 480.7,475.6 481.4,476.1 482,476.2 482.7,476.4 483.4,476.8 484.1,476.9 484.8,477 485.6,477.4 486.5,477.5 487.3,477.4 488.1,477.6 488.9,477.8 489.6,477.8 490.4,477.9 491.2,477.9 491.9,477.9 492.7,478 493.4,478 494.2,478.1 494.9,478.1 495.7,478.2 496.5,478.2 497.2,478.3 498,478.3 498.7,478.3 498.7,479.6 498,479.6 497.2,479.6 496.5,479.7 495.7,479.7 494.9,479.7 494.2,479.8 493.4,479.8 492.7,479.9 491.9,479.9 491.2,480 490.4,480.1 489.6,480.1 488.9,480.1 488.1,480.3 487.3,480.4 486.5,480.4 485.6,480.8 484.8,480.9 484.1,481 483.4,481 482.7,481.1 482,481.7 481.4,482 480.7,482.7 479.9,482.4 479,482.8 478.2,483.2 477.4,483.4 476.6,483.4 475.8,483.7 475.1,483.2 474.4,482.3 473.7,482.5 473,481.9 472.4,482 471.7,481.5 470.9,480.9 470.1,480.9 469.3,480.7 468.5,480.4 467.6,480.1 466.9,480 466.1,480.1 465.4,480 464.6,480 463.9,479.9 463.1,479.9 462.4,479.9 461.6,479.8 460.9,479.8 460.1,479.8 459.4,479.7 458.6,479.7 457.9,479.7 457.1,479.6 456.4,479.6 455.6,479.6 454.9,479.6Z" fill="url(#g106)"/>
<path d="M475.4,481.1h0M475.3,475.6h0M471.9,478.9h0M475.2,476h0M473.3,476.6h0M470.7,479.6h0M471.7,480.4h0M472.9,478h0" stroke="#1c6bf0" stroke-width="0.9" stroke-linecap="round" fill="none" opacity="0.75"/>
<path d="M471.7,479.2h0M472.3,479.7h0M474.9,475.8h0M472.4,477.5h0M474.9,480.8h0M473.3,478.6h0M473.5,477.6h0M473.2,480.3h0M474.6,480h0M471.1,477.9h0" stroke="#f20b5e" stroke-width="0.9" stroke-linecap="round" fill="none" opacity="0.75"/>
<text x="368" y="491.34" font-size="5.45" fill="#111">Channel 6</text>
<path d="M450,488.4 450.7,488.4 451.5,488.4 452.2,488.3 453,488.3 453.7,488.3 454.4,488.3 455.2,488.3 455.9,488.3 456.7,488.2 457.4,488.2 458.2,488.2 458.9,488.2 459.7,488.2 460.4,488.1 461.2,488.1 461.9,488.1 462.7,488.1 463.4,488.1 464.2,488.1 464.9,488 465.7,488 466.4,488 467.2,488.1 467.9,487.9 468.7,488 469.4,487.8 470.2,487.9 470.9,487.9 471.7,487.6 472.5,487.4 473.3,487 474.1,486.9 474.9,486.9 475.8,486.2 476.7,485.7 477.5,484.8 478.3,484.3 479.1,485.1 479.9,485.6 480.7,486.3 481.5,486.7 482.4,486.9 483.2,487 484,487.3 484.8,487.7 485.7,487.8 486.4,487.9 487.1,487.9 487.9,488 488.6,488 489.4,488 490.1,488.1 490.9,488.1 491.6,488.1 492.4,488.1 493.1,488.2 493.9,488.2 494.6,488.2 495.4,488.3 496.1,488.3 496.9,488.3 497.6,488.3 498.4,488.4 499.1,488.4 499.8,488.4 500.6,488.4 501.3,488.4 502.1,488.4 502.8,488.4 502.8,489.7 502.1,489.7 501.3,489.7 500.6,489.8 499.8,489.8 499.1,489.8 498.4,489.8 497.6,489.9 496.9,489.9 496.1,489.9 495.4,489.9 494.6,490 493.9,490 493.1,490 492.4,490 491.6,490.1 490.9,490.1 490.1,490.1 489.4,490.2 488.6,490.2 487.9,490.2 487.1,490.2 486.4,490.2 485.7,490.2 484.8,490.5 484,490.6 483.2,491.2 482.4,491.1 481.5,491.8 480.7,492.3 479.9,492.3 479.1,493.5 478.3,493.1 477.5,492.8 476.7,492.5 475.8,492.4 474.9,491.4 474.1,491.6 473.3,491.1 472.5,490.8 471.7,490.5 470.9,490.3 470.2,490.4 469.4,490.3 468.7,490.3 467.9,490.3 467.2,490.3 466.4,490.2 465.7,490.2 464.9,490.2 464.2,490.1 463.4,490.1 462.7,490.1 461.9,490.1 461.2,490.1 460.4,490 459.7,490 458.9,490 458.2,490 457.4,490 456.7,490 455.9,489.9 455.2,489.9 454.4,489.9 453.7,489.9 453,489.9 452.2,489.8 451.5,489.8 450.7,489.8 450,489.8Z" fill="url(#g107)"/>
<line x1="505.33" x2="506.08" y1="489.1" y2="489.1" stroke="#5064ec" stroke-width="1.5" stroke-linecap="round"/>
<line x1="509.56" x2="510.31" y1="489.1" y2="489.1" stroke="#5064ec" stroke-width="1.5" stroke-linecap="round"/>
<path d="M475.4,491.1h0M479.4,488.1h0M474.6,488.1h0M478.2,486.6h0M479.3,489.2h0M476.2,487.3h0" stroke="#1c6bf0" stroke-width="0.9" stroke-linecap="round" fill="none" opacity="0.75"/>
<path d="M477.3,486.3h0M475.5,488.1h0M475.7,488.5h0M475.8,490.2h0M475.8,488.1h0M476.3,490.7h0M474.9,489.8h0M477.5,491.6h0M477.3,488.2h0M475.5,487.8h0M476,489.2h0M478.3,488.9h0M475.3,490h0" stroke="#f20b5e" stroke-width="0.9" stroke-linecap="round" fill="none" opacity="0.75"/>
<text x="368" y="501.34" font-size="5.45" fill="#111">Channel 3</text>
<path d="M460.2,498.3 461,498.3 461.8,498.3 462.5,498.2 463.3,498.2 464.1,498.1 464.8,498.1 465.6,498 466.4,498 467.1,498 467.9,497.9 468.6,497.9 469.4,497.8 470.2,497.8 470.9,497.8 471.7,497.7 472.4,497.5 473,497.1 473.7,496.9 474.8,496 475.8,494.7 476.8,495.4 477.8,496.6 478.5,497.2 479.2,497.3 479.9,497.3 480.7,497.6 481.4,497.5 482.2,497.5 482.9,497.7 483.7,497.6 484.4,497.6 485.2,497.6 485.9,497.7 486.6,497.7 487.4,497.6 488.1,497.6 488.9,497.7 489.6,497.8 490.4,497.7 491.1,497.8 491.9,497.8 492.6,497.9 493.4,497.9 494.1,497.9 494.9,497.9 495.6,497.9 496.4,497.9 497.1,498 497.9,498.3 497.9,499.6 497.1,499.9 496.4,499.9 495.6,499.9 494.9,499.9 494.1,499.9 493.4,499.9 492.6,500 491.9,500 491.1,500 490.4,500.1 489.6,500 488.9,500.1 488.1,500.1 487.4,500.2 486.6,500.2 485.9,500.3 485.2,500.2 484.4,500.1 483.7,500.2 482.9,500.1 482.2,500.3 481.4,500.2 480.7,500.2 479.9,500.3 479.2,500.8 478.5,500.7 477.8,501.2 476.8,501.9 475.8,503.2 474.8,501.8 473.7,500.9 473,500.7 472.4,500.6 471.7,500.1 470.9,500 470.2,500.1 469.4,500 468.6,499.9 467.9,499.9 467.1,499.9 466.4,499.8 465.6,499.8 464.8,499.7 464.1,499.7 463.3,499.6 462.5,499.6 461.8,499.6 461,499.6 460.2,499.6Z" fill="url(#g108)"/>
<line x1="501.59" x2="502.34" y1="498.91" y2="498.91" stroke="#fa0550" stroke-width="1.5" stroke-linecap="round"/>
<line x1="504.83" x2="505.58" y1="498.91" y2="498.91" stroke="#fa0550" stroke-width="1.5" stroke-linecap="round"/>
<rect x="530.35" y="407.8" width="1.3" height="101.3" fill="url(#cb)"/>
<text x="533.7" y="411.41" font-size="5.15" fill="#111">High</text>
<text x="533.7" y="511.71" font-size="5.15" fill="#111">Low</text>
<text transform="translate(545.05,458.1) rotate(-90)" font-size="4.35" text-anchor="middle" class="sf" fill="#000">Feature value</text>
<text x="463.49" y="522.23" font-size="6.0" font-weight="bold" text-anchor="middle" fill="#111" xml:space="preserve">SHAP  Value</text>
<text x="94.5" y="12.6" font-size="11.5" text-anchor="middle" fill="#111" textLength="41.6" lengthAdjust="spacingAndGlyphs">Yuzhong</text>
<text x="275.5" y="12.4" font-size="11.5" text-anchor="middle" fill="#111" textLength="33.6" lengthAdjust="spacingAndGlyphs">Minqin</text>
<text x="457.5" y="12.4" font-size="11.5" text-anchor="middle" fill="#111" textLength="49.7" lengthAdjust="spacingAndGlyphs">Dunhuang</text>
</svg>
</body></html>
